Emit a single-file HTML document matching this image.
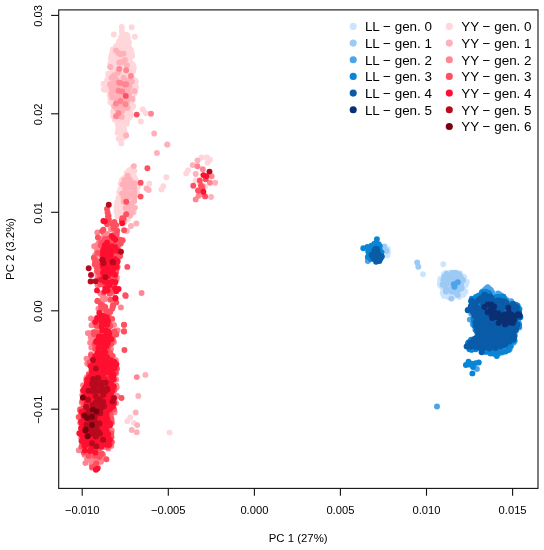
<!DOCTYPE html>
<html lang="en"><head><meta charset="utf-8"><title>PCA plot</title>
<style>html,body{margin:0;padding:0;background:#fff}svg{display:block}text{font-family:"Liberation Sans",Arial,Helvetica,sans-serif;fill:#000}</style></head><body>
<svg width="544" height="550" viewBox="0 0 544 550">
<rect width="544" height="550" fill="#fff"/>
<g fill="#FFD6DA">
<circle cx="130.7" cy="78.2" r="2.95"/><circle cx="114.6" cy="64.7" r="2.95"/><circle cx="111.1" cy="95.2" r="2.95"/><circle cx="111.3" cy="80.0" r="2.95"/><circle cx="133.7" cy="93.7" r="2.95"/><circle cx="110.9" cy="77.6" r="2.95"/><circle cx="119.5" cy="112.6" r="2.95"/><circle cx="130.5" cy="115.5" r="2.95"/><circle cx="120.5" cy="51.1" r="2.95"/><circle cx="122.8" cy="114.6" r="2.95"/><circle cx="126.6" cy="122.6" r="2.95"/><circle cx="123.6" cy="93.9" r="2.95"/><circle cx="127.3" cy="35.5" r="2.95"/><circle cx="119.7" cy="125.5" r="2.95"/><circle cx="116.4" cy="92.1" r="2.95"/><circle cx="124.8" cy="118.6" r="2.95"/><circle cx="120.1" cy="67.8" r="2.95"/><circle cx="112.1" cy="94.1" r="2.95"/><circle cx="122.8" cy="49.4" r="2.95"/><circle cx="106.0" cy="89.9" r="2.95"/><circle cx="124.9" cy="87.2" r="2.95"/><circle cx="122.4" cy="121.6" r="2.95"/><circle cx="126.4" cy="75.7" r="2.95"/><circle cx="118.7" cy="89.7" r="2.95"/><circle cx="114.0" cy="109.5" r="2.95"/><circle cx="125.3" cy="83.2" r="2.95"/><circle cx="131.1" cy="53.7" r="2.95"/><circle cx="123.0" cy="68.3" r="2.95"/><circle cx="121.5" cy="121.6" r="2.95"/><circle cx="123.6" cy="72.2" r="2.95"/><circle cx="118.4" cy="102.4" r="2.95"/><circle cx="128.1" cy="111.4" r="2.95"/><circle cx="122.3" cy="108.8" r="2.95"/><circle cx="105.9" cy="85.4" r="2.95"/><circle cx="122.0" cy="137.0" r="2.95"/><circle cx="115.6" cy="52.1" r="2.95"/><circle cx="117.6" cy="120.0" r="2.95"/><circle cx="111.2" cy="57.2" r="2.95"/><circle cx="119.8" cy="120.8" r="2.95"/><circle cx="122.0" cy="35.4" r="2.95"/><circle cx="119.3" cy="54.2" r="2.95"/><circle cx="122.4" cy="128.2" r="2.95"/><circle cx="118.8" cy="93.3" r="2.95"/><circle cx="110.8" cy="90.4" r="2.95"/><circle cx="129.7" cy="91.2" r="2.95"/><circle cx="112.8" cy="49.4" r="2.95"/><circle cx="121.9" cy="105.6" r="2.95"/><circle cx="123.2" cy="121.9" r="2.95"/><circle cx="127.7" cy="37.2" r="2.95"/><circle cx="128.6" cy="41.7" r="2.95"/><circle cx="112.2" cy="65.9" r="2.95"/><circle cx="112.2" cy="87.6" r="2.95"/><circle cx="119.1" cy="127.4" r="2.95"/><circle cx="114.8" cy="94.5" r="2.95"/><circle cx="126.7" cy="56.4" r="2.95"/><circle cx="126.2" cy="106.2" r="2.95"/><circle cx="128.4" cy="43.1" r="2.95"/><circle cx="119.0" cy="76.2" r="2.95"/><circle cx="120.9" cy="43.4" r="2.95"/><circle cx="126.9" cy="95.2" r="2.95"/><circle cx="128.6" cy="95.7" r="2.95"/><circle cx="126.3" cy="102.3" r="2.95"/><circle cx="116.8" cy="55.3" r="2.95"/><circle cx="111.0" cy="59.3" r="2.95"/><circle cx="116.7" cy="120.1" r="2.95"/><circle cx="115.8" cy="100.1" r="2.95"/><circle cx="126.5" cy="54.7" r="2.95"/><circle cx="127.8" cy="76.4" r="2.95"/><circle cx="135.0" cy="91.9" r="2.95"/><circle cx="126.0" cy="48.8" r="2.95"/><circle cx="120.1" cy="61.1" r="2.95"/><circle cx="118.2" cy="75.4" r="2.95"/><circle cx="113.2" cy="116.2" r="2.95"/><circle cx="117.5" cy="66.3" r="2.95"/><circle cx="117.0" cy="99.1" r="2.95"/><circle cx="128.9" cy="75.4" r="2.95"/><circle cx="123.4" cy="73.3" r="2.95"/><circle cx="122.2" cy="56.4" r="2.95"/><circle cx="118.9" cy="41.8" r="2.95"/><circle cx="125.2" cy="45.0" r="2.95"/><circle cx="125.9" cy="69.1" r="2.95"/><circle cx="112.7" cy="66.6" r="2.95"/><circle cx="113.1" cy="80.6" r="2.95"/><circle cx="115.3" cy="107.2" r="2.95"/><circle cx="130.1" cy="53.2" r="2.95"/><circle cx="124.6" cy="136.1" r="2.95"/><circle cx="117.6" cy="122.8" r="2.95"/><circle cx="108.2" cy="73.8" r="2.95"/><circle cx="109.0" cy="89.5" r="2.95"/><circle cx="114.2" cy="69.7" r="2.95"/><circle cx="113.6" cy="68.5" r="2.95"/><circle cx="123.3" cy="84.5" r="2.95"/><circle cx="117.3" cy="45.8" r="2.95"/><circle cx="123.5" cy="133.1" r="2.95"/><circle cx="133.0" cy="94.0" r="2.95"/><circle cx="118.3" cy="89.6" r="2.95"/><circle cx="131.7" cy="53.8" r="2.95"/><circle cx="128.6" cy="103.6" r="2.95"/><circle cx="115.0" cy="112.6" r="2.95"/><circle cx="122.8" cy="60.1" r="2.95"/><circle cx="116.5" cy="103.2" r="2.95"/><circle cx="129.3" cy="106.3" r="2.95"/><circle cx="117.3" cy="97.8" r="2.95"/><circle cx="131.8" cy="66.0" r="2.95"/><circle cx="108.8" cy="82.1" r="2.95"/><circle cx="116.5" cy="84.8" r="2.95"/><circle cx="125.4" cy="134.6" r="2.95"/><circle cx="118.3" cy="122.3" r="2.95"/><circle cx="128.8" cy="42.4" r="2.95"/><circle cx="123.4" cy="126.5" r="2.95"/><circle cx="121.5" cy="48.5" r="2.95"/><circle cx="126.6" cy="77.5" r="2.95"/><circle cx="116.9" cy="75.2" r="2.95"/><circle cx="113.8" cy="100.0" r="2.95"/><circle cx="125.8" cy="67.6" r="2.95"/><circle cx="111.3" cy="58.1" r="2.95"/><circle cx="120.9" cy="133.1" r="2.95"/><circle cx="117.9" cy="78.6" r="2.95"/><circle cx="114.7" cy="61.8" r="2.95"/><circle cx="126.4" cy="83.3" r="2.95"/><circle cx="107.2" cy="80.2" r="2.95"/><circle cx="130.8" cy="49.6" r="2.95"/><circle cx="116.2" cy="95.3" r="2.95"/><circle cx="114.3" cy="77.8" r="2.95"/><circle cx="129.1" cy="67.5" r="2.95"/><circle cx="123.8" cy="86.4" r="2.95"/><circle cx="116.7" cy="91.2" r="2.95"/><circle cx="113.4" cy="79.4" r="2.95"/><circle cx="130.2" cy="70.9" r="2.95"/><circle cx="118.7" cy="138.8" r="2.95"/><circle cx="135.5" cy="80.6" r="2.95"/><circle cx="110.4" cy="102.2" r="2.95"/><circle cx="130.4" cy="104.3" r="2.95"/><circle cx="129.8" cy="66.9" r="2.95"/><circle cx="119.3" cy="131.4" r="2.95"/><circle cx="129.4" cy="97.1" r="2.95"/><circle cx="113.0" cy="67.4" r="2.95"/><circle cx="133.9" cy="68.1" r="2.95"/><circle cx="119.9" cy="70.5" r="2.95"/><circle cx="125.6" cy="81.3" r="2.95"/><circle cx="134.0" cy="94.0" r="2.95"/><circle cx="130.0" cy="88.4" r="2.95"/><circle cx="121.9" cy="116.3" r="2.95"/><circle cx="119.6" cy="105.7" r="2.95"/><circle cx="113.9" cy="111.4" r="2.95"/><circle cx="113.3" cy="113.6" r="2.95"/><circle cx="108.7" cy="89.7" r="2.95"/><circle cx="129.6" cy="67.3" r="2.95"/><circle cx="113.1" cy="97.7" r="2.95"/><circle cx="121.6" cy="109.9" r="2.95"/><circle cx="133.0" cy="71.5" r="2.95"/><circle cx="118.1" cy="103.7" r="2.95"/><circle cx="117.7" cy="62.0" r="2.95"/><circle cx="116.5" cy="60.0" r="2.95"/><circle cx="124.0" cy="128.7" r="2.95"/><circle cx="119.6" cy="46.0" r="2.95"/><circle cx="122.6" cy="130.9" r="2.95"/><circle cx="131.7" cy="78.6" r="2.95"/><circle cx="117.6" cy="132.8" r="2.95"/><circle cx="126.6" cy="53.3" r="2.95"/><circle cx="126.0" cy="105.2" r="2.95"/><circle cx="111.7" cy="82.6" r="2.95"/><circle cx="119.1" cy="62.9" r="2.95"/><circle cx="116.5" cy="80.3" r="2.95"/><circle cx="123.7" cy="109.7" r="2.95"/><circle cx="113.5" cy="53.1" r="2.95"/><circle cx="124.7" cy="132.5" r="2.95"/><circle cx="129.6" cy="114.2" r="2.95"/><circle cx="122.0" cy="40.7" r="2.95"/><circle cx="120.9" cy="109.0" r="2.95"/><circle cx="132.6" cy="87.9" r="2.95"/><circle cx="121.6" cy="36.7" r="2.95"/><circle cx="127.0" cy="115.6" r="2.95"/><circle cx="126.6" cy="108.9" r="2.95"/><circle cx="123.6" cy="39.2" r="2.95"/><circle cx="129.8" cy="60.7" r="2.95"/><circle cx="131.7" cy="54.3" r="2.95"/><circle cx="115.5" cy="79.0" r="2.95"/><circle cx="125.1" cy="122.1" r="2.95"/><circle cx="116.9" cy="59.5" r="2.95"/><circle cx="112.5" cy="103.8" r="2.95"/><circle cx="117.9" cy="67.3" r="2.95"/><circle cx="112.1" cy="98.1" r="2.95"/><circle cx="124.0" cy="71.7" r="2.95"/><circle cx="116.9" cy="81.2" r="2.95"/><circle cx="113.1" cy="111.5" r="2.95"/><circle cx="114.9" cy="85.9" r="2.95"/><circle cx="118.6" cy="114.4" r="2.95"/><circle cx="124.0" cy="137.2" r="2.95"/><circle cx="133.3" cy="89.3" r="2.95"/><circle cx="110.5" cy="98.9" r="2.95"/><circle cx="117.4" cy="64.4" r="2.95"/><circle cx="132.2" cy="84.7" r="2.95"/><circle cx="132.2" cy="107.5" r="2.95"/><circle cx="108.4" cy="76.9" r="2.95"/><circle cx="120.6" cy="138.6" r="2.95"/><circle cx="107.2" cy="80.5" r="2.95"/><circle cx="124.0" cy="123.5" r="2.95"/><circle cx="130.4" cy="66.3" r="2.95"/><circle cx="117.2" cy="54.0" r="2.95"/><circle cx="124.9" cy="100.2" r="2.95"/><circle cx="133.3" cy="106.1" r="2.95"/><circle cx="123.6" cy="134.9" r="2.95"/><circle cx="129.5" cy="105.0" r="2.95"/><circle cx="127.4" cy="63.3" r="2.95"/><circle cx="112.7" cy="52.5" r="2.95"/><circle cx="115.0" cy="92.3" r="2.95"/><circle cx="114.4" cy="76.5" r="2.95"/><circle cx="133.2" cy="65.9" r="2.95"/><circle cx="112.2" cy="54.6" r="2.95"/><circle cx="121.8" cy="125.3" r="2.95"/><circle cx="128.4" cy="107.2" r="2.95"/><circle cx="122.6" cy="98.1" r="2.95"/><circle cx="110.8" cy="81.2" r="2.95"/><circle cx="124.5" cy="85.5" r="2.95"/><circle cx="114.4" cy="76.8" r="2.95"/><circle cx="117.9" cy="124.7" r="2.95"/><circle cx="123.3" cy="95.0" r="2.95"/><circle cx="115.3" cy="87.2" r="2.95"/><circle cx="117.4" cy="94.8" r="2.95"/><circle cx="115.8" cy="47.6" r="2.95"/><circle cx="118.1" cy="102.9" r="2.95"/><circle cx="112.6" cy="72.0" r="2.95"/><circle cx="120.4" cy="56.1" r="2.95"/><circle cx="127.3" cy="46.5" r="2.95"/><circle cx="118.5" cy="79.9" r="2.95"/><circle cx="114.6" cy="65.3" r="2.95"/><circle cx="123.4" cy="57.9" r="2.95"/><circle cx="117.4" cy="78.1" r="2.95"/><circle cx="112.3" cy="78.7" r="2.95"/><circle cx="132.1" cy="56.1" r="2.95"/><circle cx="132.6" cy="78.7" r="2.95"/><circle cx="114.6" cy="64.5" r="2.95"/><circle cx="117.0" cy="81.0" r="2.95"/><circle cx="116.3" cy="67.1" r="2.95"/><circle cx="118.7" cy="52.7" r="2.95"/><circle cx="126.2" cy="35.7" r="2.95"/><circle cx="115.5" cy="73.4" r="2.95"/><circle cx="112.1" cy="79.7" r="2.95"/><circle cx="134.8" cy="90.2" r="2.95"/><circle cx="113.2" cy="66.7" r="2.95"/><circle cx="121.9" cy="121.9" r="2.95"/><circle cx="115.3" cy="92.7" r="2.95"/><circle cx="120.3" cy="46.6" r="2.95"/><circle cx="121.6" cy="126.3" r="2.95"/><circle cx="113.2" cy="75.5" r="2.95"/><circle cx="128.1" cy="82.2" r="2.95"/><circle cx="121.4" cy="87.6" r="2.95"/><circle cx="120.7" cy="69.3" r="2.95"/><circle cx="126.5" cy="54.0" r="2.95"/><circle cx="126.8" cy="93.7" r="2.95"/><circle cx="121.9" cy="61.1" r="2.95"/><circle cx="129.4" cy="71.8" r="2.95"/><circle cx="121.9" cy="110.8" r="2.95"/><circle cx="115.5" cy="58.9" r="2.95"/><circle cx="132.8" cy="68.1" r="2.95"/><circle cx="128.9" cy="117.7" r="2.95"/><circle cx="120.4" cy="85.6" r="2.95"/><circle cx="115.7" cy="68.7" r="2.95"/><circle cx="126.3" cy="44.9" r="2.95"/><circle cx="118.0" cy="82.8" r="2.95"/><circle cx="121.9" cy="83.4" r="2.95"/><circle cx="125.8" cy="35.1" r="2.95"/><circle cx="118.2" cy="129.2" r="2.95"/><circle cx="130.1" cy="87.2" r="2.95"/><circle cx="112.9" cy="79.2" r="2.95"/><circle cx="120.2" cy="96.1" r="2.95"/><circle cx="126.6" cy="123.9" r="2.95"/><circle cx="110.8" cy="66.6" r="2.95"/><circle cx="125.2" cy="48.0" r="2.95"/><circle cx="123.0" cy="38.2" r="2.95"/><circle cx="109.8" cy="89.8" r="2.95"/><circle cx="110.2" cy="66.8" r="2.95"/><circle cx="122.3" cy="123.7" r="2.95"/><circle cx="118.7" cy="119.8" r="2.95"/><circle cx="118.0" cy="63.9" r="2.95"/><circle cx="129.6" cy="52.6" r="2.95"/><circle cx="120.9" cy="93.9" r="2.95"/><circle cx="117.2" cy="69.9" r="2.95"/><circle cx="117.3" cy="62.1" r="2.95"/><circle cx="134.2" cy="86.0" r="2.95"/><circle cx="128.5" cy="99.8" r="2.95"/><circle cx="126.1" cy="114.0" r="2.95"/><circle cx="113.2" cy="63.6" r="2.95"/><circle cx="121.0" cy="57.8" r="2.95"/><circle cx="130.6" cy="65.4" r="2.95"/><circle cx="121.0" cy="117.5" r="2.95"/><circle cx="129.2" cy="104.4" r="2.95"/><circle cx="114.5" cy="115.0" r="2.95"/><circle cx="129.9" cy="103.4" r="2.95"/><circle cx="119.8" cy="126.8" r="2.95"/><circle cx="120.7" cy="100.6" r="2.95"/><circle cx="110.4" cy="91.4" r="2.95"/><circle cx="124.7" cy="121.7" r="2.95"/><circle cx="124.1" cy="84.1" r="2.95"/><circle cx="129.3" cy="47.8" r="2.95"/><circle cx="124.8" cy="108.8" r="2.95"/><circle cx="120.9" cy="37.9" r="2.95"/><circle cx="120.9" cy="127.0" r="2.95"/><circle cx="121.8" cy="39.1" r="2.95"/><circle cx="109.8" cy="95.4" r="2.95"/><circle cx="127.5" cy="63.3" r="2.95"/><circle cx="129.8" cy="111.9" r="2.95"/><circle cx="109.5" cy="79.0" r="2.95"/><circle cx="127.2" cy="119.7" r="2.95"/><circle cx="123.7" cy="68.4" r="2.95"/><circle cx="128.8" cy="100.3" r="2.95"/><circle cx="130.8" cy="66.5" r="2.95"/><circle cx="130.0" cy="109.2" r="2.95"/><circle cx="124.2" cy="107.9" r="2.95"/><circle cx="129.3" cy="80.5" r="2.95"/><circle cx="124.9" cy="117.9" r="2.95"/><circle cx="120.2" cy="53.3" r="2.95"/><circle cx="121.6" cy="131.0" r="2.95"/><circle cx="130.3" cy="63.6" r="2.95"/><circle cx="122.9" cy="104.6" r="2.95"/><circle cx="115.9" cy="81.7" r="2.95"/><circle cx="126.2" cy="34.6" r="2.95"/><circle cx="114.8" cy="119.7" r="2.95"/><circle cx="119.4" cy="131.1" r="2.95"/><circle cx="134.0" cy="80.7" r="2.95"/><circle cx="114.5" cy="84.9" r="2.95"/><circle cx="135.9" cy="82.1" r="2.95"/><circle cx="111.6" cy="87.1" r="2.95"/><circle cx="124.7" cy="123.2" r="2.95"/><circle cx="128.1" cy="68.1" r="2.95"/><circle cx="132.4" cy="64.1" r="2.95"/><circle cx="122.1" cy="112.5" r="2.95"/><circle cx="122.0" cy="91.0" r="2.95"/><circle cx="132.6" cy="85.8" r="2.95"/><circle cx="107.9" cy="88.1" r="2.95"/><circle cx="132.4" cy="100.5" r="2.95"/><circle cx="126.0" cy="57.4" r="2.95"/><circle cx="116.2" cy="46.0" r="2.95"/><circle cx="125.3" cy="44.2" r="2.95"/><circle cx="122.1" cy="37.3" r="2.95"/><circle cx="125.8" cy="119.1" r="2.95"/><circle cx="117.2" cy="50.6" r="2.95"/><circle cx="132.2" cy="67.5" r="2.95"/><circle cx="128.2" cy="51.9" r="2.95"/><circle cx="136.3" cy="87.1" r="2.95"/><circle cx="121.0" cy="109.9" r="2.95"/><circle cx="121.6" cy="88.1" r="2.95"/><circle cx="113.3" cy="80.1" r="2.95"/><circle cx="122.8" cy="94.1" r="2.95"/><circle cx="112.4" cy="53.0" r="2.95"/><circle cx="116.8" cy="78.6" r="2.95"/><circle cx="122.5" cy="106.9" r="2.95"/><circle cx="116.1" cy="53.7" r="2.95"/><circle cx="125.5" cy="55.9" r="2.95"/><circle cx="123.6" cy="89.3" r="2.95"/><circle cx="115.1" cy="110.7" r="2.95"/><circle cx="121.4" cy="94.6" r="2.95"/><circle cx="126.9" cy="66.5" r="2.95"/><circle cx="127.5" cy="49.8" r="2.95"/><circle cx="132.5" cy="78.8" r="2.95"/><circle cx="111.5" cy="55.1" r="2.95"/><circle cx="120.7" cy="58.0" r="2.95"/><circle cx="134.1" cy="86.9" r="2.95"/><circle cx="130.7" cy="97.3" r="2.95"/><circle cx="120.5" cy="81.2" r="2.95"/><circle cx="128.2" cy="106.0" r="2.95"/><circle cx="126.9" cy="73.3" r="2.95"/><circle cx="123.5" cy="132.1" r="2.95"/><circle cx="124.2" cy="62.1" r="2.95"/><circle cx="121.4" cy="109.6" r="2.95"/><circle cx="127.0" cy="97.0" r="2.95"/><circle cx="119.9" cy="75.4" r="2.95"/><circle cx="124.8" cy="67.1" r="2.95"/><circle cx="114.0" cy="77.0" r="2.95"/><circle cx="123.5" cy="121.1" r="2.95"/><circle cx="113.0" cy="101.9" r="2.95"/><circle cx="123.1" cy="120.5" r="2.95"/><circle cx="110.4" cy="63.5" r="2.95"/><circle cx="128.2" cy="57.9" r="2.95"/><circle cx="127.1" cy="68.9" r="2.95"/><circle cx="119.1" cy="72.1" r="2.95"/><circle cx="132.7" cy="91.1" r="2.95"/><circle cx="118.7" cy="72.6" r="2.95"/><circle cx="128.9" cy="81.8" r="2.95"/><circle cx="121.3" cy="143.4" r="2.95"/><circle cx="120.6" cy="139.6" r="2.95"/><circle cx="123.0" cy="136.5" r="2.95"/><circle cx="103.5" cy="84.0" r="2.95"/><circle cx="103.8" cy="89.5" r="2.95"/><circle cx="121.7" cy="26.9" r="2.95"/><circle cx="121.9" cy="30.9" r="2.95"/><circle cx="131.7" cy="27.2" r="2.95"/><circle cx="113.8" cy="34.5" r="2.95"/><circle cx="134.8" cy="36.8" r="2.95"/><circle cx="142.7" cy="109.5" r="2.95"/><circle cx="145.9" cy="113.3" r="2.95"/><circle cx="140.8" cy="121.4" r="2.95"/><circle cx="137.1" cy="193.7" r="2.95"/><circle cx="127.2" cy="199.1" r="2.95"/><circle cx="130.8" cy="214.5" r="2.95"/><circle cx="132.4" cy="183.3" r="2.95"/><circle cx="136.8" cy="192.0" r="2.95"/><circle cx="131.7" cy="187.9" r="2.95"/><circle cx="134.3" cy="191.7" r="2.95"/><circle cx="122.7" cy="192.3" r="2.95"/><circle cx="127.8" cy="215.1" r="2.95"/><circle cx="135.3" cy="190.9" r="2.95"/><circle cx="120.5" cy="209.3" r="2.95"/><circle cx="132.7" cy="195.6" r="2.95"/><circle cx="119.3" cy="201.5" r="2.95"/><circle cx="132.0" cy="209.1" r="2.95"/><circle cx="128.6" cy="185.5" r="2.95"/><circle cx="120.9" cy="199.8" r="2.95"/><circle cx="133.6" cy="207.5" r="2.95"/><circle cx="122.8" cy="184.5" r="2.95"/><circle cx="128.6" cy="186.3" r="2.95"/><circle cx="121.6" cy="220.0" r="2.95"/><circle cx="126.7" cy="204.7" r="2.95"/><circle cx="117.9" cy="215.4" r="2.95"/><circle cx="125.3" cy="190.0" r="2.95"/><circle cx="120.6" cy="215.9" r="2.95"/><circle cx="120.3" cy="192.8" r="2.95"/><circle cx="134.0" cy="199.3" r="2.95"/><circle cx="121.7" cy="208.5" r="2.95"/><circle cx="117.4" cy="202.3" r="2.95"/><circle cx="125.2" cy="205.8" r="2.95"/><circle cx="132.8" cy="197.0" r="2.95"/><circle cx="126.7" cy="213.3" r="2.95"/><circle cx="133.1" cy="172.4" r="2.95"/><circle cx="123.7" cy="198.3" r="2.95"/><circle cx="130.1" cy="177.4" r="2.95"/><circle cx="125.7" cy="197.8" r="2.95"/><circle cx="123.2" cy="207.6" r="2.95"/><circle cx="134.3" cy="199.1" r="2.95"/><circle cx="119.0" cy="197.8" r="2.95"/><circle cx="120.0" cy="209.9" r="2.95"/><circle cx="126.7" cy="173.0" r="2.95"/><circle cx="129.1" cy="211.5" r="2.95"/><circle cx="129.5" cy="205.6" r="2.95"/><circle cx="127.4" cy="217.3" r="2.95"/><circle cx="131.6" cy="169.5" r="2.95"/><circle cx="124.3" cy="219.2" r="2.95"/><circle cx="135.9" cy="180.3" r="2.95"/><circle cx="132.0" cy="193.0" r="2.95"/><circle cx="117.1" cy="203.9" r="2.95"/><circle cx="129.1" cy="191.5" r="2.95"/><circle cx="125.7" cy="199.8" r="2.95"/><circle cx="125.2" cy="182.0" r="2.95"/><circle cx="133.3" cy="190.7" r="2.95"/><circle cx="130.0" cy="215.5" r="2.95"/><circle cx="118.4" cy="198.2" r="2.95"/><circle cx="123.0" cy="184.8" r="2.95"/><circle cx="134.1" cy="195.8" r="2.95"/><circle cx="131.5" cy="183.7" r="2.95"/><circle cx="127.7" cy="219.4" r="2.95"/><circle cx="127.3" cy="216.1" r="2.95"/><circle cx="127.7" cy="215.6" r="2.95"/><circle cx="131.0" cy="198.2" r="2.95"/><circle cx="133.8" cy="194.1" r="2.95"/><circle cx="128.3" cy="194.2" r="2.95"/><circle cx="120.4" cy="188.9" r="2.95"/><circle cx="123.1" cy="211.0" r="2.95"/><circle cx="127.2" cy="206.7" r="2.95"/><circle cx="122.2" cy="202.7" r="2.95"/><circle cx="121.8" cy="211.6" r="2.95"/><circle cx="122.8" cy="196.8" r="2.95"/><circle cx="129.7" cy="212.4" r="2.95"/><circle cx="130.0" cy="214.2" r="2.95"/><circle cx="134.3" cy="179.6" r="2.95"/><circle cx="122.2" cy="215.1" r="2.95"/><circle cx="123.9" cy="195.4" r="2.95"/><circle cx="119.2" cy="192.3" r="2.95"/><circle cx="132.4" cy="179.5" r="2.95"/><circle cx="132.3" cy="204.9" r="2.95"/><circle cx="133.8" cy="212.0" r="2.95"/><circle cx="129.5" cy="176.9" r="2.95"/><circle cx="132.9" cy="167.5" r="2.95"/><circle cx="135.3" cy="182.0" r="2.95"/><circle cx="133.1" cy="208.0" r="2.95"/><circle cx="116.8" cy="209.6" r="2.95"/><circle cx="123.2" cy="211.9" r="2.95"/><circle cx="122.1" cy="187.3" r="2.95"/><circle cx="117.4" cy="216.3" r="2.95"/><circle cx="131.4" cy="177.3" r="2.95"/><circle cx="124.6" cy="207.7" r="2.95"/><circle cx="123.4" cy="211.9" r="2.95"/><circle cx="125.1" cy="186.8" r="2.95"/><circle cx="135.3" cy="185.1" r="2.95"/><circle cx="135.0" cy="190.8" r="2.95"/><circle cx="123.6" cy="195.5" r="2.95"/><circle cx="122.8" cy="195.5" r="2.95"/><circle cx="119.1" cy="208.9" r="2.95"/><circle cx="126.1" cy="189.9" r="2.95"/><circle cx="128.9" cy="204.6" r="2.95"/><circle cx="123.9" cy="216.9" r="2.95"/><circle cx="124.1" cy="178.3" r="2.95"/><circle cx="130.2" cy="201.7" r="2.95"/><circle cx="130.7" cy="206.0" r="2.95"/><circle cx="120.5" cy="200.3" r="2.95"/><circle cx="133.1" cy="193.2" r="2.95"/><circle cx="116.6" cy="211.1" r="2.95"/><circle cx="122.0" cy="180.0" r="2.95"/><circle cx="127.9" cy="181.0" r="2.95"/><circle cx="129.8" cy="190.0" r="2.95"/><circle cx="122.5" cy="204.2" r="2.95"/><circle cx="128.3" cy="210.2" r="2.95"/><circle cx="129.0" cy="217.1" r="2.95"/><circle cx="121.2" cy="214.5" r="2.95"/><circle cx="118.8" cy="214.0" r="2.95"/><circle cx="124.6" cy="177.9" r="2.95"/><circle cx="121.1" cy="215.8" r="2.95"/><circle cx="118.8" cy="204.4" r="2.95"/><circle cx="126.6" cy="211.3" r="2.95"/><circle cx="133.9" cy="182.0" r="2.95"/><circle cx="137.6" cy="187.5" r="2.95"/><circle cx="117.2" cy="212.0" r="2.95"/><circle cx="133.4" cy="177.9" r="2.95"/><circle cx="129.6" cy="208.5" r="2.95"/><circle cx="118.7" cy="207.7" r="2.95"/><circle cx="120.1" cy="203.0" r="2.95"/><circle cx="129.2" cy="170.2" r="2.95"/><circle cx="122.3" cy="195.4" r="2.95"/><circle cx="127.8" cy="179.5" r="2.95"/><circle cx="119.5" cy="196.7" r="2.95"/><circle cx="123.3" cy="206.7" r="2.95"/><circle cx="132.5" cy="191.5" r="2.95"/><circle cx="122.0" cy="197.9" r="2.95"/><circle cx="134.5" cy="171.1" r="2.95"/><circle cx="124.0" cy="198.1" r="2.95"/><circle cx="120.7" cy="183.4" r="2.95"/><circle cx="134.1" cy="176.9" r="2.95"/><circle cx="130.6" cy="189.4" r="2.95"/><circle cx="128.2" cy="206.1" r="2.95"/><circle cx="126.6" cy="187.4" r="2.95"/><circle cx="134.8" cy="178.1" r="2.95"/><circle cx="134.5" cy="185.5" r="2.95"/><circle cx="126.6" cy="192.1" r="2.95"/><circle cx="132.5" cy="198.0" r="2.95"/><circle cx="126.8" cy="214.6" r="2.95"/><circle cx="131.2" cy="192.2" r="2.95"/><circle cx="116.4" cy="206.9" r="2.95"/><circle cx="127.4" cy="173.5" r="2.95"/><circle cx="134.9" cy="187.5" r="2.95"/><circle cx="127.8" cy="195.3" r="2.95"/><circle cx="124.7" cy="178.1" r="2.95"/><circle cx="125.5" cy="206.8" r="2.95"/><circle cx="118.9" cy="198.0" r="2.95"/><circle cx="166.4" cy="177.3" r="2.95"/><circle cx="163.3" cy="186.3" r="2.95"/><circle cx="161.5" cy="189.5" r="2.95"/><circle cx="149.3" cy="183.7" r="2.95"/><circle cx="136.3" cy="223.6" r="2.95"/><circle cx="201.6" cy="157.4" r="2.95"/><circle cx="206.9" cy="157.4" r="2.95"/><circle cx="209.9" cy="159.8" r="2.95"/><circle cx="207.5" cy="162.7" r="2.95"/><circle cx="188.0" cy="170.4" r="2.95"/><circle cx="186.2" cy="173.4" r="2.95"/><circle cx="195.7" cy="180.5" r="2.95"/><circle cx="205.1" cy="186.4" r="2.95"/><circle cx="130.2" cy="417.4" r="2.95"/><circle cx="127.3" cy="421.2" r="2.95"/><circle cx="133.9" cy="422.9" r="2.95"/><circle cx="169.6" cy="432.6" r="2.95"/>
</g>
<g fill="#FFB0B8">
<circle cx="116.0" cy="50.5" r="2.95"/><circle cx="118.5" cy="53.0" r="2.95"/><circle cx="120.5" cy="54.3" r="2.95"/><circle cx="123.6" cy="53.6" r="2.95"/><circle cx="119.2" cy="62.5" r="2.95"/><circle cx="122.4" cy="61.9" r="2.95"/><circle cx="124.9" cy="60.0" r="2.95"/><circle cx="126.8" cy="65.1" r="2.95"/><circle cx="110.3" cy="67.0" r="2.95"/><circle cx="117.9" cy="72.7" r="2.95"/><circle cx="114.1" cy="75.3" r="2.95"/><circle cx="111.5" cy="77.8" r="2.95"/><circle cx="116.0" cy="79.1" r="2.95"/><circle cx="123.6" cy="77.8" r="2.95"/><circle cx="128.1" cy="80.4" r="2.95"/><circle cx="114.1" cy="82.9" r="2.95"/><circle cx="110.3" cy="84.2" r="2.95"/><circle cx="131.9" cy="81.6" r="2.95"/><circle cx="117.1" cy="85.3" r="2.95"/><circle cx="129.0" cy="93.8" r="2.95"/><circle cx="119.1" cy="93.2" r="2.95"/><circle cx="122.8" cy="86.8" r="2.95"/><circle cx="116.4" cy="108.6" r="2.95"/><circle cx="118.2" cy="104.7" r="2.95"/><circle cx="124.1" cy="108.0" r="2.95"/><circle cx="113.7" cy="91.3" r="2.95"/><circle cx="119.4" cy="113.1" r="2.95"/><circle cx="121.8" cy="116.9" r="2.95"/><circle cx="120.4" cy="101.3" r="2.95"/><circle cx="110.4" cy="85.0" r="2.95"/><circle cx="124.7" cy="98.7" r="2.95"/><circle cx="121.3" cy="98.0" r="2.95"/><circle cx="112.3" cy="97.4" r="2.95"/><circle cx="129.5" cy="86.4" r="2.95"/><circle cx="124.2" cy="83.3" r="2.95"/><circle cx="116.9" cy="96.8" r="2.95"/><circle cx="123.6" cy="93.0" r="2.95"/><circle cx="111.7" cy="88.5" r="2.95"/><circle cx="119.9" cy="88.8" r="2.95"/><circle cx="116.5" cy="100.5" r="2.95"/><circle cx="111.3" cy="93.8" r="2.95"/><circle cx="114.1" cy="106.1" r="2.95"/><circle cx="120.4" cy="107.3" r="2.95"/><circle cx="126.2" cy="104.3" r="2.95"/><circle cx="122.1" cy="110.9" r="2.95"/><circle cx="128.4" cy="90.2" r="2.95"/><circle cx="115.9" cy="88.5" r="2.95"/><circle cx="128.6" cy="83.0" r="2.95"/><circle cx="128.4" cy="97.6" r="2.95"/><circle cx="118.2" cy="116.3" r="2.95"/><circle cx="113.6" cy="83.5" r="2.95"/><circle cx="120.5" cy="83.6" r="2.95"/><circle cx="122.8" cy="104.3" r="2.95"/><circle cx="127.6" cy="107.7" r="2.95"/><circle cx="124.9" cy="89.6" r="2.95"/><circle cx="127.4" cy="101.0" r="2.95"/><circle cx="126.2" cy="135.4" r="2.95"/><circle cx="154.2" cy="133.5" r="2.95"/><circle cx="167.4" cy="144.4" r="2.95"/><circle cx="134.5" cy="91.0" r="2.95"/><circle cx="132.5" cy="99.0" r="2.95"/><circle cx="129.3" cy="207.1" r="2.95"/><circle cx="125.3" cy="189.2" r="2.95"/><circle cx="123.6" cy="197.5" r="2.95"/><circle cx="134.9" cy="207.6" r="2.95"/><circle cx="129.8" cy="187.7" r="2.95"/><circle cx="130.2" cy="215.5" r="2.95"/><circle cx="134.2" cy="201.2" r="2.95"/><circle cx="130.2" cy="193.5" r="2.95"/><circle cx="128.4" cy="211.1" r="2.95"/><circle cx="128.4" cy="197.6" r="2.95"/><circle cx="130.5" cy="183.6" r="2.95"/><circle cx="124.5" cy="180.0" r="2.95"/><circle cx="134.4" cy="188.1" r="2.95"/><circle cx="134.6" cy="192.6" r="2.95"/><circle cx="129.2" cy="179.2" r="2.95"/><circle cx="125.6" cy="193.6" r="2.95"/><circle cx="126.9" cy="203.4" r="2.95"/><circle cx="132.7" cy="212.4" r="2.95"/><circle cx="122.6" cy="184.5" r="2.95"/><circle cx="134.3" cy="183.3" r="2.95"/><circle cx="134.5" cy="196.6" r="2.95"/><circle cx="127.7" cy="175.7" r="2.95"/><circle cx="125.6" cy="208.1" r="2.95"/><circle cx="122.0" cy="193.6" r="2.95"/><circle cx="123.6" cy="201.6" r="2.95"/><circle cx="131.1" cy="203.8" r="2.95"/><circle cx="126.9" cy="184.5" r="2.95"/><circle cx="133.9" cy="166.1" r="2.95"/><circle cx="146.5" cy="188.5" r="2.95"/><circle cx="148.7" cy="190.0" r="2.95"/><circle cx="136.4" cy="223.4" r="2.95"/><circle cx="130.5" cy="181.0" r="2.95"/><circle cx="156.9" cy="152.9" r="2.95"/><circle cx="167.2" cy="144.6" r="2.95"/><circle cx="124.0" cy="222.0" r="2.95"/><circle cx="131.0" cy="226.0" r="2.95"/><circle cx="127.0" cy="231.0" r="2.95"/><circle cx="197.5" cy="160.4" r="2.95"/><circle cx="192.7" cy="165.1" r="2.95"/><circle cx="195.7" cy="174.0" r="2.95"/><circle cx="215.2" cy="182.8" r="2.95"/><circle cx="211.1" cy="197.0" r="2.95"/><circle cx="200.4" cy="184.0" r="2.95"/><circle cx="145.4" cy="374.9" r="2.95"/><circle cx="138.3" cy="396.0" r="2.95"/><circle cx="135.7" cy="412.4" r="2.95"/><circle cx="137.2" cy="425.1" r="2.95"/><circle cx="131.7" cy="430.0" r="2.95"/><circle cx="136.8" cy="432.2" r="2.95"/>
</g>
<g fill="#FF8592">
<circle cx="119.2" cy="68.9" r="2.95"/><circle cx="126.2" cy="70.2" r="2.95"/><circle cx="130.9" cy="75.9" r="2.95"/><circle cx="120.5" cy="82.9" r="2.95"/><circle cx="126.2" cy="84.2" r="2.95"/><circle cx="119.2" cy="82.5" r="2.95"/><circle cx="124.9" cy="84.5" r="2.95"/><circle cx="118.5" cy="90.8" r="2.95"/><circle cx="122.4" cy="91.5" r="2.95"/><circle cx="116.0" cy="103.5" r="2.95"/><circle cx="120.5" cy="101.0" r="2.95"/><circle cx="125.5" cy="104.2" r="2.95"/><circle cx="118.5" cy="113.1" r="2.95"/><circle cx="116.0" cy="116.3" r="2.95"/><circle cx="151.0" cy="113.7" r="2.95"/><circle cx="197.5" cy="166.3" r="2.95"/><circle cx="202.8" cy="169.2" r="2.95"/><circle cx="211.6" cy="176.3" r="2.95"/><circle cx="209.9" cy="182.8" r="2.95"/><circle cx="202.8" cy="186.4" r="2.95"/><circle cx="198.6" cy="195.8" r="2.95"/><circle cx="195.7" cy="199.4" r="2.95"/><circle cx="200.4" cy="194.1" r="2.95"/><circle cx="100.4" cy="316.0" r="2.95"/><circle cx="96.7" cy="271.9" r="2.95"/><circle cx="117.7" cy="266.7" r="2.95"/><circle cx="103.0" cy="265.3" r="2.95"/><circle cx="107.3" cy="233.9" r="2.95"/><circle cx="97.0" cy="249.1" r="2.95"/><circle cx="116.2" cy="264.9" r="2.95"/><circle cx="115.3" cy="239.2" r="2.95"/><circle cx="102.3" cy="300.8" r="2.95"/><circle cx="104.9" cy="237.5" r="2.95"/><circle cx="108.0" cy="318.9" r="2.95"/><circle cx="103.3" cy="261.8" r="2.95"/><circle cx="109.7" cy="270.9" r="2.95"/><circle cx="114.4" cy="283.5" r="2.95"/><circle cx="112.9" cy="271.8" r="2.95"/><circle cx="114.6" cy="230.6" r="2.95"/><circle cx="101.3" cy="327.0" r="2.95"/><circle cx="109.4" cy="254.2" r="2.95"/><circle cx="98.8" cy="284.4" r="2.95"/><circle cx="112.2" cy="293.2" r="2.95"/><circle cx="112.7" cy="305.2" r="2.95"/><circle cx="101.3" cy="238.7" r="2.95"/><circle cx="101.4" cy="255.4" r="2.95"/><circle cx="108.6" cy="244.0" r="2.95"/><circle cx="97.2" cy="268.0" r="2.95"/><circle cx="116.5" cy="263.4" r="2.95"/><circle cx="105.3" cy="260.5" r="2.95"/><circle cx="96.1" cy="254.6" r="2.95"/><circle cx="116.1" cy="246.0" r="2.95"/><circle cx="113.5" cy="264.4" r="2.95"/><circle cx="103.6" cy="316.6" r="2.95"/><circle cx="103.6" cy="233.5" r="2.95"/><circle cx="114.1" cy="270.9" r="2.95"/><circle cx="105.1" cy="312.4" r="2.95"/><circle cx="100.2" cy="322.0" r="2.95"/><circle cx="111.9" cy="286.2" r="2.95"/><circle cx="108.5" cy="313.3" r="2.95"/><circle cx="97.2" cy="282.2" r="2.95"/><circle cx="102.3" cy="244.9" r="2.95"/><circle cx="109.4" cy="274.9" r="2.95"/><circle cx="97.3" cy="251.2" r="2.95"/><circle cx="102.7" cy="296.2" r="2.95"/><circle cx="106.8" cy="259.5" r="2.95"/><circle cx="110.9" cy="229.2" r="2.95"/><circle cx="118.2" cy="249.6" r="2.95"/><circle cx="98.3" cy="262.9" r="2.95"/><circle cx="97.4" cy="275.8" r="2.95"/><circle cx="114.1" cy="255.0" r="2.95"/><circle cx="106.8" cy="287.5" r="2.95"/><circle cx="103.7" cy="246.4" r="2.95"/><circle cx="97.6" cy="285.2" r="2.95"/><circle cx="97.1" cy="260.7" r="2.95"/><circle cx="105.5" cy="281.2" r="2.95"/><circle cx="100.5" cy="293.4" r="2.95"/><circle cx="115.8" cy="255.8" r="2.95"/><circle cx="105.2" cy="316.1" r="2.95"/><circle cx="116.8" cy="233.8" r="2.95"/><circle cx="97.9" cy="326.7" r="2.95"/><circle cx="108.1" cy="264.4" r="2.95"/><circle cx="93.9" cy="320.5" r="2.95"/><circle cx="116.1" cy="272.2" r="2.95"/><circle cx="99.5" cy="280.3" r="2.95"/><circle cx="111.3" cy="263.3" r="2.95"/><circle cx="109.8" cy="324.0" r="2.95"/><circle cx="111.1" cy="250.6" r="2.95"/><circle cx="100.6" cy="252.6" r="2.95"/><circle cx="102.7" cy="247.5" r="2.95"/><circle cx="116.6" cy="279.6" r="2.95"/><circle cx="105.7" cy="238.3" r="2.95"/><circle cx="113.0" cy="273.6" r="2.95"/><circle cx="97.4" cy="232.5" r="2.95"/><circle cx="94.2" cy="246.2" r="2.95"/><circle cx="96.9" cy="245.3" r="2.95"/><circle cx="98.8" cy="242.6" r="2.95"/><circle cx="95.1" cy="255.4" r="2.95"/><circle cx="94.2" cy="258.2" r="2.95"/><circle cx="119.0" cy="256.8" r="2.95"/><circle cx="115.3" cy="260.0" r="2.95"/><circle cx="95.6" cy="256.8" r="2.95"/><circle cx="99.3" cy="284.0" r="2.95"/><circle cx="103.0" cy="295.4" r="2.95"/><circle cx="104.8" cy="298.2" r="2.95"/><circle cx="115.4" cy="301.9" r="2.95"/><circle cx="116.8" cy="277.1" r="2.95"/><circle cx="103.0" cy="296.4" r="2.95"/><circle cx="105.7" cy="299.1" r="2.95"/><circle cx="98.4" cy="308.8" r="2.95"/><circle cx="120.9" cy="307.4" r="2.95"/><circle cx="91.0" cy="318.4" r="2.95"/><circle cx="91.5" cy="325.3" r="2.95"/><circle cx="87.8" cy="333.1" r="2.95"/><circle cx="90.1" cy="342.8" r="2.95"/><circle cx="114.0" cy="324.9" r="2.95"/><circle cx="117.7" cy="330.4" r="2.95"/><circle cx="92.9" cy="339.1" r="2.95"/><circle cx="82.2" cy="429.3" r="2.95"/><circle cx="111.0" cy="388.4" r="2.95"/><circle cx="88.2" cy="419.0" r="2.95"/><circle cx="113.4" cy="383.5" r="2.95"/><circle cx="106.9" cy="342.6" r="2.95"/><circle cx="110.2" cy="334.8" r="2.95"/><circle cx="89.7" cy="381.9" r="2.95"/><circle cx="108.4" cy="448.4" r="2.95"/><circle cx="93.5" cy="451.4" r="2.95"/><circle cx="91.9" cy="419.6" r="2.95"/><circle cx="105.0" cy="396.2" r="2.95"/><circle cx="101.5" cy="374.6" r="2.95"/><circle cx="105.7" cy="443.1" r="2.95"/><circle cx="89.3" cy="433.3" r="2.95"/><circle cx="90.1" cy="333.1" r="2.95"/><circle cx="108.3" cy="401.3" r="2.95"/><circle cx="110.5" cy="441.3" r="2.95"/><circle cx="98.8" cy="367.9" r="2.95"/><circle cx="96.8" cy="429.7" r="2.95"/><circle cx="79.8" cy="409.5" r="2.95"/><circle cx="96.7" cy="411.2" r="2.95"/><circle cx="86.5" cy="358.6" r="2.95"/><circle cx="88.5" cy="439.4" r="2.95"/><circle cx="117.5" cy="396.3" r="2.95"/><circle cx="94.9" cy="336.3" r="2.95"/><circle cx="102.0" cy="340.7" r="2.95"/><circle cx="103.2" cy="365.0" r="2.95"/><circle cx="112.0" cy="385.4" r="2.95"/><circle cx="98.4" cy="363.8" r="2.95"/><circle cx="83.5" cy="423.5" r="2.95"/><circle cx="110.3" cy="431.8" r="2.95"/><circle cx="105.7" cy="391.5" r="2.95"/><circle cx="88.3" cy="420.2" r="2.95"/><circle cx="110.2" cy="440.2" r="2.95"/><circle cx="102.2" cy="447.2" r="2.95"/><circle cx="95.9" cy="461.6" r="2.95"/><circle cx="94.6" cy="430.5" r="2.95"/><circle cx="109.8" cy="432.6" r="2.95"/><circle cx="94.3" cy="408.1" r="2.95"/><circle cx="95.9" cy="331.7" r="2.95"/><circle cx="102.9" cy="455.7" r="2.95"/><circle cx="86.3" cy="411.9" r="2.95"/><circle cx="82.2" cy="438.6" r="2.95"/><circle cx="88.9" cy="417.9" r="2.95"/><circle cx="93.3" cy="390.5" r="2.95"/><circle cx="102.5" cy="363.2" r="2.95"/><circle cx="110.4" cy="357.4" r="2.95"/><circle cx="103.8" cy="347.0" r="2.95"/><circle cx="105.6" cy="437.0" r="2.95"/><circle cx="107.5" cy="356.3" r="2.95"/><circle cx="95.3" cy="375.9" r="2.95"/><circle cx="103.7" cy="335.5" r="2.95"/><circle cx="112.9" cy="355.9" r="2.95"/><circle cx="93.2" cy="442.0" r="2.95"/><circle cx="90.8" cy="400.1" r="2.95"/><circle cx="106.4" cy="439.8" r="2.95"/><circle cx="102.8" cy="408.8" r="2.95"/><circle cx="82.7" cy="398.6" r="2.95"/><circle cx="87.8" cy="443.0" r="2.95"/><circle cx="81.0" cy="414.1" r="2.95"/><circle cx="100.8" cy="386.7" r="2.95"/><circle cx="98.0" cy="391.7" r="2.95"/><circle cx="92.3" cy="424.7" r="2.95"/><circle cx="86.5" cy="377.6" r="2.95"/><circle cx="84.6" cy="401.2" r="2.95"/><circle cx="100.2" cy="386.7" r="2.95"/><circle cx="105.7" cy="340.8" r="2.95"/><circle cx="87.8" cy="400.3" r="2.95"/><circle cx="93.3" cy="365.3" r="2.95"/><circle cx="105.8" cy="431.6" r="2.95"/><circle cx="91.6" cy="440.9" r="2.95"/><circle cx="83.0" cy="425.2" r="2.95"/><circle cx="114.5" cy="388.7" r="2.95"/><circle cx="100.1" cy="366.0" r="2.95"/><circle cx="96.2" cy="377.8" r="2.95"/><circle cx="116.1" cy="373.5" r="2.95"/><circle cx="94.9" cy="445.8" r="2.95"/><circle cx="87.8" cy="414.7" r="2.95"/><circle cx="115.6" cy="395.4" r="2.95"/><circle cx="105.2" cy="409.5" r="2.95"/><circle cx="100.8" cy="388.6" r="2.95"/><circle cx="93.2" cy="387.2" r="2.95"/><circle cx="95.5" cy="429.9" r="2.95"/><circle cx="111.0" cy="348.9" r="2.95"/><circle cx="102.6" cy="425.1" r="2.95"/><circle cx="101.8" cy="434.8" r="2.95"/><circle cx="97.9" cy="368.0" r="2.95"/><circle cx="116.7" cy="387.4" r="2.95"/><circle cx="92.8" cy="375.5" r="2.95"/><circle cx="105.1" cy="423.0" r="2.95"/><circle cx="105.8" cy="386.5" r="2.95"/><circle cx="90.7" cy="439.6" r="2.95"/><circle cx="105.1" cy="431.2" r="2.95"/><circle cx="90.3" cy="460.2" r="2.95"/><circle cx="93.6" cy="443.8" r="2.95"/><circle cx="90.6" cy="397.0" r="2.95"/><circle cx="90.7" cy="337.5" r="2.95"/><circle cx="91.1" cy="354.3" r="2.95"/><circle cx="112.8" cy="339.0" r="2.95"/><circle cx="93.7" cy="459.7" r="2.95"/><circle cx="108.3" cy="332.8" r="2.95"/><circle cx="110.0" cy="443.5" r="2.95"/><circle cx="114.9" cy="367.2" r="2.95"/><circle cx="92.8" cy="427.4" r="2.95"/><circle cx="84.7" cy="398.9" r="2.95"/><circle cx="93.0" cy="417.0" r="2.95"/><circle cx="98.9" cy="354.5" r="2.95"/><circle cx="82.2" cy="395.1" r="2.95"/><circle cx="98.2" cy="362.1" r="2.95"/><circle cx="105.9" cy="331.2" r="2.95"/><circle cx="91.7" cy="377.2" r="2.95"/><circle cx="96.9" cy="348.2" r="2.95"/><circle cx="91.3" cy="347.6" r="2.95"/><circle cx="92.9" cy="437.5" r="2.95"/><circle cx="100.3" cy="435.9" r="2.95"/><circle cx="105.2" cy="382.9" r="2.95"/><circle cx="101.2" cy="398.3" r="2.95"/><circle cx="107.6" cy="343.5" r="2.95"/><circle cx="96.6" cy="433.9" r="2.95"/><circle cx="102.9" cy="399.1" r="2.95"/><circle cx="99.0" cy="430.2" r="2.95"/><circle cx="115.7" cy="366.6" r="2.95"/><circle cx="114.6" cy="360.1" r="2.95"/><circle cx="89.4" cy="359.0" r="2.95"/><circle cx="97.1" cy="440.0" r="2.95"/><circle cx="98.7" cy="439.0" r="2.95"/><circle cx="109.9" cy="339.1" r="2.95"/><circle cx="111.7" cy="418.9" r="2.95"/><circle cx="92.1" cy="418.0" r="2.95"/><circle cx="102.0" cy="371.2" r="2.95"/><circle cx="92.4" cy="433.1" r="2.95"/><circle cx="96.0" cy="366.3" r="2.95"/><circle cx="93.0" cy="439.3" r="2.95"/><circle cx="114.6" cy="399.1" r="2.95"/><circle cx="104.4" cy="375.7" r="2.95"/><circle cx="82.8" cy="437.8" r="2.95"/><circle cx="111.3" cy="374.5" r="2.95"/><circle cx="115.9" cy="360.3" r="2.95"/><circle cx="106.8" cy="351.5" r="2.95"/><circle cx="106.8" cy="397.9" r="2.95"/><circle cx="103.8" cy="340.3" r="2.95"/><circle cx="106.5" cy="435.2" r="2.95"/><circle cx="90.5" cy="428.2" r="2.95"/><circle cx="95.7" cy="460.9" r="2.95"/><circle cx="106.3" cy="419.2" r="2.95"/><circle cx="115.9" cy="403.3" r="2.95"/><circle cx="92.3" cy="342.2" r="2.95"/><circle cx="94.4" cy="422.0" r="2.95"/><circle cx="99.9" cy="371.0" r="2.95"/><circle cx="111.2" cy="393.4" r="2.95"/><circle cx="92.6" cy="364.0" r="2.95"/><circle cx="94.0" cy="450.8" r="2.95"/><circle cx="85.4" cy="422.1" r="2.95"/><circle cx="83.7" cy="391.1" r="2.95"/><circle cx="93.1" cy="412.7" r="2.95"/><circle cx="102.0" cy="417.5" r="2.95"/><circle cx="92.0" cy="361.5" r="2.95"/><circle cx="80.6" cy="418.6" r="2.95"/><circle cx="98.3" cy="360.0" r="2.95"/><circle cx="110.9" cy="430.2" r="2.95"/><circle cx="81.8" cy="430.6" r="2.95"/><circle cx="105.3" cy="347.6" r="2.95"/><circle cx="92.6" cy="392.2" r="2.95"/><circle cx="105.9" cy="407.4" r="2.95"/><circle cx="113.1" cy="387.5" r="2.95"/><circle cx="89.8" cy="419.2" r="2.95"/><circle cx="107.0" cy="395.6" r="2.95"/><circle cx="83.0" cy="385.2" r="2.95"/><circle cx="99.0" cy="399.5" r="2.95"/><circle cx="95.4" cy="390.9" r="2.95"/><circle cx="116.4" cy="385.4" r="2.95"/><circle cx="106.6" cy="403.6" r="2.95"/><circle cx="98.0" cy="467.2" r="2.95"/><circle cx="106.6" cy="380.1" r="2.95"/><circle cx="97.6" cy="334.5" r="2.95"/><circle cx="93.7" cy="449.3" r="2.95"/><circle cx="108.8" cy="352.8" r="2.95"/><circle cx="103.9" cy="408.8" r="2.95"/><circle cx="98.0" cy="390.4" r="2.95"/><circle cx="108.3" cy="398.7" r="2.95"/><circle cx="99.8" cy="431.2" r="2.95"/><circle cx="97.3" cy="427.3" r="2.95"/><circle cx="95.2" cy="433.5" r="2.95"/><circle cx="114.1" cy="411.1" r="2.95"/><circle cx="114.6" cy="412.2" r="2.95"/><circle cx="97.2" cy="434.4" r="2.95"/><circle cx="111.8" cy="339.0" r="2.95"/><circle cx="100.8" cy="460.7" r="2.95"/><circle cx="87.4" cy="363.7" r="2.95"/><circle cx="100.9" cy="461.7" r="2.95"/><circle cx="85.1" cy="406.6" r="2.95"/><circle cx="81.7" cy="402.8" r="2.95"/><circle cx="102.3" cy="414.7" r="2.95"/><circle cx="110.3" cy="389.8" r="2.95"/><circle cx="96.3" cy="404.9" r="2.95"/><circle cx="98.2" cy="407.8" r="2.95"/><circle cx="95.8" cy="439.7" r="2.95"/><circle cx="88.0" cy="385.4" r="2.95"/><circle cx="95.2" cy="401.4" r="2.95"/><circle cx="92.4" cy="444.0" r="2.95"/><circle cx="92.2" cy="362.8" r="2.95"/><circle cx="86.0" cy="401.9" r="2.95"/><circle cx="112.4" cy="396.0" r="2.95"/><circle cx="103.6" cy="413.8" r="2.95"/><circle cx="99.8" cy="432.1" r="2.95"/><circle cx="111.3" cy="368.0" r="2.95"/><circle cx="87.8" cy="425.4" r="2.95"/><circle cx="93.9" cy="407.8" r="2.95"/><circle cx="104.0" cy="371.0" r="2.95"/><circle cx="90.4" cy="393.0" r="2.95"/><circle cx="86.3" cy="425.4" r="2.95"/><circle cx="102.2" cy="369.4" r="2.95"/><circle cx="89.8" cy="378.2" r="2.95"/><circle cx="93.9" cy="429.8" r="2.95"/><circle cx="89.8" cy="386.6" r="2.95"/><circle cx="111.8" cy="430.5" r="2.95"/><circle cx="93.6" cy="365.4" r="2.95"/><circle cx="87.3" cy="410.5" r="2.95"/><circle cx="87.1" cy="378.1" r="2.95"/><circle cx="108.6" cy="439.6" r="2.95"/><circle cx="90.1" cy="445.5" r="2.95"/><circle cx="113.9" cy="341.9" r="2.95"/><circle cx="102.1" cy="438.2" r="2.95"/><circle cx="94.2" cy="404.0" r="2.95"/><circle cx="104.2" cy="420.5" r="2.95"/><circle cx="85.6" cy="432.1" r="2.95"/><circle cx="112.1" cy="422.7" r="2.95"/><circle cx="85.6" cy="407.4" r="2.95"/><circle cx="98.3" cy="380.7" r="2.95"/><circle cx="92.0" cy="391.7" r="2.95"/><circle cx="84.5" cy="454.7" r="2.95"/><circle cx="87.6" cy="362.9" r="2.95"/><circle cx="116.1" cy="379.5" r="2.95"/><circle cx="82.2" cy="442.5" r="2.95"/><circle cx="106.2" cy="396.5" r="2.95"/><circle cx="109.2" cy="410.4" r="2.95"/><circle cx="108.8" cy="442.0" r="2.95"/><circle cx="105.9" cy="353.8" r="2.95"/><circle cx="83.0" cy="398.2" r="2.95"/><circle cx="111.1" cy="411.9" r="2.95"/><circle cx="108.3" cy="430.9" r="2.95"/><circle cx="99.4" cy="435.9" r="2.95"/><circle cx="86.8" cy="380.6" r="2.95"/><circle cx="98.4" cy="445.2" r="2.95"/><circle cx="110.1" cy="332.3" r="2.95"/><circle cx="103.2" cy="435.0" r="2.95"/><circle cx="107.1" cy="372.0" r="2.95"/><circle cx="92.6" cy="389.7" r="2.95"/><circle cx="106.2" cy="397.2" r="2.95"/><circle cx="100.1" cy="438.8" r="2.95"/><circle cx="82.9" cy="421.3" r="2.95"/><circle cx="80.3" cy="423.0" r="2.95"/><circle cx="85.7" cy="398.6" r="2.95"/><circle cx="92.1" cy="396.9" r="2.95"/><circle cx="103.9" cy="447.0" r="2.95"/><circle cx="83.9" cy="398.2" r="2.95"/><circle cx="108.7" cy="402.0" r="2.95"/><circle cx="91.4" cy="388.0" r="2.95"/><circle cx="105.7" cy="379.7" r="2.95"/><circle cx="107.7" cy="379.7" r="2.95"/><circle cx="100.8" cy="372.4" r="2.95"/><circle cx="98.1" cy="447.5" r="2.95"/><circle cx="93.8" cy="458.4" r="2.95"/><circle cx="96.5" cy="439.4" r="2.95"/><circle cx="90.9" cy="392.6" r="2.95"/><circle cx="94.5" cy="333.2" r="2.95"/><circle cx="101.8" cy="415.0" r="2.95"/><circle cx="93.8" cy="421.9" r="2.95"/><circle cx="93.5" cy="459.2" r="2.95"/><circle cx="105.8" cy="434.4" r="2.95"/><circle cx="96.5" cy="423.8" r="2.95"/><circle cx="100.6" cy="357.5" r="2.95"/><circle cx="87.6" cy="363.2" r="2.95"/><circle cx="101.3" cy="428.0" r="2.95"/><circle cx="81.1" cy="437.8" r="2.95"/><circle cx="88.4" cy="450.6" r="2.95"/><circle cx="98.7" cy="358.2" r="2.95"/><circle cx="103.0" cy="454.8" r="2.95"/><circle cx="101.8" cy="364.0" r="2.95"/><circle cx="103.9" cy="336.5" r="2.95"/><circle cx="85.4" cy="463.1" r="2.95"/><circle cx="91.5" cy="464.2" r="2.95"/><circle cx="78.8" cy="450.2" r="2.95"/><circle cx="92.0" cy="457.0" r="2.95"/><circle cx="101.9" cy="459.2" r="2.95"/><circle cx="105.3" cy="446.5" r="2.95"/><circle cx="111.3" cy="446.0" r="2.95"/><circle cx="100.3" cy="444.3" r="2.95"/><circle cx="87.1" cy="459.2" r="2.95"/><circle cx="141.6" cy="293.0" r="2.95"/><circle cx="136.8" cy="377.1" r="2.95"/>
</g>
<g fill="#FF5060">
<circle cx="125.8" cy="95.9" r="2.95"/><circle cx="136.7" cy="114.6" r="2.95"/><circle cx="147.4" cy="168.3" r="2.95"/><circle cx="140.6" cy="182.8" r="2.95"/><circle cx="140.6" cy="196.6" r="2.95"/><circle cx="126.2" cy="201.7" r="2.95"/><circle cx="126.2" cy="214.3" r="2.95"/><circle cx="122.3" cy="218.2" r="2.95"/><circle cx="199.8" cy="180.5" r="2.95"/><circle cx="193.3" cy="185.8" r="2.95"/><circle cx="198.0" cy="190.5" r="2.95"/><circle cx="201.0" cy="185.8" r="2.95"/><circle cx="205.1" cy="196.4" r="2.95"/><circle cx="205.7" cy="179.3" r="2.95"/><circle cx="202.2" cy="188.7" r="2.95"/><circle cx="112.4" cy="235.5" r="2.95"/><circle cx="116.9" cy="231.3" r="2.95"/><circle cx="97.6" cy="324.3" r="2.95"/><circle cx="100.1" cy="271.4" r="2.95"/><circle cx="99.3" cy="278.1" r="2.95"/><circle cx="107.9" cy="323.1" r="2.95"/><circle cx="100.8" cy="304.2" r="2.95"/><circle cx="109.6" cy="324.5" r="2.95"/><circle cx="105.0" cy="266.1" r="2.95"/><circle cx="104.4" cy="283.2" r="2.95"/><circle cx="113.3" cy="247.5" r="2.95"/><circle cx="112.4" cy="268.1" r="2.95"/><circle cx="107.9" cy="254.7" r="2.95"/><circle cx="112.2" cy="249.1" r="2.95"/><circle cx="111.5" cy="277.1" r="2.95"/><circle cx="104.9" cy="286.7" r="2.95"/><circle cx="110.4" cy="261.3" r="2.95"/><circle cx="107.5" cy="266.9" r="2.95"/><circle cx="108.3" cy="247.9" r="2.95"/><circle cx="113.0" cy="277.0" r="2.95"/><circle cx="101.0" cy="277.7" r="2.95"/><circle cx="97.5" cy="252.9" r="2.95"/><circle cx="114.1" cy="286.7" r="2.95"/><circle cx="109.5" cy="241.9" r="2.95"/><circle cx="105.8" cy="251.2" r="2.95"/><circle cx="104.7" cy="272.7" r="2.95"/><circle cx="114.4" cy="284.7" r="2.95"/><circle cx="116.6" cy="263.6" r="2.95"/><circle cx="104.2" cy="275.0" r="2.95"/><circle cx="100.1" cy="284.4" r="2.95"/><circle cx="116.6" cy="235.0" r="2.95"/><circle cx="105.0" cy="263.8" r="2.95"/><circle cx="111.3" cy="269.0" r="2.95"/><circle cx="106.3" cy="254.7" r="2.95"/><circle cx="103.6" cy="259.9" r="2.95"/><circle cx="108.5" cy="254.2" r="2.95"/><circle cx="107.4" cy="265.9" r="2.95"/><circle cx="110.5" cy="299.7" r="2.95"/><circle cx="113.3" cy="261.9" r="2.95"/><circle cx="97.0" cy="320.6" r="2.95"/><circle cx="103.0" cy="247.9" r="2.95"/><circle cx="115.2" cy="281.7" r="2.95"/><circle cx="109.7" cy="286.3" r="2.95"/><circle cx="110.0" cy="267.6" r="2.95"/><circle cx="109.0" cy="283.7" r="2.95"/><circle cx="107.6" cy="317.1" r="2.95"/><circle cx="101.1" cy="318.5" r="2.95"/><circle cx="120.2" cy="256.0" r="2.95"/><circle cx="113.5" cy="284.4" r="2.95"/><circle cx="103.4" cy="261.1" r="2.95"/><circle cx="106.4" cy="310.7" r="2.95"/><circle cx="109.4" cy="276.4" r="2.95"/><circle cx="98.9" cy="273.2" r="2.95"/><circle cx="114.9" cy="272.5" r="2.95"/><circle cx="114.2" cy="243.7" r="2.95"/><circle cx="116.6" cy="260.2" r="2.95"/><circle cx="96.2" cy="325.8" r="2.95"/><circle cx="116.0" cy="264.9" r="2.95"/><circle cx="103.2" cy="271.0" r="2.95"/><circle cx="101.3" cy="242.5" r="2.95"/><circle cx="108.0" cy="311.8" r="2.95"/><circle cx="98.9" cy="270.8" r="2.95"/><circle cx="118.0" cy="257.1" r="2.95"/><circle cx="103.6" cy="292.6" r="2.95"/><circle cx="104.7" cy="284.5" r="2.95"/><circle cx="97.3" cy="270.8" r="2.95"/><circle cx="103.9" cy="242.5" r="2.95"/><circle cx="105.2" cy="319.6" r="2.95"/><circle cx="109.6" cy="293.8" r="2.95"/><circle cx="108.5" cy="238.6" r="2.95"/><circle cx="102.0" cy="266.4" r="2.95"/><circle cx="110.8" cy="277.4" r="2.95"/><circle cx="104.7" cy="264.3" r="2.95"/><circle cx="112.6" cy="252.5" r="2.95"/><circle cx="101.1" cy="275.1" r="2.95"/><circle cx="113.1" cy="305.4" r="2.95"/><circle cx="105.4" cy="247.5" r="2.95"/><circle cx="108.0" cy="255.4" r="2.95"/><circle cx="102.1" cy="320.5" r="2.95"/><circle cx="113.0" cy="252.8" r="2.95"/><circle cx="101.9" cy="268.9" r="2.95"/><circle cx="112.9" cy="306.4" r="2.95"/><circle cx="110.2" cy="288.9" r="2.95"/><circle cx="105.2" cy="321.8" r="2.95"/><circle cx="113.7" cy="282.1" r="2.95"/><circle cx="107.0" cy="209.0" r="2.95"/><circle cx="107.6" cy="212.5" r="2.95"/><circle cx="108.6" cy="216.0" r="2.95"/><circle cx="108.0" cy="216.4" r="2.95"/><circle cx="108.9" cy="219.6" r="2.95"/><circle cx="107.1" cy="224.2" r="2.95"/><circle cx="111.7" cy="223.7" r="2.95"/><circle cx="114.4" cy="221.9" r="2.95"/><circle cx="116.2" cy="225.1" r="2.95"/><circle cx="113.5" cy="227.9" r="2.95"/><circle cx="103.4" cy="229.7" r="2.95"/><circle cx="102.0" cy="231.1" r="2.95"/><circle cx="124.1" cy="230.2" r="2.95"/><circle cx="117.2" cy="230.6" r="2.95"/><circle cx="97.9" cy="237.5" r="2.95"/><circle cx="104.8" cy="238.9" r="2.95"/><circle cx="108.9" cy="239.8" r="2.95"/><circle cx="119.9" cy="239.8" r="2.95"/><circle cx="122.7" cy="240.3" r="2.95"/><circle cx="120.8" cy="243.5" r="2.95"/><circle cx="118.1" cy="245.3" r="2.95"/><circle cx="100.6" cy="245.3" r="2.95"/><circle cx="101.5" cy="254.5" r="2.95"/><circle cx="112.6" cy="255.4" r="2.95"/><circle cx="116.2" cy="254.5" r="2.95"/><circle cx="95.1" cy="261.0" r="2.95"/><circle cx="97.9" cy="262.8" r="2.95"/><circle cx="107.1" cy="261.0" r="2.95"/><circle cx="121.8" cy="220.5" r="2.95"/><circle cx="123.6" cy="218.7" r="2.95"/><circle cx="95.6" cy="260.5" r="2.95"/><circle cx="94.7" cy="264.2" r="2.95"/><circle cx="96.5" cy="266.9" r="2.95"/><circle cx="98.4" cy="270.6" r="2.95"/><circle cx="116.8" cy="268.8" r="2.95"/><circle cx="115.8" cy="272.5" r="2.95"/><circle cx="114.9" cy="278.0" r="2.95"/><circle cx="127.3" cy="266.9" r="2.95"/><circle cx="125.3" cy="295.2" r="2.95"/><circle cx="97.5" cy="301.0" r="2.95"/><circle cx="111.2" cy="291.8" r="2.95"/><circle cx="118.6" cy="256.8" r="2.95"/><circle cx="93.8" cy="257.8" r="2.95"/><circle cx="97.5" cy="301.0" r="2.95"/><circle cx="116.3" cy="302.4" r="2.95"/><circle cx="103.0" cy="305.6" r="2.95"/><circle cx="105.3" cy="306.9" r="2.95"/><circle cx="101.1" cy="308.8" r="2.95"/><circle cx="112.2" cy="308.8" r="2.95"/><circle cx="110.3" cy="312.0" r="2.95"/><circle cx="108.5" cy="315.2" r="2.95"/><circle cx="112.2" cy="318.9" r="2.95"/><circle cx="108.5" cy="323.5" r="2.95"/><circle cx="99.8" cy="326.2" r="2.95"/><circle cx="93.8" cy="332.2" r="2.95"/><circle cx="114.5" cy="331.3" r="2.95"/><circle cx="116.3" cy="334.5" r="2.95"/><circle cx="124.1" cy="324.9" r="2.95"/><circle cx="124.1" cy="331.3" r="2.95"/><circle cx="125.7" cy="295.9" r="2.95"/><circle cx="103.9" cy="320.7" r="2.95"/><circle cx="110.3" cy="326.2" r="2.95"/><circle cx="98.4" cy="321.7" r="2.95"/><circle cx="98.4" cy="374.8" r="2.95"/><circle cx="100.7" cy="412.4" r="2.95"/><circle cx="102.0" cy="434.2" r="2.95"/><circle cx="96.6" cy="376.0" r="2.95"/><circle cx="82.1" cy="431.0" r="2.95"/><circle cx="89.4" cy="362.5" r="2.95"/><circle cx="88.9" cy="409.9" r="2.95"/><circle cx="102.3" cy="366.6" r="2.95"/><circle cx="109.4" cy="386.2" r="2.95"/><circle cx="108.3" cy="444.4" r="2.95"/><circle cx="111.4" cy="343.7" r="2.95"/><circle cx="102.0" cy="344.3" r="2.95"/><circle cx="99.2" cy="414.8" r="2.95"/><circle cx="96.3" cy="404.5" r="2.95"/><circle cx="97.6" cy="446.6" r="2.95"/><circle cx="91.7" cy="360.3" r="2.95"/><circle cx="107.5" cy="349.8" r="2.95"/><circle cx="88.2" cy="412.5" r="2.95"/><circle cx="111.5" cy="405.4" r="2.95"/><circle cx="101.0" cy="359.3" r="2.95"/><circle cx="103.3" cy="436.9" r="2.95"/><circle cx="108.5" cy="411.8" r="2.95"/><circle cx="105.8" cy="438.3" r="2.95"/><circle cx="97.9" cy="346.0" r="2.95"/><circle cx="93.6" cy="374.5" r="2.95"/><circle cx="98.8" cy="370.4" r="2.95"/><circle cx="96.6" cy="370.4" r="2.95"/><circle cx="108.8" cy="345.3" r="2.95"/><circle cx="82.5" cy="435.3" r="2.95"/><circle cx="89.2" cy="389.8" r="2.95"/><circle cx="102.1" cy="421.2" r="2.95"/><circle cx="92.2" cy="358.7" r="2.95"/><circle cx="109.3" cy="370.1" r="2.95"/><circle cx="87.6" cy="439.5" r="2.95"/><circle cx="99.3" cy="419.4" r="2.95"/><circle cx="105.7" cy="344.2" r="2.95"/><circle cx="86.3" cy="423.5" r="2.95"/><circle cx="99.6" cy="431.7" r="2.95"/><circle cx="99.3" cy="366.7" r="2.95"/><circle cx="112.4" cy="367.1" r="2.95"/><circle cx="95.8" cy="377.4" r="2.95"/><circle cx="96.1" cy="422.5" r="2.95"/><circle cx="110.3" cy="355.0" r="2.95"/><circle cx="104.3" cy="432.1" r="2.95"/><circle cx="104.3" cy="383.8" r="2.95"/><circle cx="101.8" cy="355.5" r="2.95"/><circle cx="114.0" cy="409.3" r="2.95"/><circle cx="92.7" cy="396.2" r="2.95"/><circle cx="107.0" cy="431.9" r="2.95"/><circle cx="88.7" cy="399.1" r="2.95"/><circle cx="91.4" cy="412.1" r="2.95"/><circle cx="91.7" cy="429.9" r="2.95"/><circle cx="80.6" cy="422.4" r="2.95"/><circle cx="104.3" cy="370.2" r="2.95"/><circle cx="108.2" cy="371.6" r="2.95"/><circle cx="91.7" cy="445.7" r="2.95"/><circle cx="86.0" cy="417.4" r="2.95"/><circle cx="86.3" cy="380.1" r="2.95"/><circle cx="111.2" cy="335.8" r="2.95"/><circle cx="103.8" cy="350.4" r="2.95"/><circle cx="88.0" cy="422.3" r="2.95"/><circle cx="110.3" cy="352.6" r="2.95"/><circle cx="86.5" cy="411.4" r="2.95"/><circle cx="106.1" cy="417.4" r="2.95"/><circle cx="105.2" cy="401.0" r="2.95"/><circle cx="111.5" cy="436.9" r="2.95"/><circle cx="110.4" cy="415.9" r="2.95"/><circle cx="103.9" cy="419.5" r="2.95"/><circle cx="83.8" cy="405.8" r="2.95"/><circle cx="102.4" cy="392.3" r="2.95"/><circle cx="98.3" cy="357.1" r="2.95"/><circle cx="104.1" cy="345.2" r="2.95"/><circle cx="93.0" cy="364.8" r="2.95"/><circle cx="101.5" cy="390.9" r="2.95"/><circle cx="100.3" cy="347.7" r="2.95"/><circle cx="90.6" cy="364.4" r="2.95"/><circle cx="82.6" cy="433.2" r="2.95"/><circle cx="98.4" cy="374.7" r="2.95"/><circle cx="81.5" cy="418.0" r="2.95"/><circle cx="83.6" cy="413.3" r="2.95"/><circle cx="95.1" cy="424.5" r="2.95"/><circle cx="87.3" cy="421.2" r="2.95"/><circle cx="87.9" cy="412.5" r="2.95"/><circle cx="96.5" cy="385.1" r="2.95"/><circle cx="102.3" cy="358.3" r="2.95"/><circle cx="110.1" cy="385.4" r="2.95"/><circle cx="100.6" cy="390.0" r="2.95"/><circle cx="107.3" cy="404.5" r="2.95"/><circle cx="91.4" cy="369.6" r="2.95"/><circle cx="92.9" cy="406.6" r="2.95"/><circle cx="89.3" cy="420.9" r="2.95"/><circle cx="104.9" cy="374.4" r="2.95"/><circle cx="105.7" cy="377.3" r="2.95"/><circle cx="95.0" cy="400.5" r="2.95"/><circle cx="112.2" cy="356.0" r="2.95"/><circle cx="96.9" cy="363.4" r="2.95"/><circle cx="111.4" cy="368.3" r="2.95"/><circle cx="108.6" cy="382.3" r="2.95"/><circle cx="88.5" cy="402.4" r="2.95"/><circle cx="101.0" cy="416.1" r="2.95"/><circle cx="112.4" cy="337.6" r="2.95"/><circle cx="93.7" cy="377.9" r="2.95"/><circle cx="91.2" cy="402.6" r="2.95"/><circle cx="103.7" cy="382.1" r="2.95"/><circle cx="110.7" cy="383.3" r="2.95"/><circle cx="100.1" cy="347.5" r="2.95"/><circle cx="83.7" cy="390.7" r="2.95"/><circle cx="99.1" cy="394.9" r="2.95"/><circle cx="100.7" cy="359.1" r="2.95"/><circle cx="110.8" cy="417.5" r="2.95"/><circle cx="99.5" cy="409.2" r="2.95"/><circle cx="96.6" cy="430.5" r="2.95"/><circle cx="101.6" cy="406.8" r="2.95"/><circle cx="117.0" cy="368.7" r="2.95"/><circle cx="106.7" cy="367.1" r="2.95"/><circle cx="99.5" cy="349.9" r="2.95"/><circle cx="112.6" cy="340.1" r="2.95"/><circle cx="83.7" cy="418.7" r="2.95"/><circle cx="108.5" cy="441.4" r="2.95"/><circle cx="98.7" cy="395.3" r="2.95"/><circle cx="110.3" cy="443.9" r="2.95"/><circle cx="95.7" cy="342.1" r="2.95"/><circle cx="112.0" cy="368.4" r="2.95"/><circle cx="100.8" cy="423.9" r="2.95"/><circle cx="91.0" cy="427.8" r="2.95"/><circle cx="88.9" cy="393.3" r="2.95"/><circle cx="82.4" cy="428.6" r="2.95"/><circle cx="95.4" cy="376.2" r="2.95"/><circle cx="91.3" cy="451.4" r="2.95"/><circle cx="86.1" cy="443.3" r="2.95"/><circle cx="91.6" cy="423.3" r="2.95"/><circle cx="109.9" cy="383.6" r="2.95"/><circle cx="95.9" cy="378.9" r="2.95"/><circle cx="86.6" cy="423.1" r="2.95"/><circle cx="100.9" cy="410.8" r="2.95"/><circle cx="105.4" cy="381.0" r="2.95"/><circle cx="105.1" cy="344.1" r="2.95"/><circle cx="100.9" cy="377.7" r="2.95"/><circle cx="99.8" cy="360.2" r="2.95"/><circle cx="92.4" cy="424.3" r="2.95"/><circle cx="108.5" cy="443.8" r="2.95"/><circle cx="104.5" cy="369.2" r="2.95"/><circle cx="100.2" cy="371.4" r="2.95"/><circle cx="110.0" cy="422.5" r="2.95"/><circle cx="95.6" cy="369.5" r="2.95"/><circle cx="104.4" cy="409.8" r="2.95"/><circle cx="104.6" cy="439.3" r="2.95"/><circle cx="99.4" cy="457.0" r="2.95"/><circle cx="99.1" cy="415.8" r="2.95"/><circle cx="107.9" cy="347.6" r="2.95"/><circle cx="107.1" cy="381.6" r="2.95"/><circle cx="99.1" cy="412.3" r="2.95"/><circle cx="112.2" cy="402.5" r="2.95"/><circle cx="90.6" cy="400.9" r="2.95"/><circle cx="81.8" cy="435.7" r="2.95"/><circle cx="82.4" cy="401.0" r="2.95"/><circle cx="88.1" cy="431.7" r="2.95"/><circle cx="103.1" cy="384.4" r="2.95"/><circle cx="97.5" cy="400.6" r="2.95"/><circle cx="103.6" cy="340.8" r="2.95"/><circle cx="97.2" cy="417.7" r="2.95"/><circle cx="101.7" cy="396.3" r="2.95"/><circle cx="97.4" cy="422.5" r="2.95"/><circle cx="104.2" cy="437.6" r="2.95"/><circle cx="84.4" cy="431.2" r="2.95"/><circle cx="94.2" cy="444.1" r="2.95"/><circle cx="100.4" cy="454.6" r="2.95"/><circle cx="94.0" cy="419.8" r="2.95"/><circle cx="96.3" cy="463.2" r="2.95"/><circle cx="99.1" cy="378.8" r="2.95"/><circle cx="108.8" cy="445.5" r="2.95"/><circle cx="85.1" cy="430.1" r="2.95"/><circle cx="97.9" cy="433.4" r="2.95"/><circle cx="93.0" cy="417.3" r="2.95"/><circle cx="93.1" cy="439.2" r="2.95"/><circle cx="80.7" cy="409.3" r="2.95"/><circle cx="105.8" cy="416.9" r="2.95"/><circle cx="103.3" cy="359.4" r="2.95"/><circle cx="106.7" cy="397.9" r="2.95"/><circle cx="96.4" cy="361.4" r="2.95"/><circle cx="100.9" cy="366.1" r="2.95"/><circle cx="87.3" cy="445.1" r="2.95"/><circle cx="92.1" cy="444.1" r="2.95"/><circle cx="104.6" cy="389.1" r="2.95"/><circle cx="106.6" cy="376.3" r="2.95"/><circle cx="90.0" cy="365.0" r="2.95"/><circle cx="92.0" cy="403.3" r="2.95"/><circle cx="104.3" cy="436.2" r="2.95"/><circle cx="81.9" cy="422.6" r="2.95"/><circle cx="108.7" cy="376.4" r="2.95"/><circle cx="96.6" cy="437.0" r="2.95"/><circle cx="99.2" cy="408.6" r="2.95"/><circle cx="105.8" cy="421.5" r="2.95"/><circle cx="111.3" cy="422.6" r="2.95"/><circle cx="88.5" cy="426.0" r="2.95"/><circle cx="90.7" cy="429.2" r="2.95"/><circle cx="107.5" cy="446.7" r="2.95"/><circle cx="110.3" cy="402.9" r="2.95"/><circle cx="94.4" cy="410.8" r="2.95"/><circle cx="108.9" cy="362.8" r="2.95"/><circle cx="104.2" cy="391.2" r="2.95"/><circle cx="109.9" cy="341.2" r="2.95"/><circle cx="95.3" cy="416.2" r="2.95"/><circle cx="95.8" cy="342.1" r="2.95"/><circle cx="99.5" cy="416.2" r="2.95"/><circle cx="108.8" cy="357.1" r="2.95"/><circle cx="99.5" cy="440.6" r="2.95"/><circle cx="91.2" cy="423.7" r="2.95"/><circle cx="89.6" cy="434.4" r="2.95"/><circle cx="101.2" cy="425.2" r="2.95"/><circle cx="110.5" cy="364.3" r="2.95"/><circle cx="96.9" cy="332.8" r="2.95"/><circle cx="114.4" cy="390.0" r="2.95"/><circle cx="109.8" cy="397.8" r="2.95"/><circle cx="108.6" cy="354.0" r="2.95"/><circle cx="103.0" cy="385.0" r="2.95"/><circle cx="99.0" cy="395.4" r="2.95"/><circle cx="108.3" cy="423.8" r="2.95"/><circle cx="106.4" cy="428.9" r="2.95"/><circle cx="97.1" cy="448.9" r="2.95"/><circle cx="95.7" cy="388.3" r="2.95"/><circle cx="91.5" cy="425.9" r="2.95"/><circle cx="100.4" cy="334.4" r="2.95"/><circle cx="103.1" cy="368.4" r="2.95"/><circle cx="95.3" cy="427.0" r="2.95"/><circle cx="90.4" cy="394.6" r="2.95"/><circle cx="91.2" cy="425.0" r="2.95"/><circle cx="88.2" cy="410.6" r="2.95"/><circle cx="94.6" cy="344.1" r="2.95"/><circle cx="111.0" cy="387.2" r="2.95"/><circle cx="105.9" cy="385.0" r="2.95"/><circle cx="86.1" cy="439.5" r="2.95"/><circle cx="94.2" cy="443.8" r="2.95"/><circle cx="98.3" cy="356.3" r="2.95"/><circle cx="91.2" cy="447.5" r="2.95"/><circle cx="112.2" cy="406.0" r="2.95"/><circle cx="105.1" cy="334.4" r="2.95"/><circle cx="107.1" cy="370.2" r="2.95"/><circle cx="84.0" cy="397.1" r="2.95"/><circle cx="86.2" cy="388.0" r="2.95"/><circle cx="100.6" cy="427.0" r="2.95"/><circle cx="99.3" cy="386.8" r="2.95"/><circle cx="110.1" cy="389.0" r="2.95"/><circle cx="91.7" cy="425.4" r="2.95"/><circle cx="109.3" cy="416.0" r="2.95"/><circle cx="100.5" cy="345.4" r="2.95"/><circle cx="112.8" cy="333.1" r="2.95"/><circle cx="104.5" cy="430.9" r="2.95"/><circle cx="93.0" cy="387.2" r="2.95"/><circle cx="94.1" cy="334.5" r="2.95"/><circle cx="93.1" cy="359.7" r="2.95"/><circle cx="104.3" cy="367.1" r="2.95"/><circle cx="98.5" cy="345.7" r="2.95"/><circle cx="80.9" cy="420.8" r="2.95"/><circle cx="110.4" cy="419.0" r="2.95"/><circle cx="111.2" cy="401.9" r="2.95"/><circle cx="100.0" cy="386.7" r="2.95"/><circle cx="99.5" cy="381.9" r="2.95"/><circle cx="93.3" cy="439.3" r="2.95"/><circle cx="83.8" cy="416.2" r="2.95"/><circle cx="96.5" cy="363.5" r="2.95"/><circle cx="89.2" cy="415.9" r="2.95"/><circle cx="109.0" cy="395.7" r="2.95"/><circle cx="95.1" cy="348.9" r="2.95"/><circle cx="104.6" cy="387.3" r="2.95"/><circle cx="82.8" cy="390.7" r="2.95"/><circle cx="83.8" cy="393.3" r="2.95"/><circle cx="105.7" cy="375.1" r="2.95"/><circle cx="109.2" cy="379.6" r="2.95"/><circle cx="91.1" cy="355.3" r="2.95"/><circle cx="93.2" cy="360.4" r="2.95"/><circle cx="97.1" cy="380.8" r="2.95"/><circle cx="107.2" cy="374.8" r="2.95"/><circle cx="99.4" cy="420.2" r="2.95"/><circle cx="105.4" cy="383.5" r="2.95"/><circle cx="78.7" cy="417.0" r="2.95"/><circle cx="83.0" cy="400.5" r="2.95"/><circle cx="101.2" cy="393.8" r="2.95"/><circle cx="110.7" cy="341.7" r="2.95"/><circle cx="115.7" cy="372.2" r="2.95"/><circle cx="105.6" cy="351.2" r="2.95"/><circle cx="103.7" cy="403.0" r="2.95"/><circle cx="94.3" cy="391.1" r="2.95"/><circle cx="98.7" cy="393.5" r="2.95"/><circle cx="110.9" cy="435.8" r="2.95"/><circle cx="111.1" cy="420.4" r="2.95"/><circle cx="110.0" cy="439.1" r="2.95"/><circle cx="110.4" cy="357.4" r="2.95"/><circle cx="99.9" cy="420.7" r="2.95"/><circle cx="96.1" cy="418.5" r="2.95"/><circle cx="87.6" cy="384.8" r="2.95"/><circle cx="96.4" cy="395.7" r="2.95"/><circle cx="105.3" cy="399.9" r="2.95"/><circle cx="92.4" cy="442.9" r="2.95"/><circle cx="108.2" cy="366.4" r="2.95"/><circle cx="95.4" cy="393.5" r="2.95"/><circle cx="107.2" cy="417.5" r="2.95"/><circle cx="97.6" cy="410.8" r="2.95"/><circle cx="101.2" cy="366.5" r="2.95"/><circle cx="90.3" cy="410.3" r="2.95"/><circle cx="101.9" cy="399.1" r="2.95"/><circle cx="107.9" cy="426.7" r="2.95"/><circle cx="113.7" cy="401.0" r="2.95"/><circle cx="96.0" cy="361.3" r="2.95"/><circle cx="95.2" cy="448.9" r="2.95"/><circle cx="112.1" cy="375.0" r="2.95"/><circle cx="92.7" cy="368.3" r="2.95"/><circle cx="85.6" cy="422.7" r="2.95"/><circle cx="97.1" cy="359.0" r="2.95"/><circle cx="80.4" cy="411.1" r="2.95"/><circle cx="95.6" cy="429.2" r="2.95"/><circle cx="96.3" cy="373.5" r="2.95"/><circle cx="103.9" cy="377.4" r="2.95"/><circle cx="87.8" cy="412.3" r="2.95"/><circle cx="88.7" cy="374.1" r="2.95"/><circle cx="93.0" cy="416.5" r="2.95"/><circle cx="98.2" cy="341.2" r="2.95"/><circle cx="94.6" cy="367.8" r="2.95"/><circle cx="110.6" cy="414.2" r="2.95"/><circle cx="105.4" cy="409.8" r="2.95"/><circle cx="115.2" cy="363.3" r="2.95"/><circle cx="108.9" cy="343.9" r="2.95"/><circle cx="111.2" cy="374.5" r="2.95"/><circle cx="84.9" cy="407.3" r="2.95"/><circle cx="92.3" cy="427.8" r="2.95"/><circle cx="92.0" cy="467.5" r="2.95"/><circle cx="94.2" cy="466.4" r="2.95"/><circle cx="101.9" cy="453.7" r="2.95"/><circle cx="106.4" cy="459.2" r="2.95"/><circle cx="111.9" cy="442.1" r="2.95"/><circle cx="88.7" cy="455.9" r="2.95"/><circle cx="83.7" cy="452.6" r="2.95"/><circle cx="94.8" cy="455.9" r="2.95"/><circle cx="99.2" cy="448.7" r="2.95"/><circle cx="111.3" cy="433.3" r="2.95"/><circle cx="97.5" cy="454.8" r="2.95"/><circle cx="81.5" cy="446.5" r="2.95"/><circle cx="124.0" cy="324.6" r="2.95"/><circle cx="124.0" cy="331.5" r="2.95"/><circle cx="124.4" cy="350.0" r="2.95"/><circle cx="121.5" cy="398.0" r="2.95"/>
</g>
<g fill="#FF1030">
<circle cx="203.4" cy="175.1" r="2.95"/><circle cx="206.3" cy="176.3" r="2.95"/><circle cx="203.4" cy="191.7" r="2.95"/><circle cx="115.0" cy="259.3" r="2.95"/><circle cx="107.8" cy="276.4" r="2.95"/><circle cx="113.0" cy="265.4" r="2.95"/><circle cx="108.1" cy="252.4" r="2.95"/><circle cx="104.3" cy="275.9" r="2.95"/><circle cx="110.1" cy="260.7" r="2.95"/><circle cx="115.1" cy="259.4" r="2.95"/><circle cx="111.3" cy="270.2" r="2.95"/><circle cx="102.8" cy="251.6" r="2.95"/><circle cx="104.5" cy="258.8" r="2.95"/><circle cx="111.0" cy="253.9" r="2.95"/><circle cx="107.1" cy="248.7" r="2.95"/><circle cx="114.9" cy="267.1" r="2.95"/><circle cx="116.7" cy="266.7" r="2.95"/><circle cx="103.6" cy="280.4" r="2.95"/><circle cx="109.4" cy="248.2" r="2.95"/><circle cx="111.8" cy="272.7" r="2.95"/><circle cx="118.3" cy="251.0" r="2.95"/><circle cx="114.2" cy="265.1" r="2.95"/><circle cx="104.6" cy="273.0" r="2.95"/><circle cx="103.5" cy="273.1" r="2.95"/><circle cx="103.0" cy="254.9" r="2.95"/><circle cx="102.4" cy="264.7" r="2.95"/><circle cx="105.6" cy="278.7" r="2.95"/><circle cx="107.8" cy="254.3" r="2.95"/><circle cx="105.4" cy="268.3" r="2.95"/><circle cx="110.0" cy="250.3" r="2.95"/><circle cx="104.2" cy="248.7" r="2.95"/><circle cx="105.5" cy="263.4" r="2.95"/><circle cx="115.0" cy="274.8" r="2.95"/><circle cx="104.4" cy="323.8" r="2.95"/><circle cx="108.0" cy="320.9" r="2.95"/><circle cx="106.7" cy="317.2" r="2.95"/><circle cx="101.7" cy="316.4" r="2.95"/><circle cx="101.6" cy="326.3" r="2.95"/><circle cx="105.1" cy="317.5" r="2.95"/><circle cx="103.8" cy="323.5" r="2.95"/><circle cx="106.5" cy="322.6" r="2.95"/><circle cx="102.7" cy="316.2" r="2.95"/><circle cx="107.2" cy="324.7" r="2.95"/><circle cx="101.2" cy="321.1" r="2.95"/><circle cx="103.3" cy="316.0" r="2.95"/><circle cx="103.4" cy="221.0" r="2.95"/><circle cx="104.8" cy="221.4" r="2.95"/><circle cx="122.2" cy="223.3" r="2.95"/><circle cx="111.7" cy="236.1" r="2.95"/><circle cx="113.5" cy="238.0" r="2.95"/><circle cx="115.3" cy="239.8" r="2.95"/><circle cx="107.1" cy="242.6" r="2.95"/><circle cx="104.8" cy="245.3" r="2.95"/><circle cx="106.1" cy="248.1" r="2.95"/><circle cx="108.9" cy="247.2" r="2.95"/><circle cx="111.7" cy="246.2" r="2.95"/><circle cx="115.3" cy="247.2" r="2.95"/><circle cx="113.5" cy="250.8" r="2.95"/><circle cx="104.3" cy="251.8" r="2.95"/><circle cx="108.0" cy="253.6" r="2.95"/><circle cx="106.1" cy="255.4" r="2.95"/><circle cx="109.8" cy="256.4" r="2.95"/><circle cx="103.4" cy="249.9" r="2.95"/><circle cx="117.2" cy="261.0" r="2.95"/><circle cx="105.7" cy="256.8" r="2.95"/><circle cx="107.6" cy="260.5" r="2.95"/><circle cx="117.7" cy="261.4" r="2.95"/><circle cx="103.0" cy="266.9" r="2.95"/><circle cx="106.7" cy="267.9" r="2.95"/><circle cx="110.3" cy="266.0" r="2.95"/><circle cx="113.1" cy="269.2" r="2.95"/><circle cx="103.0" cy="272.5" r="2.95"/><circle cx="107.6" cy="272.5" r="2.95"/><circle cx="111.2" cy="273.4" r="2.95"/><circle cx="101.1" cy="279.8" r="2.95"/><circle cx="104.8" cy="281.7" r="2.95"/><circle cx="108.5" cy="282.6" r="2.95"/><circle cx="112.2" cy="281.7" r="2.95"/><circle cx="115.4" cy="282.1" r="2.95"/><circle cx="105.7" cy="288.1" r="2.95"/><circle cx="107.6" cy="290.4" r="2.95"/><circle cx="104.8" cy="291.3" r="2.95"/><circle cx="114.9" cy="288.1" r="2.95"/><circle cx="118.6" cy="289.0" r="2.95"/><circle cx="116.3" cy="291.3" r="2.95"/><circle cx="97.0" cy="290.4" r="2.95"/><circle cx="115.4" cy="298.2" r="2.95"/><circle cx="109.4" cy="285.3" r="2.95"/><circle cx="115.4" cy="298.2" r="2.95"/><circle cx="99.3" cy="312.9" r="2.95"/><circle cx="97.0" cy="318.0" r="2.95"/><circle cx="95.2" cy="322.1" r="2.95"/><circle cx="106.2" cy="317.5" r="2.95"/><circle cx="102.5" cy="324.4" r="2.95"/><circle cx="102.1" cy="330.4" r="2.95"/><circle cx="105.7" cy="329.9" r="2.95"/><circle cx="108.5" cy="331.8" r="2.95"/><circle cx="106.7" cy="335.4" r="2.95"/><circle cx="98.8" cy="336.8" r="2.95"/><circle cx="111.2" cy="339.1" r="2.95"/><circle cx="96.1" cy="341.9" r="2.95"/><circle cx="104.8" cy="341.9" r="2.95"/><circle cx="103.0" cy="343.7" r="2.95"/><circle cx="104.7" cy="435.5" r="2.95"/><circle cx="100.9" cy="426.8" r="2.95"/><circle cx="102.0" cy="366.6" r="2.95"/><circle cx="103.9" cy="343.7" r="2.95"/><circle cx="84.6" cy="390.3" r="2.95"/><circle cx="93.7" cy="442.9" r="2.95"/><circle cx="94.4" cy="439.0" r="2.95"/><circle cx="88.4" cy="431.6" r="2.95"/><circle cx="105.5" cy="379.9" r="2.95"/><circle cx="87.2" cy="414.9" r="2.95"/><circle cx="103.0" cy="367.4" r="2.95"/><circle cx="90.5" cy="401.7" r="2.95"/><circle cx="101.5" cy="373.2" r="2.95"/><circle cx="87.6" cy="436.5" r="2.95"/><circle cx="107.4" cy="419.0" r="2.95"/><circle cx="82.5" cy="431.3" r="2.95"/><circle cx="112.7" cy="376.7" r="2.95"/><circle cx="102.9" cy="394.8" r="2.95"/><circle cx="98.5" cy="343.3" r="2.95"/><circle cx="97.2" cy="425.1" r="2.95"/><circle cx="113.7" cy="386.2" r="2.95"/><circle cx="107.6" cy="434.3" r="2.95"/><circle cx="105.9" cy="383.7" r="2.95"/><circle cx="90.7" cy="412.9" r="2.95"/><circle cx="87.1" cy="443.1" r="2.95"/><circle cx="88.0" cy="421.3" r="2.95"/><circle cx="94.1" cy="427.1" r="2.95"/><circle cx="91.0" cy="426.5" r="2.95"/><circle cx="96.0" cy="436.4" r="2.95"/><circle cx="99.3" cy="389.2" r="2.95"/><circle cx="100.7" cy="422.6" r="2.95"/><circle cx="95.0" cy="382.2" r="2.95"/><circle cx="105.6" cy="401.4" r="2.95"/><circle cx="81.8" cy="430.0" r="2.95"/><circle cx="95.3" cy="404.5" r="2.95"/><circle cx="107.4" cy="424.3" r="2.95"/><circle cx="103.3" cy="442.8" r="2.95"/><circle cx="97.1" cy="382.4" r="2.95"/><circle cx="107.9" cy="400.7" r="2.95"/><circle cx="86.0" cy="395.4" r="2.95"/><circle cx="113.3" cy="386.9" r="2.95"/><circle cx="87.0" cy="382.8" r="2.95"/><circle cx="98.4" cy="348.5" r="2.95"/><circle cx="97.2" cy="412.6" r="2.95"/><circle cx="105.8" cy="368.8" r="2.95"/><circle cx="109.4" cy="363.2" r="2.95"/><circle cx="101.3" cy="433.0" r="2.95"/><circle cx="105.3" cy="369.2" r="2.95"/><circle cx="92.2" cy="391.1" r="2.95"/><circle cx="102.0" cy="385.6" r="2.95"/><circle cx="101.1" cy="408.8" r="2.95"/><circle cx="109.9" cy="439.7" r="2.95"/><circle cx="99.3" cy="377.5" r="2.95"/><circle cx="83.5" cy="390.3" r="2.95"/><circle cx="94.4" cy="360.7" r="2.95"/><circle cx="96.0" cy="401.7" r="2.95"/><circle cx="87.5" cy="419.4" r="2.95"/><circle cx="100.3" cy="434.6" r="2.95"/><circle cx="86.4" cy="385.5" r="2.95"/><circle cx="105.2" cy="381.0" r="2.95"/><circle cx="87.8" cy="398.9" r="2.95"/><circle cx="98.6" cy="373.1" r="2.95"/><circle cx="100.0" cy="402.7" r="2.95"/><circle cx="86.4" cy="391.6" r="2.95"/><circle cx="105.4" cy="379.3" r="2.95"/><circle cx="97.3" cy="340.4" r="2.95"/><circle cx="103.5" cy="400.3" r="2.95"/><circle cx="97.6" cy="425.8" r="2.95"/><circle cx="97.1" cy="354.2" r="2.95"/><circle cx="82.3" cy="413.1" r="2.95"/><circle cx="95.2" cy="414.8" r="2.95"/><circle cx="87.7" cy="441.4" r="2.95"/><circle cx="100.1" cy="404.3" r="2.95"/><circle cx="85.3" cy="418.2" r="2.95"/><circle cx="98.6" cy="375.1" r="2.95"/><circle cx="99.5" cy="418.2" r="2.95"/><circle cx="89.3" cy="420.8" r="2.95"/><circle cx="108.3" cy="434.2" r="2.95"/><circle cx="108.9" cy="409.8" r="2.95"/><circle cx="112.9" cy="406.4" r="2.95"/><circle cx="92.7" cy="385.4" r="2.95"/><circle cx="90.5" cy="396.0" r="2.95"/><circle cx="101.4" cy="440.0" r="2.95"/><circle cx="94.3" cy="433.5" r="2.95"/><circle cx="83.5" cy="421.1" r="2.95"/><circle cx="89.7" cy="419.1" r="2.95"/><circle cx="92.8" cy="391.0" r="2.95"/><circle cx="103.9" cy="340.1" r="2.95"/><circle cx="99.0" cy="438.2" r="2.95"/><circle cx="99.9" cy="404.2" r="2.95"/><circle cx="91.4" cy="427.7" r="2.95"/><circle cx="96.4" cy="407.9" r="2.95"/><circle cx="102.6" cy="404.7" r="2.95"/><circle cx="111.0" cy="360.2" r="2.95"/><circle cx="95.4" cy="381.1" r="2.95"/><circle cx="104.9" cy="406.1" r="2.95"/><circle cx="99.7" cy="362.0" r="2.95"/><circle cx="114.0" cy="402.9" r="2.95"/><circle cx="98.2" cy="368.0" r="2.95"/><circle cx="101.6" cy="402.3" r="2.95"/><circle cx="106.8" cy="405.8" r="2.95"/><circle cx="102.3" cy="389.0" r="2.95"/><circle cx="100.0" cy="339.6" r="2.95"/><circle cx="87.5" cy="416.3" r="2.95"/><circle cx="103.4" cy="374.9" r="2.95"/><circle cx="90.7" cy="388.3" r="2.95"/><circle cx="103.6" cy="435.3" r="2.95"/><circle cx="105.5" cy="367.9" r="2.95"/><circle cx="91.4" cy="435.9" r="2.95"/><circle cx="100.7" cy="349.0" r="2.95"/><circle cx="113.6" cy="374.4" r="2.95"/><circle cx="81.7" cy="411.8" r="2.95"/><circle cx="99.8" cy="336.4" r="2.95"/><circle cx="86.0" cy="425.5" r="2.95"/><circle cx="91.9" cy="366.7" r="2.95"/><circle cx="90.8" cy="394.3" r="2.95"/><circle cx="105.8" cy="362.4" r="2.95"/><circle cx="83.5" cy="417.0" r="2.95"/><circle cx="85.1" cy="410.3" r="2.95"/><circle cx="88.6" cy="402.2" r="2.95"/><circle cx="96.5" cy="430.7" r="2.95"/><circle cx="109.7" cy="389.5" r="2.95"/><circle cx="95.0" cy="356.5" r="2.95"/><circle cx="94.7" cy="432.0" r="2.95"/><circle cx="82.9" cy="398.0" r="2.95"/><circle cx="81.7" cy="429.2" r="2.95"/><circle cx="104.7" cy="369.7" r="2.95"/><circle cx="91.7" cy="414.0" r="2.95"/><circle cx="93.7" cy="380.6" r="2.95"/><circle cx="96.4" cy="415.2" r="2.95"/><circle cx="95.6" cy="434.5" r="2.95"/><circle cx="103.2" cy="384.8" r="2.95"/><circle cx="111.1" cy="381.7" r="2.95"/><circle cx="91.6" cy="383.2" r="2.95"/><circle cx="90.0" cy="390.0" r="2.95"/><circle cx="95.6" cy="410.7" r="2.95"/><circle cx="87.5" cy="405.3" r="2.95"/><circle cx="90.3" cy="431.0" r="2.95"/><circle cx="107.5" cy="409.0" r="2.95"/><circle cx="112.0" cy="373.6" r="2.95"/><circle cx="95.8" cy="421.6" r="2.95"/><circle cx="95.5" cy="435.1" r="2.95"/><circle cx="81.0" cy="428.1" r="2.95"/><circle cx="103.0" cy="432.9" r="2.95"/><circle cx="94.6" cy="393.4" r="2.95"/><circle cx="99.5" cy="367.1" r="2.95"/><circle cx="100.1" cy="402.8" r="2.95"/><circle cx="100.5" cy="374.4" r="2.95"/><circle cx="82.2" cy="412.1" r="2.95"/><circle cx="95.3" cy="441.6" r="2.95"/><circle cx="92.4" cy="404.7" r="2.95"/><circle cx="96.5" cy="395.4" r="2.95"/><circle cx="94.8" cy="373.1" r="2.95"/><circle cx="103.8" cy="343.4" r="2.95"/><circle cx="87.9" cy="416.0" r="2.95"/><circle cx="94.4" cy="395.5" r="2.95"/><circle cx="101.0" cy="378.7" r="2.95"/><circle cx="105.3" cy="394.3" r="2.95"/><circle cx="86.8" cy="425.5" r="2.95"/><circle cx="108.7" cy="365.9" r="2.95"/><circle cx="94.3" cy="395.1" r="2.95"/><circle cx="82.3" cy="424.8" r="2.95"/><circle cx="108.7" cy="365.3" r="2.95"/><circle cx="89.5" cy="426.8" r="2.95"/><circle cx="109.5" cy="386.6" r="2.95"/><circle cx="101.2" cy="375.2" r="2.95"/><circle cx="81.3" cy="421.7" r="2.95"/><circle cx="96.0" cy="427.7" r="2.95"/><circle cx="105.4" cy="352.4" r="2.95"/><circle cx="114.5" cy="368.5" r="2.95"/><circle cx="103.4" cy="381.0" r="2.95"/><circle cx="108.5" cy="334.0" r="2.95"/><circle cx="94.9" cy="369.9" r="2.95"/><circle cx="107.8" cy="401.4" r="2.95"/><circle cx="108.3" cy="337.9" r="2.95"/><circle cx="90.7" cy="410.6" r="2.95"/><circle cx="91.4" cy="432.9" r="2.95"/><circle cx="85.1" cy="441.4" r="2.95"/><circle cx="87.4" cy="395.9" r="2.95"/><circle cx="97.6" cy="402.6" r="2.95"/><circle cx="83.4" cy="440.0" r="2.95"/><circle cx="97.5" cy="353.4" r="2.95"/><circle cx="91.9" cy="408.5" r="2.95"/><circle cx="93.4" cy="441.0" r="2.95"/><circle cx="99.7" cy="382.9" r="2.95"/><circle cx="95.4" cy="413.8" r="2.95"/><circle cx="100.7" cy="442.3" r="2.95"/><circle cx="106.7" cy="332.5" r="2.95"/><circle cx="98.1" cy="432.9" r="2.95"/><circle cx="103.3" cy="430.5" r="2.95"/><circle cx="93.6" cy="392.2" r="2.95"/><circle cx="90.6" cy="366.0" r="2.95"/><circle cx="87.2" cy="422.4" r="2.95"/><circle cx="97.3" cy="340.9" r="2.95"/><circle cx="90.9" cy="430.9" r="2.95"/><circle cx="108.4" cy="389.1" r="2.95"/><circle cx="92.5" cy="422.9" r="2.95"/><circle cx="83.9" cy="439.1" r="2.95"/><circle cx="89.3" cy="432.4" r="2.95"/><circle cx="106.4" cy="336.7" r="2.95"/><circle cx="102.9" cy="386.8" r="2.95"/><circle cx="109.0" cy="372.1" r="2.95"/><circle cx="109.1" cy="368.8" r="2.95"/><circle cx="101.0" cy="437.2" r="2.95"/><circle cx="86.1" cy="428.8" r="2.95"/><circle cx="99.4" cy="391.7" r="2.95"/><circle cx="98.1" cy="373.6" r="2.95"/><circle cx="97.6" cy="443.2" r="2.95"/><circle cx="103.6" cy="429.7" r="2.95"/><circle cx="82.0" cy="433.4" r="2.95"/><circle cx="96.7" cy="387.5" r="2.95"/><circle cx="101.1" cy="390.6" r="2.95"/><circle cx="95.5" cy="406.0" r="2.95"/><circle cx="86.4" cy="435.0" r="2.95"/><circle cx="104.3" cy="410.4" r="2.95"/><circle cx="107.6" cy="443.7" r="2.95"/><circle cx="109.0" cy="444.9" r="2.95"/><circle cx="100.7" cy="430.2" r="2.95"/><circle cx="93.1" cy="397.4" r="2.95"/><circle cx="103.3" cy="398.8" r="2.95"/><circle cx="113.8" cy="379.3" r="2.95"/><circle cx="89.0" cy="440.6" r="2.95"/><circle cx="88.7" cy="405.3" r="2.95"/><circle cx="84.5" cy="439.1" r="2.95"/><circle cx="102.5" cy="337.3" r="2.95"/><circle cx="98.7" cy="390.2" r="2.95"/><circle cx="108.2" cy="444.4" r="2.95"/><circle cx="108.8" cy="364.2" r="2.95"/><circle cx="102.7" cy="402.9" r="2.95"/><circle cx="98.5" cy="339.8" r="2.95"/><circle cx="91.8" cy="371.0" r="2.95"/><circle cx="103.3" cy="435.4" r="2.95"/><circle cx="106.2" cy="421.5" r="2.95"/><circle cx="104.8" cy="358.0" r="2.95"/><circle cx="104.9" cy="427.3" r="2.95"/><circle cx="110.5" cy="397.4" r="2.95"/><circle cx="98.9" cy="374.7" r="2.95"/><circle cx="99.6" cy="352.5" r="2.95"/><circle cx="89.4" cy="377.5" r="2.95"/><circle cx="85.3" cy="444.9" r="2.95"/><circle cx="95.3" cy="438.0" r="2.95"/><circle cx="105.4" cy="382.6" r="2.95"/><circle cx="104.7" cy="388.6" r="2.95"/><circle cx="89.0" cy="436.9" r="2.95"/><circle cx="97.2" cy="388.8" r="2.95"/><circle cx="96.5" cy="397.6" r="2.95"/><circle cx="108.3" cy="440.0" r="2.95"/><circle cx="106.4" cy="370.3" r="2.95"/><circle cx="93.4" cy="436.4" r="2.95"/><circle cx="86.4" cy="403.9" r="2.95"/><circle cx="109.2" cy="333.7" r="2.95"/><circle cx="110.5" cy="407.9" r="2.95"/><circle cx="84.0" cy="390.6" r="2.95"/><circle cx="111.1" cy="376.6" r="2.95"/><circle cx="103.8" cy="423.8" r="2.95"/><circle cx="98.5" cy="430.0" r="2.95"/><circle cx="103.7" cy="442.3" r="2.95"/><circle cx="97.3" cy="387.5" r="2.95"/><circle cx="105.7" cy="419.6" r="2.95"/><circle cx="88.0" cy="408.3" r="2.95"/><circle cx="101.5" cy="425.4" r="2.95"/><circle cx="97.0" cy="436.7" r="2.95"/><circle cx="95.6" cy="412.6" r="2.95"/><circle cx="106.9" cy="371.8" r="2.95"/><circle cx="85.0" cy="442.7" r="2.95"/><circle cx="104.9" cy="431.6" r="2.95"/><circle cx="99.0" cy="370.2" r="2.95"/><circle cx="91.0" cy="413.9" r="2.95"/><circle cx="99.6" cy="416.8" r="2.95"/><circle cx="90.2" cy="394.1" r="2.95"/><circle cx="90.2" cy="403.5" r="2.95"/><circle cx="87.4" cy="379.3" r="2.95"/><circle cx="103.0" cy="433.6" r="2.95"/><circle cx="105.1" cy="382.4" r="2.95"/><circle cx="111.3" cy="392.8" r="2.95"/><circle cx="102.6" cy="390.8" r="2.95"/><circle cx="99.1" cy="414.8" r="2.95"/><circle cx="85.0" cy="437.3" r="2.95"/><circle cx="102.8" cy="443.7" r="2.95"/><circle cx="99.5" cy="438.2" r="2.95"/><circle cx="108.4" cy="397.6" r="2.95"/><circle cx="104.9" cy="372.6" r="2.95"/><circle cx="100.8" cy="353.6" r="2.95"/><circle cx="97.4" cy="377.0" r="2.95"/><circle cx="104.6" cy="337.0" r="2.95"/><circle cx="92.7" cy="412.8" r="2.95"/><circle cx="103.5" cy="381.7" r="2.95"/><circle cx="104.3" cy="389.3" r="2.95"/><circle cx="98.0" cy="356.9" r="2.95"/><circle cx="99.2" cy="435.3" r="2.95"/><circle cx="91.6" cy="443.8" r="2.95"/><circle cx="101.8" cy="384.9" r="2.95"/><circle cx="97.1" cy="434.4" r="2.95"/><circle cx="81.8" cy="435.0" r="2.95"/><circle cx="88.5" cy="422.3" r="2.95"/><circle cx="96.6" cy="433.4" r="2.95"/><circle cx="90.1" cy="431.6" r="2.95"/><circle cx="108.1" cy="392.5" r="2.95"/><circle cx="93.4" cy="440.8" r="2.95"/><circle cx="96.8" cy="393.0" r="2.95"/><circle cx="96.6" cy="422.7" r="2.95"/><circle cx="102.5" cy="407.0" r="2.95"/><circle cx="109.1" cy="388.7" r="2.95"/><circle cx="104.7" cy="360.6" r="2.95"/><circle cx="89.7" cy="437.5" r="2.95"/><circle cx="90.8" cy="416.7" r="2.95"/><circle cx="103.7" cy="395.1" r="2.95"/><circle cx="96.6" cy="438.4" r="2.95"/><circle cx="104.0" cy="421.9" r="2.95"/><circle cx="96.7" cy="397.8" r="2.95"/><circle cx="107.6" cy="396.5" r="2.95"/><circle cx="95.2" cy="389.1" r="2.95"/><circle cx="104.7" cy="437.4" r="2.95"/><circle cx="91.3" cy="388.9" r="2.95"/><circle cx="107.9" cy="343.2" r="2.95"/><circle cx="101.9" cy="370.1" r="2.95"/><circle cx="90.9" cy="411.0" r="2.95"/><circle cx="103.8" cy="393.8" r="2.95"/><circle cx="96.7" cy="435.7" r="2.95"/><circle cx="92.1" cy="368.4" r="2.95"/><circle cx="93.3" cy="393.7" r="2.95"/><circle cx="89.1" cy="393.5" r="2.95"/><circle cx="92.4" cy="390.0" r="2.95"/><circle cx="93.8" cy="429.4" r="2.95"/><circle cx="106.3" cy="406.6" r="2.95"/><circle cx="95.9" cy="411.5" r="2.95"/><circle cx="100.8" cy="394.5" r="2.95"/><circle cx="114.6" cy="363.3" r="2.95"/><circle cx="98.4" cy="351.4" r="2.95"/><circle cx="110.9" cy="397.9" r="2.95"/><circle cx="107.1" cy="357.1" r="2.95"/><circle cx="86.0" cy="441.0" r="2.95"/><circle cx="106.0" cy="413.2" r="2.95"/><circle cx="110.3" cy="398.3" r="2.95"/><circle cx="102.0" cy="340.9" r="2.95"/><circle cx="106.7" cy="405.2" r="2.95"/><circle cx="101.9" cy="405.9" r="2.95"/><circle cx="95.9" cy="363.7" r="2.95"/><circle cx="100.3" cy="365.7" r="2.95"/><circle cx="93.3" cy="399.9" r="2.95"/><circle cx="95.1" cy="411.0" r="2.95"/><circle cx="91.0" cy="426.0" r="2.95"/><circle cx="98.1" cy="444.2" r="2.95"/><circle cx="94.3" cy="368.7" r="2.95"/><circle cx="93.6" cy="441.7" r="2.95"/><circle cx="87.8" cy="437.8" r="2.95"/><circle cx="113.5" cy="403.8" r="2.95"/><circle cx="97.5" cy="375.7" r="2.95"/><circle cx="99.5" cy="376.4" r="2.95"/><circle cx="100.9" cy="435.7" r="2.95"/><circle cx="104.1" cy="402.8" r="2.95"/><circle cx="85.8" cy="389.4" r="2.95"/><circle cx="109.7" cy="394.3" r="2.95"/><circle cx="110.3" cy="395.2" r="2.95"/><circle cx="113.4" cy="368.3" r="2.95"/><circle cx="92.8" cy="444.1" r="2.95"/><circle cx="104.6" cy="416.9" r="2.95"/><circle cx="102.9" cy="440.2" r="2.95"/><circle cx="96.1" cy="380.6" r="2.95"/><circle cx="107.1" cy="410.5" r="2.95"/><circle cx="103.6" cy="360.1" r="2.95"/><circle cx="105.2" cy="423.6" r="2.95"/><circle cx="93.4" cy="396.0" r="2.95"/><circle cx="86.1" cy="411.6" r="2.95"/><circle cx="106.3" cy="444.6" r="2.95"/><circle cx="106.6" cy="430.8" r="2.95"/><circle cx="104.5" cy="399.4" r="2.95"/><circle cx="90.0" cy="429.8" r="2.95"/><circle cx="88.7" cy="409.2" r="2.95"/><circle cx="102.4" cy="342.7" r="2.95"/><circle cx="105.2" cy="358.1" r="2.95"/><circle cx="100.4" cy="404.6" r="2.95"/><circle cx="99.1" cy="382.8" r="2.95"/><circle cx="110.4" cy="367.3" r="2.95"/><circle cx="98.8" cy="377.2" r="2.95"/><circle cx="95.1" cy="398.1" r="2.95"/><circle cx="103.9" cy="400.5" r="2.95"/><circle cx="103.2" cy="408.7" r="2.95"/><circle cx="104.9" cy="402.7" r="2.95"/><circle cx="99.8" cy="349.9" r="2.95"/><circle cx="103.9" cy="348.7" r="2.95"/><circle cx="110.0" cy="425.2" r="2.95"/><circle cx="93.6" cy="398.7" r="2.95"/><circle cx="103.6" cy="403.3" r="2.95"/><circle cx="107.7" cy="403.1" r="2.95"/><circle cx="87.4" cy="397.7" r="2.95"/><circle cx="110.3" cy="372.7" r="2.95"/><circle cx="102.8" cy="416.0" r="2.95"/><circle cx="95.7" cy="407.0" r="2.95"/><circle cx="96.0" cy="426.4" r="2.95"/><circle cx="86.4" cy="430.4" r="2.95"/><circle cx="92.2" cy="421.9" r="2.95"/><circle cx="99.6" cy="406.6" r="2.95"/><circle cx="96.7" cy="423.3" r="2.95"/><circle cx="111.6" cy="405.4" r="2.95"/><circle cx="94.4" cy="410.4" r="2.95"/><circle cx="106.7" cy="393.6" r="2.95"/><circle cx="96.7" cy="360.1" r="2.95"/><circle cx="86.0" cy="393.3" r="2.95"/><circle cx="98.7" cy="395.4" r="2.95"/><circle cx="99.1" cy="406.3" r="2.95"/><circle cx="96.5" cy="376.3" r="2.95"/><circle cx="89.5" cy="397.8" r="2.95"/><circle cx="105.4" cy="397.4" r="2.95"/><circle cx="93.1" cy="393.0" r="2.95"/><circle cx="84.4" cy="435.5" r="2.95"/><circle cx="96.2" cy="387.8" r="2.95"/><circle cx="109.2" cy="366.0" r="2.95"/><circle cx="85.5" cy="391.1" r="2.95"/><circle cx="85.6" cy="412.7" r="2.95"/><circle cx="111.4" cy="375.0" r="2.95"/><circle cx="99.1" cy="342.7" r="2.95"/><circle cx="111.1" cy="387.8" r="2.95"/><circle cx="86.0" cy="407.2" r="2.95"/><circle cx="89.4" cy="387.4" r="2.95"/><circle cx="89.5" cy="399.7" r="2.95"/><circle cx="99.7" cy="401.0" r="2.95"/><circle cx="99.3" cy="440.7" r="2.95"/><circle cx="83.4" cy="437.5" r="2.95"/><circle cx="91.8" cy="374.1" r="2.95"/><circle cx="95.9" cy="409.3" r="2.95"/><circle cx="93.0" cy="440.9" r="2.95"/><circle cx="100.4" cy="410.2" r="2.95"/><circle cx="85.0" cy="387.6" r="2.95"/><circle cx="89.2" cy="385.3" r="2.95"/><circle cx="81.7" cy="411.6" r="2.95"/><circle cx="103.5" cy="440.7" r="2.95"/><circle cx="106.1" cy="423.1" r="2.95"/><circle cx="99.9" cy="423.9" r="2.95"/><circle cx="104.3" cy="426.0" r="2.95"/><circle cx="92.3" cy="426.4" r="2.95"/><circle cx="109.8" cy="384.8" r="2.95"/><circle cx="107.3" cy="392.0" r="2.95"/><circle cx="87.1" cy="439.2" r="2.95"/><circle cx="106.9" cy="438.8" r="2.95"/><circle cx="96.3" cy="437.1" r="2.95"/><circle cx="109.1" cy="338.2" r="2.95"/><circle cx="110.1" cy="423.5" r="2.95"/><circle cx="101.7" cy="383.9" r="2.95"/><circle cx="104.8" cy="390.2" r="2.95"/><circle cx="100.6" cy="378.8" r="2.95"/><circle cx="99.2" cy="416.7" r="2.95"/><circle cx="108.8" cy="366.8" r="2.95"/><circle cx="109.0" cy="423.3" r="2.95"/><circle cx="105.2" cy="387.9" r="2.95"/><circle cx="101.0" cy="416.3" r="2.95"/><circle cx="100.8" cy="400.5" r="2.95"/><circle cx="98.1" cy="387.5" r="2.95"/><circle cx="105.3" cy="411.1" r="2.95"/><circle cx="90.9" cy="411.6" r="2.95"/><circle cx="107.0" cy="331.4" r="2.95"/><circle cx="104.0" cy="428.1" r="2.95"/><circle cx="89.5" cy="376.9" r="2.95"/><circle cx="106.3" cy="371.2" r="2.95"/><circle cx="100.4" cy="385.2" r="2.95"/><circle cx="93.6" cy="364.6" r="2.95"/><circle cx="103.1" cy="366.2" r="2.95"/><circle cx="104.7" cy="412.4" r="2.95"/><circle cx="98.6" cy="411.4" r="2.95"/><circle cx="96.9" cy="423.2" r="2.95"/><circle cx="105.8" cy="408.0" r="2.95"/><circle cx="91.4" cy="421.4" r="2.95"/><circle cx="112.0" cy="391.3" r="2.95"/><circle cx="97.1" cy="422.3" r="2.95"/><circle cx="84.7" cy="422.7" r="2.95"/><circle cx="109.7" cy="408.7" r="2.95"/><circle cx="102.9" cy="422.1" r="2.95"/><circle cx="100.6" cy="350.0" r="2.95"/><circle cx="100.8" cy="337.1" r="2.95"/><circle cx="106.5" cy="424.6" r="2.95"/><circle cx="87.5" cy="398.3" r="2.95"/><circle cx="105.2" cy="404.4" r="2.95"/><circle cx="104.2" cy="371.0" r="2.95"/><circle cx="101.2" cy="365.5" r="2.95"/><circle cx="103.9" cy="430.1" r="2.95"/><circle cx="98.6" cy="437.5" r="2.95"/><circle cx="91.7" cy="443.9" r="2.95"/><circle cx="98.5" cy="411.5" r="2.95"/><circle cx="102.5" cy="403.4" r="2.95"/><circle cx="97.5" cy="371.8" r="2.95"/><circle cx="83.1" cy="434.2" r="2.95"/><circle cx="100.2" cy="414.7" r="2.95"/><circle cx="112.5" cy="388.4" r="2.95"/><circle cx="99.3" cy="407.1" r="2.95"/><circle cx="92.2" cy="409.9" r="2.95"/><circle cx="101.0" cy="440.6" r="2.95"/><circle cx="94.8" cy="435.5" r="2.95"/><circle cx="100.4" cy="369.0" r="2.95"/><circle cx="92.8" cy="434.7" r="2.95"/><circle cx="106.4" cy="346.4" r="2.95"/><circle cx="103.3" cy="385.9" r="2.95"/><circle cx="104.3" cy="356.8" r="2.95"/><circle cx="100.6" cy="359.0" r="2.95"/><circle cx="109.1" cy="398.8" r="2.95"/><circle cx="102.4" cy="418.1" r="2.95"/><circle cx="105.5" cy="367.2" r="2.95"/><circle cx="111.4" cy="381.1" r="2.95"/><circle cx="104.4" cy="401.8" r="2.95"/><circle cx="97.5" cy="355.2" r="2.95"/><circle cx="100.1" cy="441.9" r="2.95"/><circle cx="101.4" cy="416.8" r="2.95"/><circle cx="91.7" cy="382.3" r="2.95"/><circle cx="98.5" cy="382.4" r="2.95"/><circle cx="88.0" cy="383.0" r="2.95"/><circle cx="97.5" cy="400.0" r="2.95"/><circle cx="96.2" cy="432.6" r="2.95"/><circle cx="87.0" cy="402.8" r="2.95"/><circle cx="91.1" cy="399.6" r="2.95"/><circle cx="87.2" cy="420.4" r="2.95"/><circle cx="113.3" cy="376.1" r="2.95"/><circle cx="103.1" cy="420.6" r="2.95"/><circle cx="85.2" cy="396.0" r="2.95"/><circle cx="106.6" cy="415.5" r="2.95"/><circle cx="106.8" cy="393.7" r="2.95"/><circle cx="85.2" cy="422.5" r="2.95"/><circle cx="103.2" cy="405.6" r="2.95"/><circle cx="104.1" cy="432.8" r="2.95"/><circle cx="87.7" cy="427.9" r="2.95"/><circle cx="103.9" cy="423.9" r="2.95"/><circle cx="92.9" cy="371.8" r="2.95"/><circle cx="100.9" cy="374.7" r="2.95"/><circle cx="107.0" cy="438.4" r="2.95"/><circle cx="100.4" cy="374.1" r="2.95"/><circle cx="106.6" cy="372.0" r="2.95"/><circle cx="99.0" cy="424.3" r="2.95"/><circle cx="89.9" cy="417.9" r="2.95"/><circle cx="86.4" cy="390.8" r="2.95"/><circle cx="106.0" cy="431.9" r="2.95"/><circle cx="114.3" cy="361.7" r="2.95"/><circle cx="100.1" cy="442.7" r="2.95"/><circle cx="89.7" cy="389.4" r="2.95"/><circle cx="106.1" cy="391.2" r="2.95"/><circle cx="116.4" cy="364.3" r="2.95"/><circle cx="95.1" cy="419.6" r="2.95"/><circle cx="98.7" cy="430.1" r="2.95"/><circle cx="90.7" cy="418.5" r="2.95"/><circle cx="90.0" cy="400.0" r="2.95"/><circle cx="85.8" cy="387.5" r="2.95"/><circle cx="87.2" cy="414.3" r="2.95"/><circle cx="106.7" cy="438.0" r="2.95"/><circle cx="95.9" cy="469.7" r="2.95"/><circle cx="97.5" cy="468.6" r="2.95"/><circle cx="84.9" cy="450.4" r="2.95"/><circle cx="95.3" cy="452.6" r="2.95"/><circle cx="91.5" cy="448.2" r="2.95"/><circle cx="81.5" cy="441.0" r="2.95"/><circle cx="87.1" cy="444.3" r="2.95"/><circle cx="99.2" cy="443.2" r="2.95"/><circle cx="103.6" cy="436.6" r="2.95"/><circle cx="79.3" cy="433.3" r="2.95"/><circle cx="108.0" cy="437.7" r="2.95"/><circle cx="98.1" cy="433.3" r="2.95"/><circle cx="89.8" cy="451.0" r="2.95"/><circle cx="93.7" cy="445.4" r="2.95"/><circle cx="84.3" cy="445.4" r="2.95"/><circle cx="101.4" cy="446.5" r="2.95"/>
</g>
<g fill="#B80A1E">
<circle cx="209.5" cy="171.6" r="2.95"/><circle cx="108.8" cy="204.7" r="2.95"/><circle cx="121.0" cy="251.8" r="2.95"/><circle cx="102.5" cy="260.0" r="2.95"/><circle cx="112.6" cy="261.9" r="2.95"/><circle cx="88.7" cy="268.3" r="2.95"/><circle cx="91.0" cy="274.9" r="2.95"/><circle cx="90.6" cy="281.4" r="2.95"/><circle cx="95.6" cy="281.2" r="2.95"/><circle cx="102.3" cy="259.6" r="2.95"/><circle cx="103.4" cy="263.3" r="2.95"/><circle cx="113.1" cy="262.4" r="2.95"/><circle cx="105.3" cy="277.1" r="2.95"/><circle cx="92.0" cy="443.2" r="2.95"/><circle cx="96.4" cy="446.5" r="2.95"/><circle cx="103.1" cy="439.7" r="2.95"/><circle cx="95.9" cy="436.6" r="2.95"/><circle cx="93.1" cy="432.8" r="2.95"/><circle cx="98.1" cy="431.1" r="2.95"/><circle cx="96.1" cy="436.1" r="2.95"/><circle cx="95.5" cy="408.1" r="2.95"/><circle cx="99.7" cy="399.3" r="2.95"/><circle cx="93.8" cy="387.6" r="2.95"/><circle cx="87.5" cy="415.4" r="2.95"/><circle cx="99.2" cy="403.5" r="2.95"/><circle cx="93.3" cy="428.2" r="2.95"/><circle cx="91.8" cy="424.2" r="2.95"/><circle cx="100.6" cy="390.9" r="2.95"/><circle cx="91.1" cy="433.7" r="2.95"/><circle cx="95.1" cy="416.0" r="2.95"/><circle cx="100.0" cy="433.6" r="2.95"/><circle cx="103.2" cy="401.6" r="2.95"/><circle cx="105.6" cy="391.0" r="2.95"/><circle cx="88.0" cy="399.7" r="2.95"/><circle cx="98.0" cy="378.0" r="2.95"/><circle cx="100.2" cy="413.3" r="2.95"/><circle cx="88.5" cy="390.8" r="2.95"/><circle cx="95.7" cy="396.0" r="2.95"/><circle cx="93.4" cy="381.3" r="2.95"/><circle cx="88.5" cy="428.9" r="2.95"/><circle cx="88.4" cy="411.9" r="2.95"/><circle cx="99.5" cy="423.4" r="2.95"/><circle cx="103.3" cy="394.8" r="2.95"/><circle cx="97.2" cy="431.2" r="2.95"/><circle cx="96.0" cy="385.0" r="2.95"/><circle cx="104.0" cy="406.3" r="2.95"/><circle cx="92.7" cy="404.7" r="2.95"/><circle cx="96.2" cy="390.4" r="2.95"/><circle cx="100.7" cy="408.6" r="2.95"/><circle cx="86.3" cy="406.9" r="2.95"/><circle cx="101.5" cy="387.2" r="2.95"/><circle cx="101.2" cy="382.7" r="2.95"/><circle cx="92.1" cy="409.7" r="2.95"/><circle cx="96.1" cy="401.9" r="2.95"/><circle cx="92.3" cy="391.1" r="2.95"/><circle cx="86.4" cy="424.5" r="2.95"/><circle cx="90.7" cy="419.7" r="2.95"/><circle cx="105.7" cy="382.7" r="2.95"/><circle cx="96.7" cy="425.9" r="2.95"/><circle cx="94.7" cy="420.3" r="2.95"/><circle cx="91.4" cy="416.0" r="2.95"/><circle cx="95.9" cy="368.6" r="2.95"/><circle cx="93.2" cy="379.0" r="2.95"/><circle cx="95.4" cy="383.0" r="2.95"/><circle cx="92.0" cy="384.0" r="2.95"/><circle cx="107.0" cy="388.5" r="2.95"/><circle cx="93.0" cy="360.0" r="2.95"/><circle cx="114.0" cy="398.0" r="2.95"/><circle cx="112.5" cy="401.5" r="2.95"/><circle cx="107.5" cy="389.5" r="2.95"/>
</g>
<g fill="#7A0010">
<circle cx="87.6" cy="436.3" r="2.95"/><circle cx="85.4" cy="430.6" r="2.95"/><circle cx="83.0" cy="397.4" r="2.95"/><circle cx="92.7" cy="409.6" r="2.95"/><circle cx="96.5" cy="411.5" r="2.95"/><circle cx="84.3" cy="415.4" r="2.95"/><circle cx="86.9" cy="418.0" r="2.95"/><circle cx="92.0" cy="416.7" r="2.95"/><circle cx="92.0" cy="425.0" r="2.95"/><circle cx="85.6" cy="429.5" r="2.95"/>
</g>
<g fill="#CCE5FF">
<circle cx="387.7" cy="249.0" r="2.95"/><circle cx="388.1" cy="252.3" r="2.95"/><circle cx="387.3" cy="255.6" r="2.95"/><circle cx="453.5" cy="294.9" r="2.95"/><circle cx="465.5" cy="291.6" r="2.95"/><circle cx="450.7" cy="288.6" r="2.95"/><circle cx="454.5" cy="282.0" r="2.95"/><circle cx="451.5" cy="277.4" r="2.95"/><circle cx="457.0" cy="281.8" r="2.95"/><circle cx="446.5" cy="288.9" r="2.95"/><circle cx="451.5" cy="279.2" r="2.95"/><circle cx="463.1" cy="291.9" r="2.95"/><circle cx="453.7" cy="281.9" r="2.95"/><circle cx="464.6" cy="286.1" r="2.95"/><circle cx="451.4" cy="296.5" r="2.95"/><circle cx="458.1" cy="290.4" r="2.95"/><circle cx="454.8" cy="294.3" r="2.95"/><circle cx="439.9" cy="284.8" r="2.95"/><circle cx="450.6" cy="293.3" r="2.95"/><circle cx="440.3" cy="279.0" r="2.95"/><circle cx="450.1" cy="281.6" r="2.95"/><circle cx="440.1" cy="282.0" r="2.95"/><circle cx="460.6" cy="281.4" r="2.95"/><circle cx="460.4" cy="283.4" r="2.95"/><circle cx="462.0" cy="278.3" r="2.95"/><circle cx="457.9" cy="276.5" r="2.95"/><circle cx="449.3" cy="272.6" r="2.95"/><circle cx="453.4" cy="290.6" r="2.95"/><circle cx="444.8" cy="284.9" r="2.95"/><circle cx="451.9" cy="293.1" r="2.95"/><circle cx="452.5" cy="283.7" r="2.95"/><circle cx="456.5" cy="286.5" r="2.95"/><circle cx="453.8" cy="278.7" r="2.95"/><circle cx="464.7" cy="292.1" r="2.95"/><circle cx="444.2" cy="279.3" r="2.95"/><circle cx="458.3" cy="276.3" r="2.95"/><circle cx="461.0" cy="287.8" r="2.95"/><circle cx="441.5" cy="280.6" r="2.95"/><circle cx="446.9" cy="291.3" r="2.95"/><circle cx="441.7" cy="284.6" r="2.95"/><circle cx="456.6" cy="290.6" r="2.95"/><circle cx="459.9" cy="273.1" r="2.95"/><circle cx="446.2" cy="288.0" r="2.95"/><circle cx="458.5" cy="276.8" r="2.95"/><circle cx="446.3" cy="284.8" r="2.95"/><circle cx="455.5" cy="293.7" r="2.95"/><circle cx="459.3" cy="291.7" r="2.95"/><circle cx="445.0" cy="277.0" r="2.95"/><circle cx="456.9" cy="277.7" r="2.95"/><circle cx="456.1" cy="279.3" r="2.95"/><circle cx="452.6" cy="282.6" r="2.95"/><circle cx="447.9" cy="278.1" r="2.95"/><circle cx="453.2" cy="281.5" r="2.95"/><circle cx="450.9" cy="295.2" r="2.95"/><circle cx="458.4" cy="284.7" r="2.95"/><circle cx="446.0" cy="284.3" r="2.95"/><circle cx="457.2" cy="287.0" r="2.95"/><circle cx="463.1" cy="294.9" r="2.95"/><circle cx="443.8" cy="289.8" r="2.95"/><circle cx="448.0" cy="285.0" r="2.95"/><circle cx="458.8" cy="287.1" r="2.95"/><circle cx="455.4" cy="289.8" r="2.95"/><circle cx="447.9" cy="285.5" r="2.95"/><circle cx="454.0" cy="289.2" r="2.95"/><circle cx="459.4" cy="292.2" r="2.95"/><circle cx="462.0" cy="282.6" r="2.95"/><circle cx="449.5" cy="276.0" r="2.95"/><circle cx="451.7" cy="286.5" r="2.95"/><circle cx="443.1" cy="288.7" r="2.95"/><circle cx="455.6" cy="278.6" r="2.95"/><circle cx="455.0" cy="286.4" r="2.95"/><circle cx="459.8" cy="285.4" r="2.95"/><circle cx="445.4" cy="274.9" r="2.95"/><circle cx="456.5" cy="276.5" r="2.95"/><circle cx="459.2" cy="297.1" r="2.95"/><circle cx="447.8" cy="286.4" r="2.95"/><circle cx="455.3" cy="275.9" r="2.95"/><circle cx="456.8" cy="280.8" r="2.95"/><circle cx="455.1" cy="288.5" r="2.95"/><circle cx="449.8" cy="276.4" r="2.95"/><circle cx="451.2" cy="274.2" r="2.95"/><circle cx="443.3" cy="293.8" r="2.95"/><circle cx="462.6" cy="280.5" r="2.95"/><circle cx="448.1" cy="279.0" r="2.95"/><circle cx="451.3" cy="274.8" r="2.95"/><circle cx="442.5" cy="279.0" r="2.95"/><circle cx="448.1" cy="296.9" r="2.95"/><circle cx="455.6" cy="292.3" r="2.95"/><circle cx="453.3" cy="296.4" r="2.95"/><circle cx="460.1" cy="277.3" r="2.95"/><circle cx="459.9" cy="287.3" r="2.95"/><circle cx="464.3" cy="277.1" r="2.95"/><circle cx="462.6" cy="286.5" r="2.95"/><circle cx="450.1" cy="297.4" r="2.95"/><circle cx="443.0" cy="285.1" r="2.95"/><circle cx="462.6" cy="276.3" r="2.95"/><circle cx="443.8" cy="274.2" r="2.95"/><circle cx="463.3" cy="283.3" r="2.95"/><circle cx="442.3" cy="279.4" r="2.95"/><circle cx="459.2" cy="274.9" r="2.95"/><circle cx="455.9" cy="288.6" r="2.95"/><circle cx="459.8" cy="291.1" r="2.95"/><circle cx="449.3" cy="288.7" r="2.95"/><circle cx="463.6" cy="294.0" r="2.95"/><circle cx="463.9" cy="278.5" r="2.95"/><circle cx="459.7" cy="289.7" r="2.95"/><circle cx="451.1" cy="278.5" r="2.95"/><circle cx="457.5" cy="291.0" r="2.95"/><circle cx="441.6" cy="286.4" r="2.95"/><circle cx="445.8" cy="293.2" r="2.95"/><circle cx="451.8" cy="296.3" r="2.95"/><circle cx="451.4" cy="297.5" r="2.95"/><circle cx="459.4" cy="287.3" r="2.95"/><circle cx="445.7" cy="272.9" r="2.95"/><circle cx="458.1" cy="275.0" r="2.95"/><circle cx="452.9" cy="288.3" r="2.95"/><circle cx="450.8" cy="273.6" r="2.95"/><circle cx="455.3" cy="281.0" r="2.95"/><circle cx="453.8" cy="275.0" r="2.95"/><circle cx="452.5" cy="283.9" r="2.95"/><circle cx="458.3" cy="282.4" r="2.95"/><circle cx="454.9" cy="291.1" r="2.95"/><circle cx="466.1" cy="284.6" r="2.95"/><circle cx="456.8" cy="286.3" r="2.95"/><circle cx="444.1" cy="295.9" r="2.95"/><circle cx="462.3" cy="283.6" r="2.95"/><circle cx="454.7" cy="289.8" r="2.95"/><circle cx="460.0" cy="279.0" r="2.95"/><circle cx="446.0" cy="285.2" r="2.95"/><circle cx="466.9" cy="281.9" r="2.95"/><circle cx="456.1" cy="291.4" r="2.95"/><circle cx="457.0" cy="283.8" r="2.95"/><circle cx="456.1" cy="289.4" r="2.95"/><circle cx="447.7" cy="279.9" r="2.95"/><circle cx="452.6" cy="286.2" r="2.95"/><circle cx="442.7" cy="293.3" r="2.95"/><circle cx="447.1" cy="292.3" r="2.95"/><circle cx="464.7" cy="284.6" r="2.95"/><circle cx="447.8" cy="272.9" r="2.95"/><circle cx="460.7" cy="281.7" r="2.95"/><circle cx="459.3" cy="293.1" r="2.95"/><circle cx="444.7" cy="280.3" r="2.95"/><circle cx="449.8" cy="286.1" r="2.95"/><circle cx="423.0" cy="274.2" r="2.95"/><circle cx="443.3" cy="264.2" r="2.95"/>
</g>
<g fill="#9CCAF5">
<circle cx="384.4" cy="246.5" r="2.95"/><circle cx="386.4" cy="250.7" r="2.95"/><circle cx="452.4" cy="285.5" r="2.95"/><circle cx="458.6" cy="289.7" r="2.95"/><circle cx="459.4" cy="280.7" r="2.95"/><circle cx="451.6" cy="291.7" r="2.95"/><circle cx="456.9" cy="286.4" r="2.95"/><circle cx="448.1" cy="278.4" r="2.95"/><circle cx="461.0" cy="285.0" r="2.95"/><circle cx="446.6" cy="273.9" r="2.95"/><circle cx="442.5" cy="284.8" r="2.95"/><circle cx="454.4" cy="276.7" r="2.95"/><circle cx="461.7" cy="288.3" r="2.95"/><circle cx="449.4" cy="283.3" r="2.95"/><circle cx="443.4" cy="280.3" r="2.95"/><circle cx="453.7" cy="281.9" r="2.95"/><circle cx="456.1" cy="293.0" r="2.95"/><circle cx="450.7" cy="275.9" r="2.95"/><circle cx="452.4" cy="272.7" r="2.95"/><circle cx="445.6" cy="288.3" r="2.95"/><circle cx="445.7" cy="283.5" r="2.95"/><circle cx="458.9" cy="274.2" r="2.95"/><circle cx="455.8" cy="272.8" r="2.95"/><circle cx="453.6" cy="288.6" r="2.95"/><circle cx="448.8" cy="289.6" r="2.95"/><circle cx="460.7" cy="277.2" r="2.95"/><circle cx="456.3" cy="279.4" r="2.95"/><circle cx="445.8" cy="291.6" r="2.95"/><circle cx="463.1" cy="280.2" r="2.95"/><circle cx="451.4" cy="279.4" r="2.95"/><circle cx="444.3" cy="276.8" r="2.95"/><circle cx="417.2" cy="262.5" r="2.95"/><circle cx="418.3" cy="266.7" r="2.95"/><circle cx="457.8" cy="295.0" r="2.95"/><circle cx="451.3" cy="298.6" r="2.95"/>
</g>
<g fill="#4CA3E8">
<circle cx="367.8" cy="261.0" r="2.95"/><circle cx="369.1" cy="259.8" r="2.95"/><circle cx="453.9" cy="284.1" r="2.95"/><circle cx="457.8" cy="282.2" r="2.95"/><circle cx="454.5" cy="286.7" r="2.95"/><circle cx="437.0" cy="406.5" r="2.95"/><circle cx="489.3" cy="324.3" r="2.95"/><circle cx="504.2" cy="326.8" r="2.95"/><circle cx="492.2" cy="351.3" r="2.95"/><circle cx="490.2" cy="298.4" r="2.95"/><circle cx="510.7" cy="311.2" r="2.95"/><circle cx="478.2" cy="295.6" r="2.95"/><circle cx="513.1" cy="316.3" r="2.95"/><circle cx="482.4" cy="346.3" r="2.95"/><circle cx="502.0" cy="349.8" r="2.95"/><circle cx="486.1" cy="288.8" r="2.95"/><circle cx="511.2" cy="301.3" r="2.95"/><circle cx="513.5" cy="342.7" r="2.95"/><circle cx="494.6" cy="350.9" r="2.95"/><circle cx="503.9" cy="313.2" r="2.95"/><circle cx="487.4" cy="297.2" r="2.95"/><circle cx="495.2" cy="297.9" r="2.95"/><circle cx="469.4" cy="345.5" r="2.95"/><circle cx="490.9" cy="297.9" r="2.95"/><circle cx="489.8" cy="289.2" r="2.95"/><circle cx="472.9" cy="300.3" r="2.95"/><circle cx="486.3" cy="291.3" r="2.95"/><circle cx="475.5" cy="321.1" r="2.95"/><circle cx="514.3" cy="322.1" r="2.95"/><circle cx="472.4" cy="311.6" r="2.95"/><circle cx="498.0" cy="334.4" r="2.95"/><circle cx="472.3" cy="309.8" r="2.95"/><circle cx="486.2" cy="351.4" r="2.95"/><circle cx="517.9" cy="312.2" r="2.95"/><circle cx="499.8" cy="294.8" r="2.95"/><circle cx="517.7" cy="324.4" r="2.95"/><circle cx="486.7" cy="342.2" r="2.95"/><circle cx="472.2" cy="300.9" r="2.95"/><circle cx="517.6" cy="315.2" r="2.95"/><circle cx="507.0" cy="300.1" r="2.95"/><circle cx="468.9" cy="343.9" r="2.95"/><circle cx="492.7" cy="298.5" r="2.95"/><circle cx="475.4" cy="298.8" r="2.95"/><circle cx="502.1" cy="352.5" r="2.95"/><circle cx="500.6" cy="327.6" r="2.95"/><circle cx="482.0" cy="324.6" r="2.95"/><circle cx="505.4" cy="306.2" r="2.95"/><circle cx="507.0" cy="306.2" r="2.95"/><circle cx="485.1" cy="317.3" r="2.95"/><circle cx="503.4" cy="333.6" r="2.95"/><circle cx="474.2" cy="348.5" r="2.95"/><circle cx="487.7" cy="342.2" r="2.95"/><circle cx="514.6" cy="334.8" r="2.95"/><circle cx="485.2" cy="321.5" r="2.95"/><circle cx="512.8" cy="328.7" r="2.95"/><circle cx="502.9" cy="329.3" r="2.95"/><circle cx="477.2" cy="307.5" r="2.95"/><circle cx="472.7" cy="305.8" r="2.95"/><circle cx="500.6" cy="308.1" r="2.95"/><circle cx="508.8" cy="345.4" r="2.95"/><circle cx="481.3" cy="342.2" r="2.95"/><circle cx="519.6" cy="309.0" r="2.95"/><circle cx="477.8" cy="307.3" r="2.95"/><circle cx="485.9" cy="305.6" r="2.95"/><circle cx="490.4" cy="343.1" r="2.95"/><circle cx="512.9" cy="340.3" r="2.95"/><circle cx="504.5" cy="330.3" r="2.95"/><circle cx="487.9" cy="350.6" r="2.95"/><circle cx="498.9" cy="309.6" r="2.95"/><circle cx="501.6" cy="341.5" r="2.95"/><circle cx="478.3" cy="301.2" r="2.95"/><circle cx="477.8" cy="346.1" r="2.95"/><circle cx="495.5" cy="320.0" r="2.95"/><circle cx="479.3" cy="318.7" r="2.95"/><circle cx="512.2" cy="305.7" r="2.95"/><circle cx="501.6" cy="320.3" r="2.95"/><circle cx="501.9" cy="341.0" r="2.95"/><circle cx="491.1" cy="325.7" r="2.95"/><circle cx="490.4" cy="306.9" r="2.95"/><circle cx="503.0" cy="308.5" r="2.95"/><circle cx="479.4" cy="328.5" r="2.95"/><circle cx="495.9" cy="313.3" r="2.95"/><circle cx="501.8" cy="302.8" r="2.95"/><circle cx="468.1" cy="309.8" r="2.95"/><circle cx="503.4" cy="310.3" r="2.95"/><circle cx="493.4" cy="322.0" r="2.95"/><circle cx="480.6" cy="312.2" r="2.95"/><circle cx="501.3" cy="297.4" r="2.95"/><circle cx="499.9" cy="319.2" r="2.95"/><circle cx="497.2" cy="320.0" r="2.95"/><circle cx="510.0" cy="327.8" r="2.95"/><circle cx="500.1" cy="336.2" r="2.95"/><circle cx="471.2" cy="313.5" r="2.95"/><circle cx="474.9" cy="310.2" r="2.95"/><circle cx="506.2" cy="340.3" r="2.95"/><circle cx="473.6" cy="303.5" r="2.95"/><circle cx="499.0" cy="336.9" r="2.95"/><circle cx="494.4" cy="311.1" r="2.95"/><circle cx="517.7" cy="306.4" r="2.95"/><circle cx="472.3" cy="343.5" r="2.95"/><circle cx="491.0" cy="336.9" r="2.95"/><circle cx="490.4" cy="310.1" r="2.95"/><circle cx="485.0" cy="328.7" r="2.95"/><circle cx="474.9" cy="343.7" r="2.95"/><circle cx="481.8" cy="310.6" r="2.95"/><circle cx="496.3" cy="339.4" r="2.95"/><circle cx="501.7" cy="333.1" r="2.95"/><circle cx="504.1" cy="350.4" r="2.95"/><circle cx="518.4" cy="312.7" r="2.95"/><circle cx="511.7" cy="318.8" r="2.95"/><circle cx="479.1" cy="327.3" r="2.95"/><circle cx="507.5" cy="320.8" r="2.95"/><circle cx="479.0" cy="305.4" r="2.95"/><circle cx="491.4" cy="323.1" r="2.95"/><circle cx="511.2" cy="345.9" r="2.95"/><circle cx="500.3" cy="327.5" r="2.95"/><circle cx="487.2" cy="291.6" r="2.95"/><circle cx="476.0" cy="338.9" r="2.95"/><circle cx="502.0" cy="343.6" r="2.95"/><circle cx="500.2" cy="312.7" r="2.95"/><circle cx="497.2" cy="318.0" r="2.95"/><circle cx="478.0" cy="327.0" r="2.95"/><circle cx="491.7" cy="323.3" r="2.95"/><circle cx="494.4" cy="335.3" r="2.95"/><circle cx="472.6" cy="347.6" r="2.95"/><circle cx="502.1" cy="305.8" r="2.95"/><circle cx="489.1" cy="351.5" r="2.95"/><circle cx="484.2" cy="310.0" r="2.95"/><circle cx="500.7" cy="349.5" r="2.95"/><circle cx="496.2" cy="329.4" r="2.95"/><circle cx="509.6" cy="349.2" r="2.95"/><circle cx="483.9" cy="344.1" r="2.95"/><circle cx="472.8" cy="324.3" r="2.95"/><circle cx="495.5" cy="302.7" r="2.95"/><circle cx="504.2" cy="332.1" r="2.95"/><circle cx="492.6" cy="318.3" r="2.95"/><circle cx="501.7" cy="320.6" r="2.95"/><circle cx="489.7" cy="321.1" r="2.95"/><circle cx="493.7" cy="303.7" r="2.95"/><circle cx="490.3" cy="325.0" r="2.95"/><circle cx="477.3" cy="297.0" r="2.95"/><circle cx="483.3" cy="296.5" r="2.95"/><circle cx="492.5" cy="292.8" r="2.95"/><circle cx="471.7" cy="343.4" r="2.95"/><circle cx="512.6" cy="338.9" r="2.95"/><circle cx="478.9" cy="305.9" r="2.95"/><circle cx="485.2" cy="303.5" r="2.95"/><circle cx="500.5" cy="338.4" r="2.95"/><circle cx="487.2" cy="288.4" r="2.95"/><circle cx="492.2" cy="335.6" r="2.95"/><circle cx="482.7" cy="306.9" r="2.95"/><circle cx="486.3" cy="298.3" r="2.95"/><circle cx="502.6" cy="342.6" r="2.95"/><circle cx="482.3" cy="313.7" r="2.95"/><circle cx="486.9" cy="307.3" r="2.95"/><circle cx="515.7" cy="323.4" r="2.95"/><circle cx="518.4" cy="321.2" r="2.95"/><circle cx="518.2" cy="309.8" r="2.95"/><circle cx="497.5" cy="304.8" r="2.95"/><circle cx="477.2" cy="315.3" r="2.95"/><circle cx="495.1" cy="334.0" r="2.95"/><circle cx="504.9" cy="298.7" r="2.95"/><circle cx="487.1" cy="346.3" r="2.95"/><circle cx="479.8" cy="329.1" r="2.95"/><circle cx="493.6" cy="320.8" r="2.95"/><circle cx="493.7" cy="345.4" r="2.95"/><circle cx="481.0" cy="311.9" r="2.95"/><circle cx="469.8" cy="319.6" r="2.95"/><circle cx="512.5" cy="337.3" r="2.95"/><circle cx="475.1" cy="319.9" r="2.95"/><circle cx="490.5" cy="310.2" r="2.95"/><circle cx="489.0" cy="300.4" r="2.95"/><circle cx="486.2" cy="336.8" r="2.95"/><circle cx="490.0" cy="330.7" r="2.95"/><circle cx="487.7" cy="344.3" r="2.95"/><circle cx="512.1" cy="341.0" r="2.95"/><circle cx="511.7" cy="312.1" r="2.95"/><circle cx="480.2" cy="326.4" r="2.95"/><circle cx="515.0" cy="328.0" r="2.95"/><circle cx="494.0" cy="299.1" r="2.95"/><circle cx="485.8" cy="307.3" r="2.95"/><circle cx="478.9" cy="307.3" r="2.95"/><circle cx="514.7" cy="340.9" r="2.95"/><circle cx="507.3" cy="320.7" r="2.95"/><circle cx="500.7" cy="327.4" r="2.95"/><circle cx="502.0" cy="319.3" r="2.95"/><circle cx="504.3" cy="338.0" r="2.95"/><circle cx="508.9" cy="322.1" r="2.95"/><circle cx="489.2" cy="325.9" r="2.95"/><circle cx="517.0" cy="316.4" r="2.95"/><circle cx="483.3" cy="317.3" r="2.95"/><circle cx="507.0" cy="330.5" r="2.95"/><circle cx="498.2" cy="293.5" r="2.95"/><circle cx="501.7" cy="333.5" r="2.95"/><circle cx="489.6" cy="322.4" r="2.95"/><circle cx="478.8" cy="331.4" r="2.95"/><circle cx="503.3" cy="350.4" r="2.95"/><circle cx="498.2" cy="316.8" r="2.95"/><circle cx="487.7" cy="344.9" r="2.95"/><circle cx="489.5" cy="310.3" r="2.95"/><circle cx="476.6" cy="298.7" r="2.95"/><circle cx="510.7" cy="315.1" r="2.95"/><circle cx="471.1" cy="319.5" r="2.95"/><circle cx="514.8" cy="336.0" r="2.95"/><circle cx="489.2" cy="318.0" r="2.95"/><circle cx="481.8" cy="293.5" r="2.95"/><circle cx="501.5" cy="342.2" r="2.95"/><circle cx="509.9" cy="320.7" r="2.95"/><circle cx="489.6" cy="311.7" r="2.95"/><circle cx="519.3" cy="327.5" r="2.95"/><circle cx="483.3" cy="300.2" r="2.95"/><circle cx="506.7" cy="331.1" r="2.95"/><circle cx="477.8" cy="310.9" r="2.95"/><circle cx="485.7" cy="319.1" r="2.95"/><circle cx="476.1" cy="329.8" r="2.95"/><circle cx="495.9" cy="321.1" r="2.95"/><circle cx="497.0" cy="316.4" r="2.95"/><circle cx="480.1" cy="342.6" r="2.95"/><circle cx="503.1" cy="348.0" r="2.95"/><circle cx="496.5" cy="316.9" r="2.95"/><circle cx="478.7" cy="345.2" r="2.95"/><circle cx="478.5" cy="343.6" r="2.95"/><circle cx="494.1" cy="333.4" r="2.95"/><circle cx="484.2" cy="330.7" r="2.95"/><circle cx="500.8" cy="319.3" r="2.95"/><circle cx="505.7" cy="319.1" r="2.95"/><circle cx="500.7" cy="303.3" r="2.95"/><circle cx="472.8" cy="301.5" r="2.95"/><circle cx="472.8" cy="299.5" r="2.95"/><circle cx="482.0" cy="341.8" r="2.95"/><circle cx="475.4" cy="346.9" r="2.95"/><circle cx="490.6" cy="331.5" r="2.95"/><circle cx="507.3" cy="328.9" r="2.95"/><circle cx="476.9" cy="300.8" r="2.95"/><circle cx="491.9" cy="343.7" r="2.95"/><circle cx="484.8" cy="303.5" r="2.95"/><circle cx="476.9" cy="368.9" r="2.95"/><circle cx="487.7" cy="287.1" r="2.95"/><circle cx="490.9" cy="290.3" r="2.95"/><circle cx="484.4" cy="290.3" r="2.95"/><circle cx="501.2" cy="295.4" r="2.95"/>
</g>
<g fill="#0A85D6">
<circle cx="376.9" cy="239.1" r="2.95"/><circle cx="376.5" cy="242.4" r="2.95"/><circle cx="363.3" cy="248.2" r="2.95"/><circle cx="367.4" cy="247.0" r="2.95"/><circle cx="371.5" cy="245.7" r="2.95"/><circle cx="375.7" cy="245.7" r="2.95"/><circle cx="379.8" cy="246.1" r="2.95"/><circle cx="369.9" cy="250.7" r="2.95"/><circle cx="369.1" cy="254.8" r="2.95"/><circle cx="374.0" cy="249.0" r="2.95"/><circle cx="371.5" cy="257.3" r="2.95"/><circle cx="371.5" cy="249.0" r="2.95"/><circle cx="368.2" cy="251.5" r="2.95"/><circle cx="372.4" cy="252.3" r="2.95"/><circle cx="367.8" cy="256.9" r="2.95"/><circle cx="370.7" cy="258.9" r="2.95"/><circle cx="378.6" cy="244.1" r="2.95"/><circle cx="374.4" cy="243.6" r="2.95"/><circle cx="379.8" cy="249.9" r="2.95"/><circle cx="381.5" cy="252.3" r="2.95"/><circle cx="485.6" cy="351.9" r="2.95"/><circle cx="505.7" cy="351.5" r="2.95"/><circle cx="493.1" cy="310.1" r="2.95"/><circle cx="518.6" cy="313.0" r="2.95"/><circle cx="481.2" cy="345.8" r="2.95"/><circle cx="471.6" cy="342.9" r="2.95"/><circle cx="485.5" cy="332.6" r="2.95"/><circle cx="513.5" cy="313.7" r="2.95"/><circle cx="488.5" cy="292.8" r="2.95"/><circle cx="485.3" cy="347.3" r="2.95"/><circle cx="491.6" cy="321.7" r="2.95"/><circle cx="488.8" cy="336.6" r="2.95"/><circle cx="505.2" cy="300.4" r="2.95"/><circle cx="477.8" cy="308.1" r="2.95"/><circle cx="497.3" cy="301.0" r="2.95"/><circle cx="489.5" cy="312.8" r="2.95"/><circle cx="488.0" cy="316.2" r="2.95"/><circle cx="468.8" cy="342.1" r="2.95"/><circle cx="480.6" cy="310.6" r="2.95"/><circle cx="470.4" cy="341.5" r="2.95"/><circle cx="487.3" cy="293.3" r="2.95"/><circle cx="497.3" cy="347.8" r="2.95"/><circle cx="509.9" cy="329.6" r="2.95"/><circle cx="488.5" cy="310.0" r="2.95"/><circle cx="499.9" cy="340.5" r="2.95"/><circle cx="489.8" cy="294.3" r="2.95"/><circle cx="488.2" cy="333.1" r="2.95"/><circle cx="481.2" cy="305.5" r="2.95"/><circle cx="490.5" cy="296.7" r="2.95"/><circle cx="490.9" cy="337.7" r="2.95"/><circle cx="487.8" cy="300.9" r="2.95"/><circle cx="484.4" cy="347.8" r="2.95"/><circle cx="471.7" cy="342.5" r="2.95"/><circle cx="512.4" cy="308.6" r="2.95"/><circle cx="480.8" cy="338.9" r="2.95"/><circle cx="491.0" cy="321.0" r="2.95"/><circle cx="480.3" cy="332.1" r="2.95"/><circle cx="517.3" cy="315.2" r="2.95"/><circle cx="508.3" cy="304.5" r="2.95"/><circle cx="511.4" cy="303.9" r="2.95"/><circle cx="491.3" cy="311.4" r="2.95"/><circle cx="494.2" cy="353.8" r="2.95"/><circle cx="518.6" cy="315.6" r="2.95"/><circle cx="513.6" cy="322.8" r="2.95"/><circle cx="490.0" cy="352.9" r="2.95"/><circle cx="491.8" cy="326.2" r="2.95"/><circle cx="485.6" cy="329.8" r="2.95"/><circle cx="506.7" cy="325.6" r="2.95"/><circle cx="487.4" cy="306.0" r="2.95"/><circle cx="510.4" cy="344.7" r="2.95"/><circle cx="502.9" cy="298.4" r="2.95"/><circle cx="503.6" cy="299.2" r="2.95"/><circle cx="481.2" cy="330.6" r="2.95"/><circle cx="483.9" cy="329.6" r="2.95"/><circle cx="482.2" cy="309.2" r="2.95"/><circle cx="495.0" cy="340.9" r="2.95"/><circle cx="484.9" cy="320.6" r="2.95"/><circle cx="493.2" cy="343.5" r="2.95"/><circle cx="486.7" cy="296.5" r="2.95"/><circle cx="483.3" cy="321.1" r="2.95"/><circle cx="469.4" cy="349.2" r="2.95"/><circle cx="504.2" cy="308.9" r="2.95"/><circle cx="486.5" cy="311.4" r="2.95"/><circle cx="483.2" cy="331.1" r="2.95"/><circle cx="503.5" cy="296.8" r="2.95"/><circle cx="482.9" cy="347.5" r="2.95"/><circle cx="511.8" cy="318.2" r="2.95"/><circle cx="474.3" cy="325.7" r="2.95"/><circle cx="498.9" cy="348.0" r="2.95"/><circle cx="490.3" cy="322.4" r="2.95"/><circle cx="501.6" cy="298.7" r="2.95"/><circle cx="511.4" cy="329.7" r="2.95"/><circle cx="499.6" cy="330.1" r="2.95"/><circle cx="468.3" cy="343.0" r="2.95"/><circle cx="499.0" cy="298.3" r="2.95"/><circle cx="499.6" cy="335.0" r="2.95"/><circle cx="496.8" cy="332.3" r="2.95"/><circle cx="494.0" cy="308.5" r="2.95"/><circle cx="502.6" cy="321.0" r="2.95"/><circle cx="474.5" cy="303.6" r="2.95"/><circle cx="475.8" cy="301.2" r="2.95"/><circle cx="507.6" cy="325.5" r="2.95"/><circle cx="512.3" cy="328.4" r="2.95"/><circle cx="478.1" cy="315.6" r="2.95"/><circle cx="471.0" cy="349.5" r="2.95"/><circle cx="484.3" cy="308.8" r="2.95"/><circle cx="495.9" cy="309.1" r="2.95"/><circle cx="491.0" cy="310.2" r="2.95"/><circle cx="482.7" cy="292.2" r="2.95"/><circle cx="475.5" cy="329.7" r="2.95"/><circle cx="471.0" cy="301.2" r="2.95"/><circle cx="508.6" cy="350.0" r="2.95"/><circle cx="504.2" cy="342.8" r="2.95"/><circle cx="494.7" cy="336.2" r="2.95"/><circle cx="514.3" cy="339.8" r="2.95"/><circle cx="480.4" cy="339.6" r="2.95"/><circle cx="471.9" cy="349.7" r="2.95"/><circle cx="488.9" cy="317.7" r="2.95"/><circle cx="510.9" cy="327.7" r="2.95"/><circle cx="515.0" cy="311.8" r="2.95"/><circle cx="485.2" cy="298.1" r="2.95"/><circle cx="517.6" cy="305.8" r="2.95"/><circle cx="474.0" cy="342.6" r="2.95"/><circle cx="512.5" cy="334.3" r="2.95"/><circle cx="485.4" cy="296.6" r="2.95"/><circle cx="494.6" cy="326.5" r="2.95"/><circle cx="482.5" cy="305.6" r="2.95"/><circle cx="473.9" cy="321.7" r="2.95"/><circle cx="489.0" cy="306.1" r="2.95"/><circle cx="499.1" cy="353.0" r="2.95"/><circle cx="508.0" cy="323.0" r="2.95"/><circle cx="481.1" cy="311.2" r="2.95"/><circle cx="502.4" cy="351.9" r="2.95"/><circle cx="515.4" cy="305.7" r="2.95"/><circle cx="501.9" cy="317.8" r="2.95"/><circle cx="498.9" cy="346.7" r="2.95"/><circle cx="485.9" cy="334.0" r="2.95"/><circle cx="500.4" cy="329.4" r="2.95"/><circle cx="513.1" cy="303.8" r="2.95"/><circle cx="500.5" cy="327.7" r="2.95"/><circle cx="473.6" cy="317.9" r="2.95"/><circle cx="512.7" cy="340.3" r="2.95"/><circle cx="478.1" cy="326.5" r="2.95"/><circle cx="495.6" cy="299.1" r="2.95"/><circle cx="513.4" cy="307.1" r="2.95"/><circle cx="502.3" cy="323.1" r="2.95"/><circle cx="490.1" cy="325.2" r="2.95"/><circle cx="488.4" cy="313.6" r="2.95"/><circle cx="488.3" cy="301.2" r="2.95"/><circle cx="506.2" cy="344.5" r="2.95"/><circle cx="509.3" cy="322.7" r="2.95"/><circle cx="475.4" cy="319.6" r="2.95"/><circle cx="474.8" cy="341.2" r="2.95"/><circle cx="485.8" cy="327.3" r="2.95"/><circle cx="480.0" cy="336.6" r="2.95"/><circle cx="518.6" cy="326.5" r="2.95"/><circle cx="471.8" cy="298.8" r="2.95"/><circle cx="513.4" cy="331.5" r="2.95"/><circle cx="494.7" cy="349.6" r="2.95"/><circle cx="499.3" cy="333.5" r="2.95"/><circle cx="497.8" cy="324.1" r="2.95"/><circle cx="481.9" cy="309.5" r="2.95"/><circle cx="487.3" cy="338.8" r="2.95"/><circle cx="501.6" cy="325.0" r="2.95"/><circle cx="510.9" cy="307.2" r="2.95"/><circle cx="516.2" cy="314.7" r="2.95"/><circle cx="485.2" cy="324.2" r="2.95"/><circle cx="506.1" cy="344.2" r="2.95"/><circle cx="479.2" cy="311.1" r="2.95"/><circle cx="489.8" cy="349.3" r="2.95"/><circle cx="483.5" cy="330.7" r="2.95"/><circle cx="506.4" cy="311.3" r="2.95"/><circle cx="500.6" cy="327.2" r="2.95"/><circle cx="497.2" cy="351.3" r="2.95"/><circle cx="508.4" cy="336.8" r="2.95"/><circle cx="501.5" cy="342.4" r="2.95"/><circle cx="489.0" cy="311.9" r="2.95"/><circle cx="484.3" cy="348.0" r="2.95"/><circle cx="498.3" cy="305.4" r="2.95"/><circle cx="492.5" cy="347.7" r="2.95"/><circle cx="481.5" cy="337.7" r="2.95"/><circle cx="508.9" cy="339.3" r="2.95"/><circle cx="496.6" cy="297.1" r="2.95"/><circle cx="498.2" cy="337.5" r="2.95"/><circle cx="502.9" cy="300.0" r="2.95"/><circle cx="500.5" cy="321.7" r="2.95"/><circle cx="490.6" cy="318.1" r="2.95"/><circle cx="502.9" cy="325.9" r="2.95"/><circle cx="488.9" cy="344.4" r="2.95"/><circle cx="486.4" cy="304.3" r="2.95"/><circle cx="477.0" cy="348.1" r="2.95"/><circle cx="490.7" cy="338.6" r="2.95"/><circle cx="490.8" cy="353.6" r="2.95"/><circle cx="473.5" cy="303.1" r="2.95"/><circle cx="503.3" cy="344.0" r="2.95"/><circle cx="510.0" cy="338.5" r="2.95"/><circle cx="494.4" cy="331.2" r="2.95"/><circle cx="484.1" cy="341.1" r="2.95"/><circle cx="485.2" cy="330.8" r="2.95"/><circle cx="503.0" cy="343.3" r="2.95"/><circle cx="471.1" cy="339.7" r="2.95"/><circle cx="467.9" cy="343.7" r="2.95"/><circle cx="482.5" cy="347.2" r="2.95"/><circle cx="499.4" cy="318.5" r="2.95"/><circle cx="488.8" cy="331.3" r="2.95"/><circle cx="520.4" cy="317.3" r="2.95"/><circle cx="509.7" cy="340.8" r="2.95"/><circle cx="483.8" cy="315.4" r="2.95"/><circle cx="473.7" cy="318.1" r="2.95"/><circle cx="488.3" cy="315.3" r="2.95"/><circle cx="474.1" cy="299.4" r="2.95"/><circle cx="503.4" cy="337.0" r="2.95"/><circle cx="513.5" cy="324.6" r="2.95"/><circle cx="482.6" cy="343.0" r="2.95"/><circle cx="484.1" cy="321.6" r="2.95"/><circle cx="489.1" cy="349.3" r="2.95"/><circle cx="514.7" cy="317.6" r="2.95"/><circle cx="509.3" cy="320.2" r="2.95"/><circle cx="479.8" cy="317.9" r="2.95"/><circle cx="500.4" cy="328.0" r="2.95"/><circle cx="497.7" cy="323.4" r="2.95"/><circle cx="483.2" cy="294.7" r="2.95"/><circle cx="487.5" cy="306.2" r="2.95"/><circle cx="481.8" cy="336.3" r="2.95"/><circle cx="479.2" cy="343.1" r="2.95"/><circle cx="503.1" cy="344.0" r="2.95"/><circle cx="484.9" cy="317.4" r="2.95"/><circle cx="516.0" cy="330.6" r="2.95"/><circle cx="480.9" cy="309.7" r="2.95"/><circle cx="495.6" cy="335.0" r="2.95"/><circle cx="482.0" cy="299.2" r="2.95"/><circle cx="481.3" cy="330.2" r="2.95"/><circle cx="496.2" cy="296.9" r="2.95"/><circle cx="491.8" cy="303.2" r="2.95"/><circle cx="498.1" cy="301.5" r="2.95"/><circle cx="495.3" cy="330.4" r="2.95"/><circle cx="515.7" cy="321.4" r="2.95"/><circle cx="472.2" cy="303.0" r="2.95"/><circle cx="486.2" cy="313.3" r="2.95"/><circle cx="510.2" cy="331.0" r="2.95"/><circle cx="503.8" cy="341.2" r="2.95"/><circle cx="518.6" cy="324.0" r="2.95"/><circle cx="475.0" cy="339.0" r="2.95"/><circle cx="492.0" cy="307.6" r="2.95"/><circle cx="483.4" cy="294.0" r="2.95"/><circle cx="476.6" cy="322.5" r="2.95"/><circle cx="481.2" cy="306.1" r="2.95"/><circle cx="499.4" cy="321.1" r="2.95"/><circle cx="476.1" cy="340.1" r="2.95"/><circle cx="488.7" cy="295.0" r="2.95"/><circle cx="510.0" cy="346.8" r="2.95"/><circle cx="506.4" cy="345.5" r="2.95"/><circle cx="486.9" cy="324.0" r="2.95"/><circle cx="486.1" cy="309.1" r="2.95"/><circle cx="482.8" cy="297.0" r="2.95"/><circle cx="516.1" cy="328.4" r="2.95"/><circle cx="515.9" cy="304.6" r="2.95"/><circle cx="519.1" cy="324.7" r="2.95"/><circle cx="491.2" cy="331.5" r="2.95"/><circle cx="513.6" cy="341.0" r="2.95"/><circle cx="504.4" cy="341.6" r="2.95"/><circle cx="509.1" cy="331.9" r="2.95"/><circle cx="515.7" cy="328.6" r="2.95"/><circle cx="489.9" cy="342.9" r="2.95"/><circle cx="495.8" cy="338.4" r="2.95"/><circle cx="486.8" cy="294.1" r="2.95"/><circle cx="475.8" cy="349.2" r="2.95"/><circle cx="477.1" cy="297.4" r="2.95"/><circle cx="509.3" cy="306.1" r="2.95"/><circle cx="491.2" cy="351.0" r="2.95"/><circle cx="504.7" cy="305.7" r="2.95"/><circle cx="513.6" cy="336.3" r="2.95"/><circle cx="496.0" cy="313.9" r="2.95"/><circle cx="518.3" cy="312.7" r="2.95"/><circle cx="502.7" cy="308.4" r="2.95"/><circle cx="509.0" cy="305.4" r="2.95"/><circle cx="496.0" cy="328.3" r="2.95"/><circle cx="483.6" cy="341.1" r="2.95"/><circle cx="481.2" cy="345.9" r="2.95"/><circle cx="511.4" cy="322.3" r="2.95"/><circle cx="505.0" cy="301.9" r="2.95"/><circle cx="494.3" cy="328.1" r="2.95"/><circle cx="512.9" cy="313.7" r="2.95"/><circle cx="512.7" cy="323.9" r="2.95"/><circle cx="500.9" cy="331.4" r="2.95"/><circle cx="485.2" cy="350.8" r="2.95"/><circle cx="491.9" cy="333.7" r="2.95"/><circle cx="477.0" cy="332.0" r="2.95"/><circle cx="481.5" cy="336.9" r="2.95"/><circle cx="493.4" cy="337.7" r="2.95"/><circle cx="474.0" cy="320.2" r="2.95"/><circle cx="517.7" cy="312.2" r="2.95"/><circle cx="485.7" cy="349.8" r="2.95"/><circle cx="491.3" cy="298.9" r="2.95"/><circle cx="515.4" cy="309.5" r="2.95"/><circle cx="518.9" cy="309.2" r="2.95"/><circle cx="501.1" cy="329.6" r="2.95"/><circle cx="493.6" cy="306.5" r="2.95"/><circle cx="507.0" cy="320.4" r="2.95"/><circle cx="518.7" cy="316.3" r="2.95"/><circle cx="482.0" cy="325.3" r="2.95"/><circle cx="476.4" cy="317.4" r="2.95"/><circle cx="493.6" cy="308.5" r="2.95"/><circle cx="477.3" cy="325.4" r="2.95"/><circle cx="476.4" cy="300.5" r="2.95"/><circle cx="502.5" cy="298.9" r="2.95"/><circle cx="502.0" cy="342.3" r="2.95"/><circle cx="475.9" cy="296.9" r="2.95"/><circle cx="504.7" cy="328.1" r="2.95"/><circle cx="513.4" cy="323.5" r="2.95"/><circle cx="513.5" cy="304.2" r="2.95"/><circle cx="496.2" cy="333.9" r="2.95"/><circle cx="497.3" cy="297.2" r="2.95"/><circle cx="493.0" cy="298.7" r="2.95"/><circle cx="506.1" cy="311.2" r="2.95"/><circle cx="482.9" cy="333.0" r="2.95"/><circle cx="485.7" cy="296.1" r="2.95"/><circle cx="491.2" cy="340.7" r="2.95"/><circle cx="475.6" cy="321.1" r="2.95"/><circle cx="488.4" cy="301.0" r="2.95"/><circle cx="465.9" cy="365.0" r="2.95"/><circle cx="468.5" cy="361.8" r="2.95"/><circle cx="471.7" cy="363.8" r="2.95"/><circle cx="475.6" cy="363.1" r="2.95"/><circle cx="478.8" cy="362.5" r="2.95"/><circle cx="473.0" cy="367.0" r="2.95"/><circle cx="472.4" cy="373.4" r="2.95"/><circle cx="469.3" cy="364.5" r="2.95"/><circle cx="496.8" cy="356.0" r="2.95"/><circle cx="481.9" cy="292.2" r="2.95"/><circle cx="485.7" cy="291.6" r="2.95"/><circle cx="479.3" cy="295.4" r="2.95"/><circle cx="489.0" cy="294.2" r="2.95"/><circle cx="476.7" cy="298.0" r="2.95"/><circle cx="499.9" cy="296.7" r="2.95"/><circle cx="502.5" cy="299.3" r="2.95"/>
</g>
<g fill="#0A5CA8">
<circle cx="375.7" cy="249.0" r="2.95"/><circle cx="377.7" cy="251.5" r="2.95"/><circle cx="372.4" cy="255.6" r="2.95"/><circle cx="375.7" cy="256.5" r="2.95"/><circle cx="379.8" cy="255.6" r="2.95"/><circle cx="380.6" cy="258.5" r="2.95"/><circle cx="377.3" cy="260.6" r="2.95"/><circle cx="374.0" cy="258.9" r="2.95"/><circle cx="374.9" cy="253.2" r="2.95"/><circle cx="378.2" cy="254.0" r="2.95"/><circle cx="371.5" cy="254.8" r="2.95"/><circle cx="381.9" cy="256.5" r="2.95"/><circle cx="379.0" cy="258.1" r="2.95"/><circle cx="376.1" cy="261.8" r="2.95"/><circle cx="379.4" cy="261.0" r="2.95"/><circle cx="373.2" cy="257.3" r="2.95"/><circle cx="376.9" cy="248.6" r="2.95"/><circle cx="374.4" cy="250.3" r="2.95"/><circle cx="505.7" cy="342.0" r="2.95"/><circle cx="484.6" cy="295.3" r="2.95"/><circle cx="493.3" cy="343.7" r="2.95"/><circle cx="490.5" cy="330.7" r="2.95"/><circle cx="485.2" cy="338.9" r="2.95"/><circle cx="518.2" cy="312.3" r="2.95"/><circle cx="482.6" cy="310.5" r="2.95"/><circle cx="467.9" cy="346.6" r="2.95"/><circle cx="475.3" cy="341.7" r="2.95"/><circle cx="509.2" cy="339.0" r="2.95"/><circle cx="482.8" cy="348.0" r="2.95"/><circle cx="501.4" cy="310.8" r="2.95"/><circle cx="513.5" cy="318.3" r="2.95"/><circle cx="488.3" cy="309.2" r="2.95"/><circle cx="511.9" cy="321.6" r="2.95"/><circle cx="477.9" cy="310.7" r="2.95"/><circle cx="477.3" cy="345.7" r="2.95"/><circle cx="484.8" cy="342.5" r="2.95"/><circle cx="515.9" cy="313.3" r="2.95"/><circle cx="477.2" cy="310.2" r="2.95"/><circle cx="486.9" cy="329.3" r="2.95"/><circle cx="485.5" cy="346.3" r="2.95"/><circle cx="490.8" cy="301.3" r="2.95"/><circle cx="475.4" cy="305.9" r="2.95"/><circle cx="483.5" cy="344.6" r="2.95"/><circle cx="485.4" cy="322.0" r="2.95"/><circle cx="503.9" cy="333.0" r="2.95"/><circle cx="508.3" cy="332.0" r="2.95"/><circle cx="518.2" cy="315.8" r="2.95"/><circle cx="486.2" cy="345.0" r="2.95"/><circle cx="484.7" cy="347.5" r="2.95"/><circle cx="516.0" cy="326.3" r="2.95"/><circle cx="491.3" cy="304.9" r="2.95"/><circle cx="482.7" cy="333.1" r="2.95"/><circle cx="487.8" cy="307.5" r="2.95"/><circle cx="513.1" cy="336.0" r="2.95"/><circle cx="511.7" cy="314.2" r="2.95"/><circle cx="513.0" cy="304.5" r="2.95"/><circle cx="517.0" cy="307.4" r="2.95"/><circle cx="483.4" cy="339.7" r="2.95"/><circle cx="504.7" cy="313.8" r="2.95"/><circle cx="478.2" cy="321.2" r="2.95"/><circle cx="478.5" cy="310.0" r="2.95"/><circle cx="486.9" cy="306.0" r="2.95"/><circle cx="502.9" cy="303.2" r="2.95"/><circle cx="492.9" cy="346.4" r="2.95"/><circle cx="480.9" cy="328.9" r="2.95"/><circle cx="491.3" cy="332.6" r="2.95"/><circle cx="511.6" cy="320.6" r="2.95"/><circle cx="486.1" cy="318.0" r="2.95"/><circle cx="496.0" cy="332.7" r="2.95"/><circle cx="484.6" cy="338.1" r="2.95"/><circle cx="498.5" cy="316.8" r="2.95"/><circle cx="499.1" cy="328.4" r="2.95"/><circle cx="482.3" cy="309.1" r="2.95"/><circle cx="481.6" cy="347.5" r="2.95"/><circle cx="488.6" cy="323.6" r="2.95"/><circle cx="485.5" cy="311.4" r="2.95"/><circle cx="472.9" cy="303.2" r="2.95"/><circle cx="508.3" cy="341.1" r="2.95"/><circle cx="494.0" cy="342.2" r="2.95"/><circle cx="518.0" cy="315.1" r="2.95"/><circle cx="483.7" cy="298.3" r="2.95"/><circle cx="515.0" cy="319.3" r="2.95"/><circle cx="487.2" cy="339.4" r="2.95"/><circle cx="510.1" cy="326.0" r="2.95"/><circle cx="518.1" cy="312.0" r="2.95"/><circle cx="493.9" cy="323.7" r="2.95"/><circle cx="488.9" cy="319.9" r="2.95"/><circle cx="497.2" cy="335.6" r="2.95"/><circle cx="473.3" cy="303.5" r="2.95"/><circle cx="499.9" cy="334.3" r="2.95"/><circle cx="485.9" cy="308.3" r="2.95"/><circle cx="475.1" cy="309.2" r="2.95"/><circle cx="479.3" cy="311.5" r="2.95"/><circle cx="483.9" cy="344.8" r="2.95"/><circle cx="494.7" cy="311.3" r="2.95"/><circle cx="500.2" cy="335.8" r="2.95"/><circle cx="486.1" cy="308.1" r="2.95"/><circle cx="506.4" cy="339.0" r="2.95"/><circle cx="500.3" cy="325.8" r="2.95"/><circle cx="491.9" cy="331.5" r="2.95"/><circle cx="491.9" cy="340.6" r="2.95"/><circle cx="482.7" cy="316.8" r="2.95"/><circle cx="504.1" cy="326.3" r="2.95"/><circle cx="469.9" cy="342.8" r="2.95"/><circle cx="500.1" cy="319.3" r="2.95"/><circle cx="513.5" cy="338.8" r="2.95"/><circle cx="508.4" cy="335.8" r="2.95"/><circle cx="505.5" cy="338.4" r="2.95"/><circle cx="498.7" cy="328.9" r="2.95"/><circle cx="509.1" cy="338.7" r="2.95"/><circle cx="504.7" cy="331.4" r="2.95"/><circle cx="496.2" cy="308.1" r="2.95"/><circle cx="488.3" cy="314.7" r="2.95"/><circle cx="493.6" cy="329.8" r="2.95"/><circle cx="497.7" cy="300.5" r="2.95"/><circle cx="472.9" cy="311.3" r="2.95"/><circle cx="495.2" cy="343.5" r="2.95"/><circle cx="501.7" cy="331.9" r="2.95"/><circle cx="481.5" cy="319.6" r="2.95"/><circle cx="483.3" cy="336.5" r="2.95"/><circle cx="512.7" cy="334.4" r="2.95"/><circle cx="473.1" cy="305.2" r="2.95"/><circle cx="507.7" cy="326.2" r="2.95"/><circle cx="473.7" cy="340.5" r="2.95"/><circle cx="503.1" cy="315.3" r="2.95"/><circle cx="519.4" cy="317.2" r="2.95"/><circle cx="484.8" cy="315.9" r="2.95"/><circle cx="474.7" cy="315.6" r="2.95"/><circle cx="488.6" cy="298.8" r="2.95"/><circle cx="501.3" cy="333.6" r="2.95"/><circle cx="516.2" cy="328.4" r="2.95"/><circle cx="475.4" cy="340.1" r="2.95"/><circle cx="483.8" cy="324.8" r="2.95"/><circle cx="497.3" cy="321.6" r="2.95"/><circle cx="488.3" cy="322.5" r="2.95"/><circle cx="500.2" cy="300.4" r="2.95"/><circle cx="479.6" cy="311.6" r="2.95"/><circle cx="513.2" cy="322.4" r="2.95"/><circle cx="512.5" cy="307.1" r="2.95"/><circle cx="519.1" cy="312.7" r="2.95"/><circle cx="478.0" cy="337.6" r="2.95"/><circle cx="509.9" cy="338.6" r="2.95"/><circle cx="477.1" cy="327.3" r="2.95"/><circle cx="513.3" cy="337.3" r="2.95"/><circle cx="498.6" cy="334.4" r="2.95"/><circle cx="499.4" cy="316.1" r="2.95"/><circle cx="506.0" cy="332.5" r="2.95"/><circle cx="484.9" cy="300.0" r="2.95"/><circle cx="478.3" cy="315.9" r="2.95"/><circle cx="492.2" cy="326.3" r="2.95"/><circle cx="504.5" cy="301.5" r="2.95"/><circle cx="501.8" cy="308.4" r="2.95"/><circle cx="497.7" cy="309.8" r="2.95"/><circle cx="475.8" cy="325.2" r="2.95"/><circle cx="470.4" cy="343.4" r="2.95"/><circle cx="505.3" cy="321.0" r="2.95"/><circle cx="505.5" cy="316.9" r="2.95"/><circle cx="494.0" cy="330.1" r="2.95"/><circle cx="513.2" cy="339.4" r="2.95"/><circle cx="493.3" cy="336.5" r="2.95"/><circle cx="489.3" cy="330.4" r="2.95"/><circle cx="490.4" cy="305.1" r="2.95"/><circle cx="518.4" cy="313.9" r="2.95"/><circle cx="485.1" cy="302.7" r="2.95"/><circle cx="487.6" cy="333.8" r="2.95"/><circle cx="477.4" cy="307.4" r="2.95"/><circle cx="478.2" cy="332.2" r="2.95"/><circle cx="486.9" cy="341.6" r="2.95"/><circle cx="519.1" cy="316.3" r="2.95"/><circle cx="484.4" cy="334.8" r="2.95"/><circle cx="494.3" cy="304.9" r="2.95"/><circle cx="492.2" cy="319.2" r="2.95"/><circle cx="508.7" cy="320.0" r="2.95"/><circle cx="492.4" cy="334.5" r="2.95"/><circle cx="504.3" cy="314.5" r="2.95"/><circle cx="505.1" cy="319.6" r="2.95"/><circle cx="481.5" cy="343.3" r="2.95"/><circle cx="488.4" cy="338.6" r="2.95"/><circle cx="487.1" cy="344.8" r="2.95"/><circle cx="489.2" cy="330.9" r="2.95"/><circle cx="496.2" cy="328.4" r="2.95"/><circle cx="495.3" cy="343.2" r="2.95"/><circle cx="491.9" cy="327.0" r="2.95"/><circle cx="484.9" cy="304.6" r="2.95"/><circle cx="489.2" cy="325.9" r="2.95"/><circle cx="484.1" cy="294.8" r="2.95"/><circle cx="477.0" cy="329.4" r="2.95"/><circle cx="486.2" cy="328.2" r="2.95"/><circle cx="477.1" cy="336.8" r="2.95"/><circle cx="509.4" cy="341.5" r="2.95"/><circle cx="516.8" cy="308.2" r="2.95"/><circle cx="510.4" cy="321.1" r="2.95"/><circle cx="480.0" cy="324.6" r="2.95"/><circle cx="507.2" cy="334.2" r="2.95"/><circle cx="502.5" cy="322.9" r="2.95"/><circle cx="486.4" cy="313.9" r="2.95"/><circle cx="477.7" cy="301.0" r="2.95"/><circle cx="517.3" cy="324.8" r="2.95"/><circle cx="507.0" cy="304.8" r="2.95"/><circle cx="474.8" cy="303.3" r="2.95"/><circle cx="506.8" cy="329.9" r="2.95"/><circle cx="494.0" cy="305.8" r="2.95"/><circle cx="489.9" cy="330.9" r="2.95"/><circle cx="488.4" cy="332.5" r="2.95"/><circle cx="478.9" cy="299.8" r="2.95"/><circle cx="514.8" cy="309.9" r="2.95"/><circle cx="494.1" cy="339.3" r="2.95"/><circle cx="479.2" cy="315.2" r="2.95"/><circle cx="514.0" cy="336.7" r="2.95"/><circle cx="495.3" cy="319.9" r="2.95"/><circle cx="478.5" cy="314.6" r="2.95"/><circle cx="508.8" cy="307.3" r="2.95"/><circle cx="492.5" cy="322.2" r="2.95"/><circle cx="486.4" cy="320.0" r="2.95"/><circle cx="497.2" cy="341.3" r="2.95"/><circle cx="480.1" cy="316.9" r="2.95"/><circle cx="513.5" cy="320.1" r="2.95"/><circle cx="491.1" cy="298.5" r="2.95"/><circle cx="482.4" cy="331.4" r="2.95"/><circle cx="495.3" cy="347.7" r="2.95"/><circle cx="490.9" cy="316.3" r="2.95"/><circle cx="503.3" cy="345.2" r="2.95"/><circle cx="481.3" cy="337.8" r="2.95"/><circle cx="509.1" cy="333.4" r="2.95"/><circle cx="494.0" cy="331.0" r="2.95"/><circle cx="492.5" cy="343.6" r="2.95"/><circle cx="473.8" cy="307.6" r="2.95"/><circle cx="505.4" cy="344.3" r="2.95"/><circle cx="514.6" cy="324.1" r="2.95"/><circle cx="489.4" cy="341.3" r="2.95"/><circle cx="496.9" cy="324.2" r="2.95"/><circle cx="496.6" cy="323.2" r="2.95"/><circle cx="471.2" cy="345.0" r="2.95"/><circle cx="499.5" cy="332.2" r="2.95"/><circle cx="493.7" cy="317.5" r="2.95"/><circle cx="498.8" cy="310.0" r="2.95"/><circle cx="490.8" cy="317.6" r="2.95"/><circle cx="488.8" cy="324.4" r="2.95"/><circle cx="472.7" cy="344.2" r="2.95"/><circle cx="488.5" cy="328.0" r="2.95"/><circle cx="503.6" cy="303.0" r="2.95"/><circle cx="497.7" cy="331.4" r="2.95"/><circle cx="504.6" cy="323.0" r="2.95"/><circle cx="483.0" cy="304.4" r="2.95"/><circle cx="486.4" cy="328.1" r="2.95"/><circle cx="489.9" cy="296.4" r="2.95"/><circle cx="495.6" cy="348.0" r="2.95"/><circle cx="484.6" cy="335.6" r="2.95"/><circle cx="489.5" cy="348.5" r="2.95"/><circle cx="502.0" cy="339.8" r="2.95"/><circle cx="483.4" cy="328.5" r="2.95"/><circle cx="480.0" cy="299.9" r="2.95"/><circle cx="481.0" cy="325.1" r="2.95"/><circle cx="487.1" cy="333.0" r="2.95"/><circle cx="493.1" cy="313.2" r="2.95"/><circle cx="502.5" cy="330.0" r="2.95"/><circle cx="496.5" cy="334.2" r="2.95"/><circle cx="515.7" cy="326.8" r="2.95"/><circle cx="486.9" cy="298.2" r="2.95"/><circle cx="503.1" cy="335.7" r="2.95"/><circle cx="496.2" cy="316.2" r="2.95"/><circle cx="509.2" cy="329.1" r="2.95"/><circle cx="496.8" cy="317.8" r="2.95"/><circle cx="515.4" cy="306.2" r="2.95"/><circle cx="485.4" cy="325.7" r="2.95"/><circle cx="478.6" cy="322.1" r="2.95"/><circle cx="498.1" cy="342.7" r="2.95"/><circle cx="480.2" cy="299.3" r="2.95"/><circle cx="517.2" cy="324.9" r="2.95"/><circle cx="483.0" cy="308.8" r="2.95"/><circle cx="509.0" cy="313.3" r="2.95"/><circle cx="508.7" cy="321.6" r="2.95"/><circle cx="489.4" cy="312.0" r="2.95"/><circle cx="506.4" cy="327.8" r="2.95"/><circle cx="499.8" cy="339.1" r="2.95"/><circle cx="496.1" cy="324.3" r="2.95"/><circle cx="513.7" cy="323.1" r="2.95"/><circle cx="514.5" cy="330.5" r="2.95"/><circle cx="475.7" cy="322.0" r="2.95"/><circle cx="505.2" cy="303.2" r="2.95"/><circle cx="507.7" cy="323.1" r="2.95"/><circle cx="512.3" cy="337.7" r="2.95"/><circle cx="504.2" cy="336.4" r="2.95"/><circle cx="509.7" cy="336.0" r="2.95"/><circle cx="492.1" cy="300.2" r="2.95"/><circle cx="477.4" cy="324.1" r="2.95"/><circle cx="501.8" cy="320.1" r="2.95"/><circle cx="484.9" cy="306.7" r="2.95"/><circle cx="492.6" cy="304.7" r="2.95"/><circle cx="489.6" cy="306.9" r="2.95"/><circle cx="503.9" cy="332.0" r="2.95"/><circle cx="511.2" cy="332.2" r="2.95"/><circle cx="490.7" cy="297.2" r="2.95"/><circle cx="513.9" cy="336.1" r="2.95"/><circle cx="502.0" cy="334.6" r="2.95"/><circle cx="513.1" cy="307.1" r="2.95"/><circle cx="505.8" cy="337.8" r="2.95"/><circle cx="497.0" cy="302.3" r="2.95"/><circle cx="515.5" cy="314.2" r="2.95"/><circle cx="498.3" cy="328.0" r="2.95"/><circle cx="473.1" cy="312.6" r="2.95"/><circle cx="490.4" cy="302.2" r="2.95"/><circle cx="488.4" cy="313.1" r="2.95"/><circle cx="501.0" cy="346.2" r="2.95"/><circle cx="516.7" cy="324.4" r="2.95"/><circle cx="478.5" cy="347.3" r="2.95"/><circle cx="484.7" cy="325.3" r="2.95"/><circle cx="488.5" cy="341.2" r="2.95"/><circle cx="470.8" cy="306.3" r="2.95"/><circle cx="491.3" cy="318.6" r="2.95"/><circle cx="491.6" cy="338.2" r="2.95"/><circle cx="482.0" cy="317.1" r="2.95"/><circle cx="514.4" cy="311.6" r="2.95"/><circle cx="481.7" cy="322.1" r="2.95"/><circle cx="496.1" cy="337.2" r="2.95"/><circle cx="514.2" cy="330.5" r="2.95"/><circle cx="488.0" cy="323.7" r="2.95"/><circle cx="480.8" cy="346.9" r="2.95"/><circle cx="504.8" cy="337.4" r="2.95"/><circle cx="497.9" cy="311.5" r="2.95"/><circle cx="480.5" cy="347.8" r="2.95"/><circle cx="471.5" cy="345.0" r="2.95"/><circle cx="501.7" cy="340.5" r="2.95"/><circle cx="512.5" cy="320.1" r="2.95"/><circle cx="501.4" cy="323.7" r="2.95"/><circle cx="478.8" cy="313.5" r="2.95"/><circle cx="505.8" cy="338.1" r="2.95"/><circle cx="487.0" cy="342.0" r="2.95"/><circle cx="507.4" cy="331.4" r="2.95"/><circle cx="480.6" cy="298.1" r="2.95"/><circle cx="499.4" cy="321.6" r="2.95"/><circle cx="508.1" cy="306.6" r="2.95"/><circle cx="507.2" cy="306.3" r="2.95"/><circle cx="497.2" cy="323.2" r="2.95"/><circle cx="483.6" cy="341.7" r="2.95"/><circle cx="500.9" cy="325.9" r="2.95"/><circle cx="487.0" cy="326.5" r="2.95"/><circle cx="489.5" cy="319.5" r="2.95"/><circle cx="501.0" cy="324.4" r="2.95"/><circle cx="475.8" cy="344.8" r="2.95"/><circle cx="481.4" cy="330.7" r="2.95"/><circle cx="505.3" cy="343.7" r="2.95"/><circle cx="497.3" cy="341.1" r="2.95"/><circle cx="495.6" cy="333.9" r="2.95"/><circle cx="513.8" cy="330.6" r="2.95"/><circle cx="491.8" cy="298.2" r="2.95"/><circle cx="504.4" cy="317.1" r="2.95"/><circle cx="503.4" cy="315.4" r="2.95"/><circle cx="472.1" cy="305.9" r="2.95"/><circle cx="505.1" cy="323.5" r="2.95"/><circle cx="479.6" cy="341.4" r="2.95"/><circle cx="503.9" cy="301.4" r="2.95"/><circle cx="513.1" cy="323.1" r="2.95"/><circle cx="498.1" cy="345.4" r="2.95"/><circle cx="514.9" cy="319.0" r="2.95"/><circle cx="502.6" cy="307.9" r="2.95"/><circle cx="486.1" cy="322.1" r="2.95"/><circle cx="512.6" cy="308.1" r="2.95"/><circle cx="506.3" cy="338.5" r="2.95"/><circle cx="491.8" cy="307.5" r="2.95"/><circle cx="510.8" cy="308.8" r="2.95"/><circle cx="474.5" cy="338.9" r="2.95"/><circle cx="475.5" cy="316.4" r="2.95"/><circle cx="478.5" cy="321.4" r="2.95"/><circle cx="500.4" cy="306.4" r="2.95"/><circle cx="483.0" cy="346.3" r="2.95"/><circle cx="483.5" cy="297.9" r="2.95"/><circle cx="497.6" cy="326.3" r="2.95"/><circle cx="490.6" cy="329.6" r="2.95"/><circle cx="477.9" cy="343.7" r="2.95"/><circle cx="512.8" cy="304.2" r="2.95"/><circle cx="497.6" cy="335.4" r="2.95"/><circle cx="472.1" cy="305.0" r="2.95"/><circle cx="517.7" cy="314.7" r="2.95"/><circle cx="512.2" cy="305.6" r="2.95"/><circle cx="507.4" cy="321.1" r="2.95"/><circle cx="500.8" cy="338.1" r="2.95"/><circle cx="488.3" cy="334.8" r="2.95"/><circle cx="501.6" cy="342.9" r="2.95"/><circle cx="476.3" cy="323.3" r="2.95"/><circle cx="489.0" cy="342.1" r="2.95"/><circle cx="503.2" cy="331.6" r="2.95"/><circle cx="503.2" cy="341.3" r="2.95"/><circle cx="481.8" cy="323.6" r="2.95"/><circle cx="504.4" cy="326.3" r="2.95"/><circle cx="508.8" cy="338.0" r="2.95"/><circle cx="483.5" cy="340.6" r="2.95"/><circle cx="512.4" cy="328.7" r="2.95"/><circle cx="506.2" cy="302.1" r="2.95"/><circle cx="485.9" cy="300.2" r="2.95"/><circle cx="498.5" cy="343.2" r="2.95"/><circle cx="486.7" cy="339.1" r="2.95"/><circle cx="501.3" cy="330.5" r="2.95"/><circle cx="496.9" cy="303.0" r="2.95"/><circle cx="491.8" cy="329.5" r="2.95"/><circle cx="484.9" cy="295.0" r="2.95"/><circle cx="498.4" cy="322.2" r="2.95"/><circle cx="492.9" cy="321.2" r="2.95"/><circle cx="484.1" cy="324.6" r="2.95"/><circle cx="487.9" cy="299.6" r="2.95"/><circle cx="519.2" cy="315.4" r="2.95"/><circle cx="482.1" cy="297.5" r="2.95"/><circle cx="470.3" cy="346.7" r="2.95"/><circle cx="493.2" cy="335.2" r="2.95"/><circle cx="498.8" cy="316.0" r="2.95"/><circle cx="497.6" cy="320.8" r="2.95"/><circle cx="489.5" cy="327.7" r="2.95"/><circle cx="474.1" cy="345.7" r="2.95"/><circle cx="513.9" cy="335.4" r="2.95"/><circle cx="483.1" cy="336.3" r="2.95"/><circle cx="496.7" cy="336.6" r="2.95"/><circle cx="509.6" cy="324.9" r="2.95"/><circle cx="484.9" cy="326.0" r="2.95"/><circle cx="499.3" cy="337.2" r="2.95"/><circle cx="482.2" cy="337.1" r="2.95"/><circle cx="513.0" cy="339.3" r="2.95"/><circle cx="486.4" cy="304.3" r="2.95"/><circle cx="492.5" cy="343.8" r="2.95"/><circle cx="481.6" cy="352.2" r="2.95"/><circle cx="466.6" cy="346.4" r="2.95"/><circle cx="475.6" cy="347.0" r="2.95"/><circle cx="471.6" cy="300.6" r="2.95"/><circle cx="467.7" cy="310.2" r="2.95"/>
</g>
<g fill="#0A2F73">
<circle cx="484.4" cy="307.0" r="2.95"/><circle cx="487.7" cy="304.4" r="2.95"/><circle cx="491.5" cy="304.4" r="2.95"/><circle cx="487.7" cy="312.2" r="2.95"/><circle cx="491.5" cy="314.7" r="2.95"/><circle cx="492.2" cy="318.0" r="2.95"/><circle cx="496.0" cy="317.3" r="2.95"/><circle cx="499.9" cy="318.6" r="2.95"/><circle cx="498.6" cy="323.1" r="2.95"/><circle cx="503.8" cy="319.9" r="2.95"/><circle cx="505.0" cy="324.4" r="2.95"/><circle cx="508.9" cy="322.5" r="2.95"/><circle cx="512.8" cy="323.1" r="2.95"/><circle cx="508.3" cy="307.7" r="2.95"/><circle cx="508.9" cy="312.2" r="2.95"/><circle cx="511.5" cy="314.7" r="2.95"/><circle cx="515.3" cy="316.0" r="2.95"/><circle cx="514.0" cy="319.9" r="2.95"/><circle cx="504.4" cy="314.7" r="2.95"/><circle cx="498.6" cy="313.5" r="2.95"/><circle cx="494.7" cy="312.2" r="2.95"/><circle cx="490.9" cy="309.6" r="2.95"/><circle cx="517.9" cy="314.1" r="2.95"/><circle cx="519.8" cy="315.4" r="2.95"/><circle cx="502.5" cy="316.7" r="2.95"/><circle cx="494.1" cy="306.4" r="2.95"/><circle cx="506.3" cy="317.3" r="2.95"/><circle cx="510.8" cy="318.6" r="2.95"/><circle cx="501.2" cy="320.5" r="2.95"/>
</g>
<g fill="none" stroke="#111" stroke-width="1.1">
<rect x="58.7" y="9.9" width="479.3" height="478.5"/>
<path d="M82.2 488.4V495.7"/><path d="M168.3 488.4V495.7"/><path d="M254.4 488.4V495.7"/><path d="M340.4 488.4V495.7"/><path d="M426.5 488.4V495.7"/><path d="M512.6 488.4V495.7"/>
<path d="M58.7 409.2H51.1"/><path d="M58.7 310.8H51.1"/><path d="M58.7 212.3H51.1"/><path d="M58.7 113.8H51.1"/><path d="M58.7 15.4H51.1"/>
</g>
<g font-size="11.2" text-anchor="middle">
<text x="82.2" y="513.6">−0.010</text>
<text x="168.3" y="513.6">−0.005</text>
<text x="254.4" y="513.6">0.000</text>
<text x="340.4" y="513.6">0.005</text>
<text x="426.5" y="513.6">0.010</text>
<text x="512.6" y="513.6">0.015</text>
<text transform="translate(42.1 409.7) rotate(-90)">−0.01</text>
<text transform="translate(42.1 311.2) rotate(-90)">0.00</text>
<text transform="translate(42.1 212.8) rotate(-90)">0.01</text>
<text transform="translate(42.1 114.3) rotate(-90)">0.02</text>
<text transform="translate(42.1 15.9) rotate(-90)">0.03</text>
<text x="298.2" y="542" font-size="11.4">PC 1 (27%)</text>
<text transform="translate(14.1 248.9) rotate(-90)" font-size="11.4">PC 2 (3.2%)</text>
</g>
<g font-size="13.45">
<circle cx="353.2" cy="26.4" r="3.55" fill="#CCE5FF"/>
<text x="364.9" y="31.3">LL − gen. 0</text>
<circle cx="353.2" cy="43.1" r="3.55" fill="#9CCAF5"/>
<text x="364.9" y="48.0">LL − gen. 1</text>
<circle cx="353.2" cy="59.8" r="3.55" fill="#4CA3E8"/>
<text x="364.9" y="64.7">LL − gen. 2</text>
<circle cx="353.2" cy="76.4" r="3.55" fill="#0A85D6"/>
<text x="364.9" y="81.3">LL − gen. 3</text>
<circle cx="353.2" cy="93.1" r="3.55" fill="#0A5CA8"/>
<text x="364.9" y="98.0">LL − gen. 4</text>
<circle cx="353.2" cy="109.8" r="3.55" fill="#0A2F73"/>
<text x="364.9" y="114.7">LL − gen. 5</text>
<circle cx="449.3" cy="26.4" r="3.55" fill="#FFD6DA"/>
<text x="461.2" y="31.3">YY − gen. 0</text>
<circle cx="449.3" cy="43.1" r="3.55" fill="#FFB0B8"/>
<text x="461.2" y="48.0">YY − gen. 1</text>
<circle cx="449.3" cy="59.8" r="3.55" fill="#FF8592"/>
<text x="461.2" y="64.7">YY − gen. 2</text>
<circle cx="449.3" cy="76.4" r="3.55" fill="#FF5060"/>
<text x="461.2" y="81.3">YY − gen. 3</text>
<circle cx="449.3" cy="93.1" r="3.55" fill="#FF1030"/>
<text x="461.2" y="98.0">YY − gen. 4</text>
<circle cx="449.3" cy="109.8" r="3.55" fill="#B80A1E"/>
<text x="461.2" y="114.7">YY − gen. 5</text>
<circle cx="449.3" cy="126.5" r="3.55" fill="#7A0010"/>
<text x="461.2" y="131.4">YY − gen. 6</text>
</g>
</svg></body></html>
